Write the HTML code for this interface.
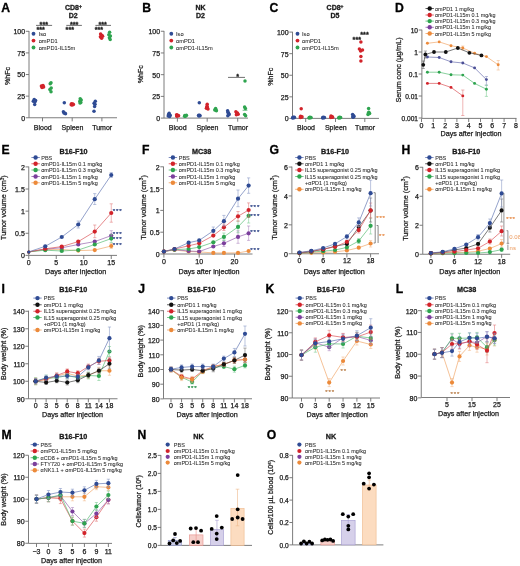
<!DOCTYPE html>
<html><head><meta charset="utf-8"><style>
html,body{margin:0;padding:0;background:#fff;}
svg{display:block;}
text{font-family:"Liberation Sans", Arial, sans-serif;}
</style></head><body>
<svg width="520" height="566" viewBox="0 0 520 566">
<rect width="520" height="566" fill="#fff"/>
<text x="1.25" y="11.7" font-size="12.2" text-anchor="start" font-weight="bold" fill="#000" stroke="#000" stroke-width="0.3">A</text>
<line x1="29" y1="31" x2="29" y2="117.75" stroke="#6e6e6e" stroke-width="0.9"/>
<line x1="25.8" y1="117.75" x2="29" y2="117.75" stroke="#6e6e6e" stroke-width="0.9"/>
<text x="25.1" y="120.67" font-size="7" text-anchor="end" fill="#1a1a1a" stroke="#1a1a1a" stroke-width="0.25">0</text>
<line x1="25.8" y1="96.14" x2="29" y2="96.14" stroke="#6e6e6e" stroke-width="0.9"/>
<text x="25.1" y="99.06" font-size="7" text-anchor="end" fill="#1a1a1a" stroke="#1a1a1a" stroke-width="0.25">25</text>
<line x1="25.8" y1="74.53" x2="29" y2="74.53" stroke="#6e6e6e" stroke-width="0.9"/>
<text x="25.1" y="77.45" font-size="7" text-anchor="end" fill="#1a1a1a" stroke="#1a1a1a" stroke-width="0.25">50</text>
<line x1="25.8" y1="52.91" x2="29" y2="52.91" stroke="#6e6e6e" stroke-width="0.9"/>
<text x="25.1" y="55.83" font-size="7" text-anchor="end" fill="#1a1a1a" stroke="#1a1a1a" stroke-width="0.25">75</text>
<line x1="25.8" y1="31.3" x2="29" y2="31.3" stroke="#6e6e6e" stroke-width="0.9"/>
<text x="25.1" y="34.22" font-size="7" text-anchor="end" fill="#1a1a1a" stroke="#1a1a1a" stroke-width="0.25">100</text>
<line x1="29" y1="117.75" x2="117" y2="117.75" stroke="#6e6e6e" stroke-width="0.9"/>
<line x1="42.5" y1="117.75" x2="42.5" y2="121.35" stroke="#6e6e6e" stroke-width="0.9"/>
<line x1="72.2" y1="117.75" x2="72.2" y2="121.35" stroke="#6e6e6e" stroke-width="0.9"/>
<line x1="101.9" y1="117.75" x2="101.9" y2="121.35" stroke="#6e6e6e" stroke-width="0.9"/>
<text x="42.8" y="129.7" font-size="7" text-anchor="middle" fill="#1a1a1a" stroke="#1a1a1a" stroke-width="0.25">Blood</text>
<text x="72.5" y="129.7" font-size="7" text-anchor="middle" fill="#1a1a1a" stroke="#1a1a1a" stroke-width="0.25">Spleen</text>
<text x="102.2" y="129.7" font-size="7" text-anchor="middle" fill="#1a1a1a" stroke="#1a1a1a" stroke-width="0.25">Tumor</text>
<text x="9.6" y="76.03" font-size="7" text-anchor="middle" fill="#1a1a1a" stroke="#1a1a1a" stroke-width="0.25" transform="rotate(-90 9.6 76.03)">%hFc</text>
<circle cx="34.2" cy="99.6" r="1.75" fill="#2f4b94"/>
<circle cx="35.6" cy="100.46" r="1.75" fill="#2f4b94"/>
<circle cx="33.3" cy="101.32" r="1.75" fill="#2f4b94"/>
<circle cx="35" cy="101.76" r="1.75" fill="#2f4b94"/>
<circle cx="34.7" cy="104.61" r="1.75" fill="#2f4b94"/>
<circle cx="41.4" cy="85.94" r="1.75" fill="#d2232a"/>
<circle cx="42.6" cy="86.46" r="1.75" fill="#d2232a"/>
<circle cx="43.6" cy="87.06" r="1.75" fill="#d2232a"/>
<circle cx="42" cy="87.49" r="1.75" fill="#d2232a"/>
<circle cx="43" cy="85.59" r="1.75" fill="#d2232a"/>
<circle cx="51" cy="82.65" r="1.75" fill="#2ea44f"/>
<circle cx="50.2" cy="83.86" r="1.75" fill="#2ea44f"/>
<circle cx="51.2" cy="87.92" r="1.75" fill="#2ea44f"/>
<circle cx="49.9" cy="89.39" r="1.75" fill="#2ea44f"/>
<circle cx="51" cy="91.64" r="1.75" fill="#2ea44f"/>
<circle cx="64.3" cy="102.79" r="1.75" fill="#2f4b94"/>
<circle cx="63.4" cy="111.87" r="1.75" fill="#2f4b94"/>
<circle cx="65" cy="113.25" r="1.75" fill="#2f4b94"/>
<circle cx="64" cy="112.91" r="1.75" fill="#2f4b94"/>
<circle cx="65.5" cy="113.77" r="1.75" fill="#2f4b94"/>
<circle cx="71.5" cy="103.75" r="1.75" fill="#d2232a"/>
<circle cx="72.8" cy="103.92" r="1.75" fill="#d2232a"/>
<circle cx="72.2" cy="104.96" r="1.75" fill="#d2232a"/>
<circle cx="73.4" cy="104.61" r="1.75" fill="#d2232a"/>
<circle cx="71.2" cy="104.78" r="1.75" fill="#d2232a"/>
<circle cx="80.2" cy="98.82" r="1.75" fill="#2ea44f"/>
<circle cx="81.2" cy="100.11" r="1.75" fill="#2ea44f"/>
<circle cx="79.8" cy="101.32" r="1.75" fill="#2ea44f"/>
<circle cx="80.8" cy="102.53" r="1.75" fill="#2ea44f"/>
<circle cx="80" cy="103.05" r="1.75" fill="#2ea44f"/>
<circle cx="95.3" cy="101.32" r="1.75" fill="#2f4b94"/>
<circle cx="94.1" cy="103.23" r="1.75" fill="#2f4b94"/>
<circle cx="95" cy="104.35" r="1.75" fill="#2f4b94"/>
<circle cx="94.6" cy="106.51" r="1.75" fill="#2f4b94"/>
<circle cx="94" cy="111.18" r="1.75" fill="#2f4b94"/>
<circle cx="100.6" cy="33.89" r="1.75" fill="#d2232a"/>
<circle cx="102" cy="35.45" r="1.75" fill="#d2232a"/>
<circle cx="100.4" cy="36.66" r="1.75" fill="#d2232a"/>
<circle cx="101.6" cy="38.22" r="1.75" fill="#d2232a"/>
<circle cx="102.6" cy="36.14" r="1.75" fill="#d2232a"/>
<circle cx="109.6" cy="32.34" r="1.75" fill="#2ea44f"/>
<circle cx="108.8" cy="34.76" r="1.75" fill="#2ea44f"/>
<circle cx="110.4" cy="35.97" r="1.75" fill="#2ea44f"/>
<circle cx="109.4" cy="37.7" r="1.75" fill="#2ea44f"/>
<circle cx="110.2" cy="39.6" r="1.75" fill="#2ea44f"/>
<circle cx="33.5" cy="33.75" r="1.9" fill="#2f4b94"/>
<text x="38.7" y="35.75" font-size="5.7" text-anchor="start" fill="#2a2a2a" stroke="#2a2a2a" stroke-width="0.06">Iso</text>
<circle cx="33.5" cy="40.6" r="1.9" fill="#d2232a"/>
<text x="38.7" y="42.6" font-size="5.7" text-anchor="start" fill="#2a2a2a" stroke="#2a2a2a" stroke-width="0.06">omPD1</text>
<circle cx="33.5" cy="47.5" r="1.9" fill="#2ea44f"/>
<text x="38.7" y="49.5" font-size="5.7" text-anchor="start" fill="#2a2a2a" stroke="#2a2a2a" stroke-width="0.06">omPD1-IL15m</text>
<text x="73.3" y="10.2" font-size="7" text-anchor="middle" font-weight="bold" fill="#1a1a1a" stroke="#1a1a1a" stroke-width="0.3">CD8<tspan font-size="4.8" dy="-2.6">+</tspan></text>
<text x="73.3" y="18.2" font-size="7" text-anchor="middle" font-weight="bold" fill="#1a1a1a" stroke="#1a1a1a" stroke-width="0.3">D2</text>
<line x1="36" y1="25.4" x2="52.1" y2="25.4" stroke="#333" stroke-width="0.7"/>
<text x="43.8" y="26.63" font-size="7.2" text-anchor="middle" font-weight="bold" fill="#1a1a1a" stroke="#1a1a1a" stroke-width="0.3">***</text>
<text x="40.6" y="32.23" font-size="7.2" text-anchor="middle" font-weight="bold" fill="#1a1a1a" stroke="#1a1a1a" stroke-width="0.3">***</text>
<line x1="66.3" y1="25.4" x2="81.9" y2="25.4" stroke="#333" stroke-width="0.7"/>
<text x="74.1" y="26.63" font-size="7.2" text-anchor="middle" font-weight="bold" fill="#1a1a1a" stroke="#1a1a1a" stroke-width="0.3">***</text>
<text x="69.8" y="32.23" font-size="7.2" text-anchor="middle" font-weight="bold" fill="#1a1a1a" stroke="#1a1a1a" stroke-width="0.3">***</text>
<line x1="95.4" y1="25.4" x2="111" y2="25.4" stroke="#333" stroke-width="0.7"/>
<text x="102.7" y="26.63" font-size="7.2" text-anchor="middle" font-weight="bold" fill="#1a1a1a" stroke="#1a1a1a" stroke-width="0.3">***</text>
<text x="98.9" y="32.23" font-size="7.2" text-anchor="middle" font-weight="bold" fill="#1a1a1a" stroke="#1a1a1a" stroke-width="0.3">***</text>
<text x="142.2" y="11.7" font-size="12.2" text-anchor="start" font-weight="bold" fill="#000" stroke="#000" stroke-width="0.3">B</text>
<line x1="164" y1="30.95" x2="164" y2="118.1" stroke="#6e6e6e" stroke-width="0.9"/>
<line x1="160.8" y1="118.1" x2="164" y2="118.1" stroke="#6e6e6e" stroke-width="0.9"/>
<text x="160.1" y="121.02" font-size="7" text-anchor="end" fill="#1a1a1a" stroke="#1a1a1a" stroke-width="0.25">0</text>
<line x1="160.8" y1="96.39" x2="164" y2="96.39" stroke="#6e6e6e" stroke-width="0.9"/>
<text x="160.1" y="99.31" font-size="7" text-anchor="end" fill="#1a1a1a" stroke="#1a1a1a" stroke-width="0.25">25</text>
<line x1="160.8" y1="74.67" x2="164" y2="74.67" stroke="#6e6e6e" stroke-width="0.9"/>
<text x="160.1" y="77.59" font-size="7" text-anchor="end" fill="#1a1a1a" stroke="#1a1a1a" stroke-width="0.25">50</text>
<line x1="160.8" y1="52.96" x2="164" y2="52.96" stroke="#6e6e6e" stroke-width="0.9"/>
<text x="160.1" y="55.88" font-size="7" text-anchor="end" fill="#1a1a1a" stroke="#1a1a1a" stroke-width="0.25">75</text>
<line x1="160.8" y1="31.25" x2="164" y2="31.25" stroke="#6e6e6e" stroke-width="0.9"/>
<text x="160.1" y="34.17" font-size="7" text-anchor="end" fill="#1a1a1a" stroke="#1a1a1a" stroke-width="0.25">100</text>
<line x1="164" y1="118.1" x2="248" y2="118.1" stroke="#6e6e6e" stroke-width="0.9"/>
<line x1="177.4" y1="118.1" x2="177.4" y2="121.7" stroke="#6e6e6e" stroke-width="0.9"/>
<line x1="207.2" y1="118.1" x2="207.2" y2="121.7" stroke="#6e6e6e" stroke-width="0.9"/>
<line x1="237.7" y1="118.1" x2="237.7" y2="121.7" stroke="#6e6e6e" stroke-width="0.9"/>
<text x="177.7" y="129.7" font-size="7" text-anchor="middle" fill="#1a1a1a" stroke="#1a1a1a" stroke-width="0.25">Blood</text>
<text x="207.5" y="129.7" font-size="7" text-anchor="middle" fill="#1a1a1a" stroke="#1a1a1a" stroke-width="0.25">Spleen</text>
<text x="238" y="129.7" font-size="7" text-anchor="middle" fill="#1a1a1a" stroke="#1a1a1a" stroke-width="0.25">Tumor</text>
<text x="143" y="74.2" font-size="7" text-anchor="middle" fill="#1a1a1a" stroke="#1a1a1a" stroke-width="0.25" transform="rotate(-90 143 74.2)">%hFc</text>
<circle cx="169.1" cy="113.32" r="1.75" fill="#2f4b94"/>
<circle cx="168.2" cy="115.93" r="1.75" fill="#2f4b94"/>
<circle cx="170.2" cy="115.32" r="1.75" fill="#2f4b94"/>
<circle cx="169.6" cy="116.54" r="1.75" fill="#2f4b94"/>
<circle cx="168.6" cy="114.45" r="1.75" fill="#2f4b94"/>
<circle cx="176.6" cy="114.8" r="1.75" fill="#d2232a"/>
<circle cx="177.8" cy="115.32" r="1.75" fill="#d2232a"/>
<circle cx="178.6" cy="115.84" r="1.75" fill="#d2232a"/>
<circle cx="176.8" cy="116.19" r="1.75" fill="#d2232a"/>
<circle cx="177.6" cy="115.49" r="1.75" fill="#d2232a"/>
<circle cx="184.8" cy="115.49" r="1.75" fill="#2ea44f"/>
<circle cx="186" cy="115.84" r="1.75" fill="#2ea44f"/>
<circle cx="185.2" cy="116.19" r="1.75" fill="#2ea44f"/>
<circle cx="186.4" cy="115.32" r="1.75" fill="#2ea44f"/>
<circle cx="184.6" cy="116.36" r="1.75" fill="#2ea44f"/>
<circle cx="199.3" cy="102.73" r="1.75" fill="#2f4b94"/>
<circle cx="198.6" cy="115.32" r="1.75" fill="#2f4b94"/>
<circle cx="200" cy="115.84" r="1.75" fill="#2f4b94"/>
<circle cx="199.6" cy="115.15" r="1.75" fill="#2f4b94"/>
<circle cx="198.8" cy="116.02" r="1.75" fill="#2f4b94"/>
<circle cx="207.2" cy="104.2" r="1.75" fill="#d2232a"/>
<circle cx="207.2" cy="107.16" r="1.75" fill="#d2232a"/>
<circle cx="206.4" cy="108.37" r="1.75" fill="#d2232a"/>
<circle cx="208" cy="108.89" r="1.75" fill="#d2232a"/>
<circle cx="207" cy="106.29" r="1.75" fill="#d2232a"/>
<circle cx="215.6" cy="108.55" r="1.75" fill="#2ea44f"/>
<circle cx="214.8" cy="109.94" r="1.75" fill="#2ea44f"/>
<circle cx="216.4" cy="110.63" r="1.75" fill="#2ea44f"/>
<circle cx="215.4" cy="109.41" r="1.75" fill="#2ea44f"/>
<circle cx="216" cy="110.11" r="1.75" fill="#2ea44f"/>
<circle cx="227.6" cy="110.8" r="1.75" fill="#2f4b94"/>
<circle cx="228.6" cy="113.24" r="1.75" fill="#2f4b94"/>
<circle cx="227.8" cy="115.84" r="1.75" fill="#2f4b94"/>
<circle cx="229.2" cy="114.45" r="1.75" fill="#2f4b94"/>
<circle cx="228" cy="112.37" r="1.75" fill="#2f4b94"/>
<circle cx="235.9" cy="111.85" r="1.75" fill="#d2232a"/>
<circle cx="236.8" cy="113.76" r="1.75" fill="#d2232a"/>
<circle cx="238.2" cy="114.28" r="1.75" fill="#d2232a"/>
<circle cx="236.4" cy="114.63" r="1.75" fill="#d2232a"/>
<circle cx="237.4" cy="113.06" r="1.75" fill="#d2232a"/>
<circle cx="245" cy="81.1" r="1.75" fill="#2ea44f"/>
<circle cx="244.6" cy="106.98" r="1.75" fill="#2ea44f"/>
<circle cx="245.4" cy="108.55" r="1.75" fill="#2ea44f"/>
<circle cx="244.6" cy="114.45" r="1.75" fill="#2ea44f"/>
<circle cx="245.6" cy="115.84" r="1.75" fill="#2ea44f"/>
<circle cx="171.3" cy="33.75" r="1.9" fill="#2f4b94"/>
<text x="176" y="35.75" font-size="5.7" text-anchor="start" fill="#2a2a2a" stroke="#2a2a2a" stroke-width="0.06">Iso</text>
<circle cx="171.3" cy="40.6" r="1.9" fill="#d2232a"/>
<text x="176" y="42.6" font-size="5.7" text-anchor="start" fill="#2a2a2a" stroke="#2a2a2a" stroke-width="0.06">omPD1</text>
<circle cx="171.3" cy="47.5" r="1.9" fill="#2ea44f"/>
<text x="176" y="49.5" font-size="5.7" text-anchor="start" fill="#2a2a2a" stroke="#2a2a2a" stroke-width="0.06">omPD1-IL15m</text>
<text x="200.5" y="10.2" font-size="7" text-anchor="middle" font-weight="bold" fill="#1a1a1a" stroke="#1a1a1a" stroke-width="0.3">NK</text>
<text x="200.5" y="18.2" font-size="7" text-anchor="middle" font-weight="bold" fill="#1a1a1a" stroke="#1a1a1a" stroke-width="0.3">D2</text>
<line x1="242.6" y1="110.28" x2="247.4" y2="110.28" stroke="#2ea44f" stroke-width="0.7"/>
<line x1="228" y1="77.4" x2="245" y2="77.4" stroke="#333" stroke-width="0.7"/>
<text x="237.7" y="78.93" font-size="7.2" text-anchor="middle" font-weight="bold" fill="#1a1a1a" stroke="#1a1a1a" stroke-width="0.3">*</text>
<text x="269.5" y="11.7" font-size="12.2" text-anchor="start" font-weight="bold" fill="#000" stroke="#000" stroke-width="0.3">C</text>
<line x1="292.5" y1="31.8" x2="292.5" y2="118.4" stroke="#6e6e6e" stroke-width="0.9"/>
<line x1="289.3" y1="118.4" x2="292.5" y2="118.4" stroke="#6e6e6e" stroke-width="0.9"/>
<text x="288.6" y="121.32" font-size="7" text-anchor="end" fill="#1a1a1a" stroke="#1a1a1a" stroke-width="0.25">0</text>
<line x1="289.3" y1="96.83" x2="292.5" y2="96.83" stroke="#6e6e6e" stroke-width="0.9"/>
<text x="288.6" y="99.75" font-size="7" text-anchor="end" fill="#1a1a1a" stroke="#1a1a1a" stroke-width="0.25">25</text>
<line x1="289.3" y1="75.25" x2="292.5" y2="75.25" stroke="#6e6e6e" stroke-width="0.9"/>
<text x="288.6" y="78.17" font-size="7" text-anchor="end" fill="#1a1a1a" stroke="#1a1a1a" stroke-width="0.25">50</text>
<line x1="289.3" y1="53.67" x2="292.5" y2="53.67" stroke="#6e6e6e" stroke-width="0.9"/>
<text x="288.6" y="56.59" font-size="7" text-anchor="end" fill="#1a1a1a" stroke="#1a1a1a" stroke-width="0.25">75</text>
<line x1="289.3" y1="32.1" x2="292.5" y2="32.1" stroke="#6e6e6e" stroke-width="0.9"/>
<text x="288.6" y="35.02" font-size="7" text-anchor="end" fill="#1a1a1a" stroke="#1a1a1a" stroke-width="0.25">100</text>
<line x1="292.5" y1="118.4" x2="379" y2="118.4" stroke="#6e6e6e" stroke-width="0.9"/>
<line x1="305.7" y1="118.4" x2="305.7" y2="122" stroke="#6e6e6e" stroke-width="0.9"/>
<line x1="335.5" y1="118.4" x2="335.5" y2="122" stroke="#6e6e6e" stroke-width="0.9"/>
<line x1="364.8" y1="118.4" x2="364.8" y2="122" stroke="#6e6e6e" stroke-width="0.9"/>
<text x="306" y="129.7" font-size="7" text-anchor="middle" fill="#1a1a1a" stroke="#1a1a1a" stroke-width="0.25">Blood</text>
<text x="335.8" y="129.7" font-size="7" text-anchor="middle" fill="#1a1a1a" stroke="#1a1a1a" stroke-width="0.25">Spleen</text>
<text x="365.1" y="129.7" font-size="7" text-anchor="middle" fill="#1a1a1a" stroke="#1a1a1a" stroke-width="0.25">Tumor</text>
<text x="273" y="76.75" font-size="7" text-anchor="middle" fill="#1a1a1a" stroke="#1a1a1a" stroke-width="0.25" transform="rotate(-90 273 76.75)">%hFc</text>
<circle cx="292.8" cy="117.54" r="1.75" fill="#2f4b94"/>
<circle cx="294" cy="117.71" r="1.75" fill="#2f4b94"/>
<circle cx="293.4" cy="117.19" r="1.75" fill="#2f4b94"/>
<circle cx="292.6" cy="117.88" r="1.75" fill="#2f4b94"/>
<circle cx="294.4" cy="117.36" r="1.75" fill="#2f4b94"/>
<circle cx="301.2" cy="108.73" r="1.75" fill="#d2232a"/>
<circle cx="300.6" cy="116.16" r="1.75" fill="#d2232a"/>
<circle cx="302" cy="116.85" r="1.75" fill="#d2232a"/>
<circle cx="301.4" cy="117.36" r="1.75" fill="#d2232a"/>
<circle cx="300.4" cy="117.54" r="1.75" fill="#d2232a"/>
<circle cx="309.4" cy="117.54" r="1.75" fill="#2ea44f"/>
<circle cx="310.6" cy="117.71" r="1.75" fill="#2ea44f"/>
<circle cx="310" cy="117.36" r="1.75" fill="#2ea44f"/>
<circle cx="309" cy="117.88" r="1.75" fill="#2ea44f"/>
<circle cx="311" cy="117.62" r="1.75" fill="#2ea44f"/>
<circle cx="322.8" cy="117.54" r="1.75" fill="#2f4b94"/>
<circle cx="324" cy="117.71" r="1.75" fill="#2f4b94"/>
<circle cx="323.4" cy="117.36" r="1.75" fill="#2f4b94"/>
<circle cx="322.6" cy="117.88" r="1.75" fill="#2f4b94"/>
<circle cx="324.4" cy="117.54" r="1.75" fill="#2f4b94"/>
<circle cx="331" cy="115.98" r="1.75" fill="#d2232a"/>
<circle cx="332.2" cy="116.67" r="1.75" fill="#d2232a"/>
<circle cx="331.6" cy="117.36" r="1.75" fill="#d2232a"/>
<circle cx="330.8" cy="117.54" r="1.75" fill="#d2232a"/>
<circle cx="332.6" cy="117.19" r="1.75" fill="#d2232a"/>
<circle cx="339" cy="117.54" r="1.75" fill="#2ea44f"/>
<circle cx="340.2" cy="117.71" r="1.75" fill="#2ea44f"/>
<circle cx="339.6" cy="117.36" r="1.75" fill="#2ea44f"/>
<circle cx="338.8" cy="117.88" r="1.75" fill="#2ea44f"/>
<circle cx="340.6" cy="117.54" r="1.75" fill="#2ea44f"/>
<circle cx="352.6" cy="114.6" r="1.75" fill="#2f4b94"/>
<circle cx="353.6" cy="115.81" r="1.75" fill="#2f4b94"/>
<circle cx="352.8" cy="116.85" r="1.75" fill="#2f4b94"/>
<circle cx="354" cy="116.5" r="1.75" fill="#2f4b94"/>
<circle cx="353.2" cy="117.36" r="1.75" fill="#2f4b94"/>
<circle cx="360.9" cy="42.11" r="1.75" fill="#d2232a"/>
<circle cx="359.4" cy="49.1" r="1.75" fill="#d2232a"/>
<circle cx="362.5" cy="49.96" r="1.75" fill="#d2232a"/>
<circle cx="360.6" cy="50.91" r="1.75" fill="#d2232a"/>
<circle cx="360.9" cy="56.61" r="1.75" fill="#d2232a"/>
<circle cx="360.9" cy="61.01" r="1.75" fill="#d2232a"/>
<circle cx="368.6" cy="108.39" r="1.75" fill="#2ea44f"/>
<circle cx="368.9" cy="112.19" r="1.75" fill="#2ea44f"/>
<circle cx="368" cy="114.43" r="1.75" fill="#2ea44f"/>
<circle cx="369.6" cy="113.57" r="1.75" fill="#2ea44f"/>
<circle cx="368.4" cy="112.88" r="1.75" fill="#2ea44f"/>
<circle cx="297.5" cy="33.75" r="1.9" fill="#2f4b94"/>
<text x="302" y="35.75" font-size="5.7" text-anchor="start" fill="#2a2a2a" stroke="#2a2a2a" stroke-width="0.06">Iso</text>
<circle cx="297.5" cy="40.6" r="1.9" fill="#d2232a"/>
<text x="302" y="42.6" font-size="5.7" text-anchor="start" fill="#2a2a2a" stroke="#2a2a2a" stroke-width="0.06">omPD1</text>
<circle cx="297.5" cy="47.5" r="1.9" fill="#2ea44f"/>
<text x="302" y="49.5" font-size="5.7" text-anchor="start" fill="#2a2a2a" stroke="#2a2a2a" stroke-width="0.06">omPD1-IL15m</text>
<text x="335" y="10.2" font-size="7" text-anchor="middle" font-weight="bold" fill="#1a1a1a" stroke="#1a1a1a" stroke-width="0.3">CD8<tspan font-size="4.8" dy="-2.6">+</tspan></text>
<text x="335" y="18.2" font-size="7" text-anchor="middle" font-weight="bold" fill="#1a1a1a" stroke="#1a1a1a" stroke-width="0.3">D5</text>
<text x="364.5" y="37.13" font-size="7.2" text-anchor="middle" font-weight="bold" fill="#1a1a1a" stroke="#1a1a1a" stroke-width="0.3">***</text>
<text x="356.8" y="41.93" font-size="7.2" text-anchor="middle" font-weight="bold" fill="#1a1a1a" stroke="#1a1a1a" stroke-width="0.3">***</text>
<text x="395.1" y="11.7" font-size="12.2" text-anchor="start" font-weight="bold" fill="#000" stroke="#000" stroke-width="0.3">D</text>
<line x1="421.9" y1="29.7" x2="421.9" y2="118.1" stroke="#6e6e6e" stroke-width="0.9"/>
<line x1="418.7" y1="30" x2="421.9" y2="30" stroke="#6e6e6e" stroke-width="0.9"/>
<text x="418" y="32.78" font-size="6.6" text-anchor="end" fill="#1a1a1a" stroke="#1a1a1a" stroke-width="0.25">10</text>
<line x1="418.7" y1="52" x2="421.9" y2="52" stroke="#6e6e6e" stroke-width="0.9"/>
<text x="418" y="54.78" font-size="6.6" text-anchor="end" fill="#1a1a1a" stroke="#1a1a1a" stroke-width="0.25">1</text>
<line x1="418.7" y1="74" x2="421.9" y2="74" stroke="#6e6e6e" stroke-width="0.9"/>
<text x="418" y="76.78" font-size="6.6" text-anchor="end" fill="#1a1a1a" stroke="#1a1a1a" stroke-width="0.25">0.1</text>
<line x1="418.7" y1="96" x2="421.9" y2="96" stroke="#6e6e6e" stroke-width="0.9"/>
<text x="418" y="98.78" font-size="6.6" text-anchor="end" fill="#1a1a1a" stroke="#1a1a1a" stroke-width="0.25">0.01</text>
<line x1="418.7" y1="118" x2="421.9" y2="118" stroke="#6e6e6e" stroke-width="0.9"/>
<text x="418" y="120.78" font-size="6.6" text-anchor="end" fill="#1a1a1a" stroke="#1a1a1a" stroke-width="0.25">0.001</text>
<line x1="421.9" y1="118.4" x2="516.5" y2="118.4" stroke="#6e6e6e" stroke-width="0.9"/>
<line x1="421.5" y1="118.4" x2="421.5" y2="122" stroke="#6e6e6e" stroke-width="0.9"/>
<text x="421.5" y="127.7" font-size="7" text-anchor="middle" fill="#1a1a1a" stroke="#1a1a1a" stroke-width="0.25">0</text>
<line x1="433.3" y1="118.4" x2="433.3" y2="122" stroke="#6e6e6e" stroke-width="0.9"/>
<text x="433.3" y="127.7" font-size="7" text-anchor="middle" fill="#1a1a1a" stroke="#1a1a1a" stroke-width="0.25">1</text>
<line x1="445.1" y1="118.4" x2="445.1" y2="122" stroke="#6e6e6e" stroke-width="0.9"/>
<text x="445.1" y="127.7" font-size="7" text-anchor="middle" fill="#1a1a1a" stroke="#1a1a1a" stroke-width="0.25">2</text>
<line x1="456.9" y1="118.4" x2="456.9" y2="122" stroke="#6e6e6e" stroke-width="0.9"/>
<text x="456.9" y="127.7" font-size="7" text-anchor="middle" fill="#1a1a1a" stroke="#1a1a1a" stroke-width="0.25">3</text>
<line x1="468.7" y1="118.4" x2="468.7" y2="122" stroke="#6e6e6e" stroke-width="0.9"/>
<text x="468.7" y="127.7" font-size="7" text-anchor="middle" fill="#1a1a1a" stroke="#1a1a1a" stroke-width="0.25">4</text>
<line x1="480.5" y1="118.4" x2="480.5" y2="122" stroke="#6e6e6e" stroke-width="0.9"/>
<text x="480.5" y="127.7" font-size="7" text-anchor="middle" fill="#1a1a1a" stroke="#1a1a1a" stroke-width="0.25">5</text>
<line x1="492.3" y1="118.4" x2="492.3" y2="122" stroke="#6e6e6e" stroke-width="0.9"/>
<text x="492.3" y="127.7" font-size="7" text-anchor="middle" fill="#1a1a1a" stroke="#1a1a1a" stroke-width="0.25">6</text>
<line x1="504.1" y1="118.4" x2="504.1" y2="122" stroke="#6e6e6e" stroke-width="0.9"/>
<text x="504.1" y="127.7" font-size="7" text-anchor="middle" fill="#1a1a1a" stroke="#1a1a1a" stroke-width="0.25">7</text>
<line x1="515.9" y1="118.4" x2="515.9" y2="122" stroke="#6e6e6e" stroke-width="0.9"/>
<text x="515.9" y="127.7" font-size="7" text-anchor="middle" fill="#1a1a1a" stroke="#1a1a1a" stroke-width="0.25">8</text>
<text x="471" y="136.3" font-size="7.2" text-anchor="middle" fill="#1a1a1a" stroke="#1a1a1a" stroke-width="0.25">Days after injection</text>
<text x="400.8" y="69.9" font-size="7.2" text-anchor="middle" fill="#1a1a1a" stroke="#1a1a1a" stroke-width="0.25" transform="rotate(-90 400.8 69.9)">Serum conc (µg/mL)</text>
<line x1="425.5" y1="8.5" x2="433.9" y2="8.5" stroke="#333333" stroke-width="0.8"/>
<circle cx="429.7" cy="8.5" r="2.2" fill="#111111"/>
<text x="435" y="10.5" font-size="5.45" text-anchor="start" fill="#2a2a2a" stroke="#2a2a2a" stroke-width="0.06">omPD1 1 mg/kg</text>
<line x1="425.5" y1="15" x2="433.9" y2="15" stroke="#d9474c" stroke-width="0.8"/>
<circle cx="429.7" cy="15" r="2.2" fill="#d2232a"/>
<text x="435" y="17" font-size="5.45" text-anchor="start" fill="#2a2a2a" stroke="#2a2a2a" stroke-width="0.06">omPD1-IL15m 0.1 mg/kg</text>
<line x1="425.5" y1="21.1" x2="433.9" y2="21.1" stroke="#4cb86a" stroke-width="0.8"/>
<circle cx="429.7" cy="21.1" r="2.2" fill="#2ea44f"/>
<text x="435" y="23.1" font-size="5.45" text-anchor="start" fill="#2a2a2a" stroke="#2a2a2a" stroke-width="0.06">omPD1-IL15m 0.3 mg/kg</text>
<line x1="425.5" y1="27.3" x2="433.9" y2="27.3" stroke="#8e5aa8" stroke-width="0.8"/>
<circle cx="429.7" cy="27.3" r="2.2" fill="#7b3f9c"/>
<text x="435" y="29.3" font-size="5.45" text-anchor="start" fill="#2a2a2a" stroke="#2a2a2a" stroke-width="0.06">omPD1-IL15m 1 mg/kg</text>
<line x1="425.5" y1="33.5" x2="433.9" y2="33.5" stroke="#f0a060" stroke-width="0.8"/>
<circle cx="429.7" cy="33.5" r="2.2" fill="#ec8a3a"/>
<text x="435" y="35.5" font-size="5.45" text-anchor="start" fill="#2a2a2a" stroke="#2a2a2a" stroke-width="0.06">omPD1-IL15m 5 mg/kg</text>
<line x1="462.8" y1="46" x2="462.8" y2="50" stroke="#f3b787" stroke-width="0.55"/>
<line x1="461.2" y1="46" x2="464.4" y2="46" stroke="#f3b787" stroke-width="0.55"/>
<line x1="461.2" y1="50" x2="464.4" y2="50" stroke="#f3b787" stroke-width="0.55"/>
<line x1="498.2" y1="60.5" x2="498.2" y2="70" stroke="#f3b787" stroke-width="0.55"/>
<line x1="496.6" y1="60.5" x2="499.8" y2="60.5" stroke="#f3b787" stroke-width="0.55"/>
<line x1="496.6" y1="70" x2="499.8" y2="70" stroke="#f3b787" stroke-width="0.55"/>
<polyline points="427.4,43.3 439.2,41.9 451,45.7 462.8,48 474.6,53.2 486.4,56.6 498.2,64.8" fill="none" stroke="#f0a060" stroke-width="0.65"/>
<circle cx="427.4" cy="43.3" r="1.45" fill="#ec8a3a"/>
<circle cx="439.2" cy="41.9" r="1.45" fill="#ec8a3a"/>
<circle cx="451" cy="45.7" r="1.45" fill="#ec8a3a"/>
<circle cx="462.8" cy="48" r="1.45" fill="#ec8a3a"/>
<circle cx="474.6" cy="53.2" r="1.45" fill="#ec8a3a"/>
<circle cx="486.4" cy="56.6" r="1.45" fill="#ec8a3a"/>
<circle cx="498.2" cy="64.8" r="1.45" fill="#ec8a3a"/>
<line x1="486.4" y1="76.5" x2="486.4" y2="85.2" stroke="#8589bd" stroke-width="0.55"/>
<line x1="484.8" y1="76.5" x2="488" y2="76.5" stroke="#8589bd" stroke-width="0.55"/>
<line x1="484.8" y1="85.2" x2="488" y2="85.2" stroke="#8589bd" stroke-width="0.55"/>
<polyline points="427.4,57 439.2,57.5 451,61.8 462.8,63 474.6,67.9 486.4,79.6" fill="none" stroke="#5d62a8" stroke-width="0.65"/>
<circle cx="427.4" cy="57" r="1.45" fill="#4b4f96"/>
<circle cx="439.2" cy="57.5" r="1.45" fill="#4b4f96"/>
<circle cx="451" cy="61.8" r="1.45" fill="#4b4f96"/>
<circle cx="462.8" cy="63" r="1.45" fill="#4b4f96"/>
<circle cx="474.6" cy="67.9" r="1.45" fill="#4b4f96"/>
<circle cx="486.4" cy="79.6" r="1.45" fill="#4b4f96"/>
<line x1="486.4" y1="85.2" x2="486.4" y2="96.4" stroke="#78c98f" stroke-width="0.55"/>
<line x1="484.8" y1="85.2" x2="488" y2="85.2" stroke="#78c98f" stroke-width="0.55"/>
<line x1="484.8" y1="96.4" x2="488" y2="96.4" stroke="#78c98f" stroke-width="0.55"/>
<polyline points="427.4,72.2 439.2,72.2 451,74.8 462.8,75.1 474.6,83.4 486.4,89.2" fill="none" stroke="#4cb86a" stroke-width="0.65"/>
<circle cx="427.4" cy="72.2" r="1.45" fill="#2ea44f"/>
<circle cx="439.2" cy="72.2" r="1.45" fill="#2ea44f"/>
<circle cx="451" cy="74.8" r="1.45" fill="#2ea44f"/>
<circle cx="462.8" cy="75.1" r="1.45" fill="#2ea44f"/>
<circle cx="474.6" cy="83.4" r="1.45" fill="#2ea44f"/>
<circle cx="486.4" cy="89.2" r="1.45" fill="#2ea44f"/>
<line x1="462.8" y1="90" x2="462.8" y2="115.5" stroke="#e27578" stroke-width="0.55"/>
<line x1="461.2" y1="90" x2="464.4" y2="90" stroke="#e27578" stroke-width="0.55"/>
<line x1="461.2" y1="115.5" x2="464.4" y2="115.5" stroke="#e27578" stroke-width="0.55"/>
<polyline points="427.4,83.4 439.2,83.4 451,87.4 462.8,95.9" fill="none" stroke="#d9474c" stroke-width="0.65"/>
<circle cx="427.4" cy="83.4" r="1.45" fill="#d2232a"/>
<circle cx="439.2" cy="83.4" r="1.45" fill="#d2232a"/>
<circle cx="451" cy="87.4" r="1.45" fill="#d2232a"/>
<circle cx="462.8" cy="95.9" r="1.45" fill="#d2232a"/>
<line x1="423.27" y1="61" x2="423.27" y2="68.5" stroke="#666666" stroke-width="0.55"/>
<line x1="421.67" y1="61" x2="424.87" y2="61" stroke="#666666" stroke-width="0.55"/>
<line x1="421.67" y1="68.5" x2="424.87" y2="68.5" stroke="#666666" stroke-width="0.55"/>
<line x1="425.39" y1="51" x2="425.39" y2="58" stroke="#666666" stroke-width="0.55"/>
<line x1="423.79" y1="51" x2="426.99" y2="51" stroke="#666666" stroke-width="0.55"/>
<line x1="423.79" y1="58" x2="426.99" y2="58" stroke="#666666" stroke-width="0.55"/>
<polyline points="423.27,64.8 425.39,54.4 434.01,52 445.81,52 457.84,48 469.41,52.8 481.44,55.4" fill="none" stroke="#333333" stroke-width="0.65"/>
<circle cx="423.27" cy="64.8" r="1.9" fill="#111111"/>
<circle cx="425.39" cy="54.4" r="1.9" fill="#111111"/>
<circle cx="434.01" cy="52" r="1.9" fill="#111111"/>
<circle cx="445.81" cy="52" r="1.9" fill="#111111"/>
<circle cx="457.84" cy="48" r="1.9" fill="#111111"/>
<circle cx="469.41" cy="52.8" r="1.9" fill="#111111"/>
<circle cx="481.44" cy="55.4" r="1.9" fill="#111111"/>
<text x="1.4" y="153.9" font-size="12.2" text-anchor="start" font-weight="bold" fill="#000" stroke="#000" stroke-width="0.3">E</text>
<text x="73.45" y="153.5" font-size="7.2" text-anchor="middle" font-weight="bold" fill="#1a1a1a" stroke="#1a1a1a" stroke-width="0.3">B16-F10</text>
<line x1="28.75" y1="166.6" x2="28.75" y2="255.4" stroke="#6e6e6e" stroke-width="0.9"/>
<line x1="25.55" y1="255.4" x2="28.75" y2="255.4" stroke="#6e6e6e" stroke-width="0.9"/>
<text x="24.85" y="258.32" font-size="7" text-anchor="end" fill="#1a1a1a" stroke="#1a1a1a" stroke-width="0.25">0</text>
<line x1="25.55" y1="233.28" x2="28.75" y2="233.28" stroke="#6e6e6e" stroke-width="0.9"/>
<text x="24.85" y="236.2" font-size="7" text-anchor="end" fill="#1a1a1a" stroke="#1a1a1a" stroke-width="0.25">0.5</text>
<line x1="25.55" y1="211.15" x2="28.75" y2="211.15" stroke="#6e6e6e" stroke-width="0.9"/>
<text x="24.85" y="214.07" font-size="7" text-anchor="end" fill="#1a1a1a" stroke="#1a1a1a" stroke-width="0.25">1</text>
<line x1="25.55" y1="189.03" x2="28.75" y2="189.03" stroke="#6e6e6e" stroke-width="0.9"/>
<text x="24.85" y="191.95" font-size="7" text-anchor="end" fill="#1a1a1a" stroke="#1a1a1a" stroke-width="0.25">1.5</text>
<line x1="25.55" y1="166.9" x2="28.75" y2="166.9" stroke="#6e6e6e" stroke-width="0.9"/>
<text x="24.85" y="169.82" font-size="7" text-anchor="end" fill="#1a1a1a" stroke="#1a1a1a" stroke-width="0.25">2</text>
<line x1="28.75" y1="255.4" x2="117" y2="255.4" stroke="#6e6e6e" stroke-width="0.9"/>
<line x1="28.75" y1="255.4" x2="28.75" y2="259" stroke="#6e6e6e" stroke-width="0.9"/>
<text x="28.75" y="264.9" font-size="7" text-anchor="middle" fill="#1a1a1a" stroke="#1a1a1a" stroke-width="0.25">0</text>
<line x1="56.25" y1="255.4" x2="56.25" y2="259" stroke="#6e6e6e" stroke-width="0.9"/>
<text x="56.25" y="264.9" font-size="7" text-anchor="middle" fill="#1a1a1a" stroke="#1a1a1a" stroke-width="0.25">5</text>
<line x1="83.75" y1="255.4" x2="83.75" y2="259" stroke="#6e6e6e" stroke-width="0.9"/>
<text x="83.75" y="264.9" font-size="7" text-anchor="middle" fill="#1a1a1a" stroke="#1a1a1a" stroke-width="0.25">10</text>
<line x1="111.25" y1="255.4" x2="111.25" y2="259" stroke="#6e6e6e" stroke-width="0.9"/>
<text x="111.25" y="264.9" font-size="7" text-anchor="middle" fill="#1a1a1a" stroke="#1a1a1a" stroke-width="0.25">15</text>
<text x="75.6" y="273.8" font-size="7.2" text-anchor="middle" fill="#1a1a1a" stroke="#1a1a1a" stroke-width="0.25">Days after injection</text>
<text x="6.4" y="207.7" font-size="7.2" text-anchor="middle" fill="#1a1a1a" stroke="#1a1a1a" stroke-width="0.25" transform="rotate(-90 6.4 207.7)">Tumor volume (cm<tspan font-size="4.6" dy="-2.4">3</tspan><tspan dy="2.4">)</tspan></text>
<line x1="31.4" y1="157.5" x2="39.8" y2="157.5" stroke="#5a6fae" stroke-width="0.8"/>
<circle cx="35.6" cy="157.5" r="2.2" fill="#2f4b94"/>
<text x="41.25" y="159.5" font-size="5.5" text-anchor="start" fill="#2a2a2a" stroke="#2a2a2a" stroke-width="0.06">PBS</text>
<line x1="31.4" y1="163.75" x2="39.8" y2="163.75" stroke="#d9474c" stroke-width="0.8"/>
<circle cx="35.6" cy="163.75" r="2.2" fill="#d2232a"/>
<text x="41.25" y="165.75" font-size="5.5" text-anchor="start" fill="#2a2a2a" stroke="#2a2a2a" stroke-width="0.06">omPD1-IL15m 0.1 mg/kg</text>
<line x1="31.4" y1="170" x2="39.8" y2="170" stroke="#4cb86a" stroke-width="0.8"/>
<circle cx="35.6" cy="170" r="2.2" fill="#2ea44f"/>
<text x="41.25" y="172" font-size="5.5" text-anchor="start" fill="#2a2a2a" stroke="#2a2a2a" stroke-width="0.06">omPD1-IL15m 0.3 mg/kg</text>
<line x1="31.4" y1="176.5" x2="39.8" y2="176.5" stroke="#8e5aa8" stroke-width="0.8"/>
<circle cx="35.6" cy="176.5" r="2.2" fill="#7b3f9c"/>
<text x="41.25" y="178.5" font-size="5.5" text-anchor="start" fill="#2a2a2a" stroke="#2a2a2a" stroke-width="0.06">omPD1-IL15m 1 mg/kg</text>
<line x1="31.4" y1="182.75" x2="39.8" y2="182.75" stroke="#f0a060" stroke-width="0.8"/>
<circle cx="35.6" cy="182.75" r="2.2" fill="#ec8a3a"/>
<text x="41.25" y="184.75" font-size="5.5" text-anchor="start" fill="#2a2a2a" stroke="#2a2a2a" stroke-width="0.06">omPD1-IL15m 5 mg/kg</text>
<line x1="111.25" y1="243.5" x2="111.25" y2="248.5" stroke="#f3b787" stroke-width="0.55"/>
<line x1="109.65" y1="243.5" x2="112.85" y2="243.5" stroke="#f3b787" stroke-width="0.55"/>
<line x1="109.65" y1="248.5" x2="112.85" y2="248.5" stroke="#f3b787" stroke-width="0.55"/>
<polyline points="28.75,251.9 45.25,249.6 61.75,249.6 78.25,250.6 94.75,250.1 111.25,246" fill="none" stroke="#f0a060" stroke-width="0.65"/>
<circle cx="28.75" cy="251.9" r="1.5" fill="#ec8a3a"/>
<circle cx="45.25" cy="249.6" r="2.1" fill="#ec8a3a"/>
<circle cx="61.75" cy="249.6" r="2.1" fill="#ec8a3a"/>
<circle cx="78.25" cy="250.6" r="2.1" fill="#ec8a3a"/>
<circle cx="94.75" cy="250.1" r="2.1" fill="#ec8a3a"/>
<circle cx="111.25" cy="246" r="2.1" fill="#ec8a3a"/>
<line x1="111.25" y1="230.7" x2="111.25" y2="238.6" stroke="#aa83bd" stroke-width="0.55"/>
<line x1="109.65" y1="230.7" x2="112.85" y2="230.7" stroke="#aa83bd" stroke-width="0.55"/>
<line x1="109.65" y1="238.6" x2="112.85" y2="238.6" stroke="#aa83bd" stroke-width="0.55"/>
<polyline points="28.75,251.9 45.25,249.2 61.75,247.8 78.25,244.5 94.75,241.6 111.25,235.6" fill="none" stroke="#8e5aa8" stroke-width="0.65"/>
<circle cx="28.75" cy="251.9" r="1.5" fill="#7b3f9c"/>
<circle cx="45.25" cy="249.2" r="2.1" fill="#7b3f9c"/>
<circle cx="61.75" cy="247.8" r="2.1" fill="#7b3f9c"/>
<circle cx="78.25" cy="244.5" r="2.1" fill="#7b3f9c"/>
<circle cx="94.75" cy="241.6" r="2.1" fill="#7b3f9c"/>
<circle cx="111.25" cy="235.6" r="2.1" fill="#7b3f9c"/>
<line x1="111.25" y1="234.5" x2="111.25" y2="242.5" stroke="#78c98f" stroke-width="0.55"/>
<line x1="109.65" y1="234.5" x2="112.85" y2="234.5" stroke="#78c98f" stroke-width="0.55"/>
<line x1="109.65" y1="242.5" x2="112.85" y2="242.5" stroke="#78c98f" stroke-width="0.55"/>
<polyline points="28.75,251.9 45.25,250.2 61.75,251 78.25,250 94.75,244.5 111.25,238.6" fill="none" stroke="#4cb86a" stroke-width="0.65"/>
<circle cx="28.75" cy="251.9" r="1.5" fill="#2ea44f"/>
<circle cx="45.25" cy="250.2" r="2.1" fill="#2ea44f"/>
<circle cx="61.75" cy="251" r="2.1" fill="#2ea44f"/>
<circle cx="78.25" cy="250" r="2.1" fill="#2ea44f"/>
<circle cx="94.75" cy="244.5" r="2.1" fill="#2ea44f"/>
<circle cx="111.25" cy="238.6" r="2.1" fill="#2ea44f"/>
<line x1="94.75" y1="225" x2="94.75" y2="237.7" stroke="#e27578" stroke-width="0.55"/>
<line x1="93.15" y1="225" x2="96.35" y2="225" stroke="#e27578" stroke-width="0.55"/>
<line x1="93.15" y1="237.7" x2="96.35" y2="237.7" stroke="#e27578" stroke-width="0.55"/>
<line x1="111.25" y1="203.8" x2="111.25" y2="222.2" stroke="#e27578" stroke-width="0.55"/>
<line x1="109.65" y1="203.8" x2="112.85" y2="203.8" stroke="#e27578" stroke-width="0.55"/>
<line x1="109.65" y1="222.2" x2="112.85" y2="222.2" stroke="#e27578" stroke-width="0.55"/>
<polyline points="28.75,251.9 45.25,248.8 61.75,246.6 78.25,241.6 94.75,231.6 111.25,213" fill="none" stroke="#d9474c" stroke-width="0.65"/>
<circle cx="28.75" cy="251.9" r="1.5" fill="#d2232a"/>
<circle cx="45.25" cy="248.8" r="2.1" fill="#d2232a"/>
<circle cx="61.75" cy="246.6" r="2.1" fill="#d2232a"/>
<circle cx="78.25" cy="241.6" r="2.1" fill="#d2232a"/>
<circle cx="94.75" cy="231.6" r="2.1" fill="#d2232a"/>
<circle cx="111.25" cy="213" r="2.1" fill="#d2232a"/>
<line x1="78.25" y1="221" x2="78.25" y2="228" stroke="#8393c2" stroke-width="0.55"/>
<line x1="76.65" y1="221" x2="79.85" y2="221" stroke="#8393c2" stroke-width="0.55"/>
<line x1="76.65" y1="228" x2="79.85" y2="228" stroke="#8393c2" stroke-width="0.55"/>
<line x1="94.75" y1="193.6" x2="94.75" y2="204.5" stroke="#8393c2" stroke-width="0.55"/>
<line x1="93.15" y1="193.6" x2="96.35" y2="193.6" stroke="#8393c2" stroke-width="0.55"/>
<line x1="93.15" y1="204.5" x2="96.35" y2="204.5" stroke="#8393c2" stroke-width="0.55"/>
<line x1="111.25" y1="172.5" x2="111.25" y2="177.5" stroke="#8393c2" stroke-width="0.55"/>
<line x1="109.65" y1="172.5" x2="112.85" y2="172.5" stroke="#8393c2" stroke-width="0.55"/>
<line x1="109.65" y1="177.5" x2="112.85" y2="177.5" stroke="#8393c2" stroke-width="0.55"/>
<polyline points="28.75,251.9 45.25,246.3 61.75,237 78.25,224.5 94.75,199.2 111.25,175" fill="none" stroke="#5a6fae" stroke-width="0.65"/>
<circle cx="28.75" cy="251.9" r="1.5" fill="#2f4b94"/>
<circle cx="45.25" cy="246.3" r="2.1" fill="#2f4b94"/>
<circle cx="61.75" cy="237" r="2.1" fill="#2f4b94"/>
<circle cx="78.25" cy="224.5" r="2.1" fill="#2f4b94"/>
<circle cx="94.75" cy="199.2" r="2.1" fill="#2f4b94"/>
<circle cx="111.25" cy="175" r="2.1" fill="#2f4b94"/>
<text x="117.65" y="212.97" font-size="6.2" text-anchor="middle" fill="#3a4f8e" stroke="#3a4f8e" stroke-width="0.25" letter-spacing="0.9">***</text>
<text x="117.65" y="235.87" font-size="6.2" text-anchor="middle" fill="#3a4f8e" stroke="#3a4f8e" stroke-width="0.25" letter-spacing="0.9">***</text>
<text x="117.65" y="240.67" font-size="6.2" text-anchor="middle" fill="#3a4f8e" stroke="#3a4f8e" stroke-width="0.25" letter-spacing="0.9">***</text>
<text x="117.65" y="246.87" font-size="6.2" text-anchor="middle" fill="#3a4f8e" stroke="#3a4f8e" stroke-width="0.25" letter-spacing="0.9">***</text>
<text x="142" y="153.9" font-size="12.2" text-anchor="start" font-weight="bold" fill="#000" stroke="#000" stroke-width="0.3">F</text>
<text x="201.6" y="153.5" font-size="7.2" text-anchor="middle" font-weight="bold" fill="#1a1a1a" stroke="#1a1a1a" stroke-width="0.3">MC38</text>
<line x1="163.5" y1="166.6" x2="163.5" y2="254" stroke="#6e6e6e" stroke-width="0.9"/>
<line x1="160.3" y1="254" x2="163.5" y2="254" stroke="#6e6e6e" stroke-width="0.9"/>
<text x="159.6" y="256.92" font-size="7" text-anchor="end" fill="#1a1a1a" stroke="#1a1a1a" stroke-width="0.25">0</text>
<line x1="160.3" y1="232.2" x2="163.5" y2="232.2" stroke="#6e6e6e" stroke-width="0.9"/>
<text x="159.6" y="235.12" font-size="7" text-anchor="end" fill="#1a1a1a" stroke="#1a1a1a" stroke-width="0.25">0.5</text>
<line x1="160.3" y1="210.4" x2="163.5" y2="210.4" stroke="#6e6e6e" stroke-width="0.9"/>
<text x="159.6" y="213.32" font-size="7" text-anchor="end" fill="#1a1a1a" stroke="#1a1a1a" stroke-width="0.25">1</text>
<line x1="160.3" y1="188.6" x2="163.5" y2="188.6" stroke="#6e6e6e" stroke-width="0.9"/>
<text x="159.6" y="191.52" font-size="7" text-anchor="end" fill="#1a1a1a" stroke="#1a1a1a" stroke-width="0.25">1.5</text>
<line x1="160.3" y1="166.8" x2="163.5" y2="166.8" stroke="#6e6e6e" stroke-width="0.9"/>
<text x="159.6" y="169.72" font-size="7" text-anchor="end" fill="#1a1a1a" stroke="#1a1a1a" stroke-width="0.25">2</text>
<line x1="163.5" y1="254" x2="252.5" y2="254" stroke="#6e6e6e" stroke-width="0.9"/>
<line x1="163.9" y1="254" x2="163.9" y2="257.6" stroke="#6e6e6e" stroke-width="0.9"/>
<text x="163.9" y="263.5" font-size="7" text-anchor="middle" fill="#1a1a1a" stroke="#1a1a1a" stroke-width="0.25">0</text>
<line x1="199.2" y1="254" x2="199.2" y2="257.6" stroke="#6e6e6e" stroke-width="0.9"/>
<text x="199.2" y="263.5" font-size="7" text-anchor="middle" fill="#1a1a1a" stroke="#1a1a1a" stroke-width="0.25">10</text>
<line x1="234.5" y1="254" x2="234.5" y2="257.6" stroke="#6e6e6e" stroke-width="0.9"/>
<text x="234.5" y="263.5" font-size="7" text-anchor="middle" fill="#1a1a1a" stroke="#1a1a1a" stroke-width="0.25">20</text>
<text x="209" y="273.8" font-size="7.2" text-anchor="middle" fill="#1a1a1a" stroke="#1a1a1a" stroke-width="0.25">Days after injection</text>
<text x="145.5" y="207.5" font-size="7.2" text-anchor="middle" fill="#1a1a1a" stroke="#1a1a1a" stroke-width="0.25" transform="rotate(-90 145.5 207.5)">Tumor volume (cm<tspan font-size="4.6" dy="-2.4">3</tspan><tspan dy="2.4">)</tspan></text>
<line x1="168.7" y1="157.5" x2="177.1" y2="157.5" stroke="#5a6fae" stroke-width="0.8"/>
<circle cx="172.9" cy="157.5" r="2.2" fill="#2f4b94"/>
<text x="178.75" y="159.5" font-size="5.5" text-anchor="start" fill="#2a2a2a" stroke="#2a2a2a" stroke-width="0.06">PBS</text>
<line x1="168.7" y1="163.75" x2="177.1" y2="163.75" stroke="#d9474c" stroke-width="0.8"/>
<circle cx="172.9" cy="163.75" r="2.2" fill="#d2232a"/>
<text x="178.75" y="165.75" font-size="5.5" text-anchor="start" fill="#2a2a2a" stroke="#2a2a2a" stroke-width="0.06">omPD1-IL15m 0.1 mg/kg</text>
<line x1="168.7" y1="170" x2="177.1" y2="170" stroke="#4cb86a" stroke-width="0.8"/>
<circle cx="172.9" cy="170" r="2.2" fill="#2ea44f"/>
<text x="178.75" y="172" font-size="5.5" text-anchor="start" fill="#2a2a2a" stroke="#2a2a2a" stroke-width="0.06">omPD1-IL15m 0.3 mg/kg</text>
<line x1="168.7" y1="176.5" x2="177.1" y2="176.5" stroke="#8e5aa8" stroke-width="0.8"/>
<circle cx="172.9" cy="176.5" r="2.2" fill="#7b3f9c"/>
<text x="178.75" y="178.5" font-size="5.5" text-anchor="start" fill="#2a2a2a" stroke="#2a2a2a" stroke-width="0.06">omPD1-IL15m 1 mg/kg</text>
<line x1="168.7" y1="182.75" x2="177.1" y2="182.75" stroke="#f0a060" stroke-width="0.8"/>
<circle cx="172.9" cy="182.75" r="2.2" fill="#ec8a3a"/>
<text x="178.75" y="184.75" font-size="5.5" text-anchor="start" fill="#2a2a2a" stroke="#2a2a2a" stroke-width="0.06">omPD1-IL15m 5 mg/kg</text>
<polyline points="163.9,251.5 174.49,250 188.61,251.5 199.2,251.9 213.32,252.9 223.91,252.9 238.03,252.9 248.62,251" fill="none" stroke="#f0a060" stroke-width="0.65"/>
<circle cx="163.9" cy="251.5" r="2.1" fill="#ec8a3a"/>
<circle cx="174.49" cy="250" r="2.1" fill="#ec8a3a"/>
<circle cx="188.61" cy="251.5" r="2.1" fill="#ec8a3a"/>
<circle cx="199.2" cy="251.9" r="2.1" fill="#ec8a3a"/>
<circle cx="213.32" cy="252.9" r="2.1" fill="#ec8a3a"/>
<circle cx="223.91" cy="252.9" r="2.1" fill="#ec8a3a"/>
<circle cx="238.03" cy="252.9" r="2.1" fill="#ec8a3a"/>
<circle cx="248.62" cy="251" r="2.1" fill="#ec8a3a"/>
<line x1="223.91" y1="240" x2="223.91" y2="246.5" stroke="#aa83bd" stroke-width="0.55"/>
<line x1="222.31" y1="240" x2="225.51" y2="240" stroke="#aa83bd" stroke-width="0.55"/>
<line x1="222.31" y1="246.5" x2="225.51" y2="246.5" stroke="#aa83bd" stroke-width="0.55"/>
<line x1="238.03" y1="230.8" x2="238.03" y2="243.3" stroke="#aa83bd" stroke-width="0.55"/>
<line x1="236.43" y1="230.8" x2="239.63" y2="230.8" stroke="#aa83bd" stroke-width="0.55"/>
<line x1="236.43" y1="243.3" x2="239.63" y2="243.3" stroke="#aa83bd" stroke-width="0.55"/>
<line x1="248.62" y1="226" x2="248.62" y2="240.4" stroke="#aa83bd" stroke-width="0.55"/>
<line x1="247.02" y1="226" x2="250.22" y2="226" stroke="#aa83bd" stroke-width="0.55"/>
<line x1="247.02" y1="240.4" x2="250.22" y2="240.4" stroke="#aa83bd" stroke-width="0.55"/>
<polyline points="163.9,251.5 174.49,249.6 188.61,251 199.2,251.5 213.32,246.5 223.91,243.3 238.03,236.9 248.62,233.3" fill="none" stroke="#8e5aa8" stroke-width="0.65"/>
<circle cx="163.9" cy="251.5" r="2.1" fill="#7b3f9c"/>
<circle cx="174.49" cy="249.6" r="2.1" fill="#7b3f9c"/>
<circle cx="188.61" cy="251" r="2.1" fill="#7b3f9c"/>
<circle cx="199.2" cy="251.5" r="2.1" fill="#7b3f9c"/>
<circle cx="213.32" cy="246.5" r="2.1" fill="#7b3f9c"/>
<circle cx="223.91" cy="243.3" r="2.1" fill="#7b3f9c"/>
<circle cx="238.03" cy="236.9" r="2.1" fill="#7b3f9c"/>
<circle cx="248.62" cy="233.3" r="2.1" fill="#7b3f9c"/>
<line x1="223.91" y1="233" x2="223.91" y2="240.5" stroke="#78c98f" stroke-width="0.55"/>
<line x1="222.31" y1="233" x2="225.51" y2="233" stroke="#78c98f" stroke-width="0.55"/>
<line x1="222.31" y1="240.5" x2="225.51" y2="240.5" stroke="#78c98f" stroke-width="0.55"/>
<line x1="238.03" y1="221" x2="238.03" y2="232.7" stroke="#78c98f" stroke-width="0.55"/>
<line x1="236.43" y1="221" x2="239.63" y2="221" stroke="#78c98f" stroke-width="0.55"/>
<line x1="236.43" y1="232.7" x2="239.63" y2="232.7" stroke="#78c98f" stroke-width="0.55"/>
<line x1="248.62" y1="209.6" x2="248.62" y2="223" stroke="#78c98f" stroke-width="0.55"/>
<line x1="247.02" y1="209.6" x2="250.22" y2="209.6" stroke="#78c98f" stroke-width="0.55"/>
<line x1="247.02" y1="223" x2="250.22" y2="223" stroke="#78c98f" stroke-width="0.55"/>
<polyline points="163.9,251.5 174.49,249.6 188.61,249 199.2,247.1 213.32,242.3 223.91,236.9 238.03,226.9 248.62,215.8" fill="none" stroke="#4cb86a" stroke-width="0.65"/>
<circle cx="163.9" cy="251.5" r="2.1" fill="#2ea44f"/>
<circle cx="174.49" cy="249.6" r="2.1" fill="#2ea44f"/>
<circle cx="188.61" cy="249" r="2.1" fill="#2ea44f"/>
<circle cx="199.2" cy="247.1" r="2.1" fill="#2ea44f"/>
<circle cx="213.32" cy="242.3" r="2.1" fill="#2ea44f"/>
<circle cx="223.91" cy="236.9" r="2.1" fill="#2ea44f"/>
<circle cx="238.03" cy="226.9" r="2.1" fill="#2ea44f"/>
<circle cx="248.62" cy="215.8" r="2.1" fill="#2ea44f"/>
<line x1="223.91" y1="224" x2="223.91" y2="230.5" stroke="#e27578" stroke-width="0.55"/>
<line x1="222.31" y1="224" x2="225.51" y2="224" stroke="#e27578" stroke-width="0.55"/>
<line x1="222.31" y1="230.5" x2="225.51" y2="230.5" stroke="#e27578" stroke-width="0.55"/>
<line x1="238.03" y1="211.5" x2="238.03" y2="221.2" stroke="#e27578" stroke-width="0.55"/>
<line x1="236.43" y1="211.5" x2="239.63" y2="211.5" stroke="#e27578" stroke-width="0.55"/>
<line x1="236.43" y1="221.2" x2="239.63" y2="221.2" stroke="#e27578" stroke-width="0.55"/>
<line x1="248.62" y1="202.9" x2="248.62" y2="217.3" stroke="#e27578" stroke-width="0.55"/>
<line x1="247.02" y1="202.9" x2="250.22" y2="202.9" stroke="#e27578" stroke-width="0.55"/>
<line x1="247.02" y1="217.3" x2="250.22" y2="217.3" stroke="#e27578" stroke-width="0.55"/>
<polyline points="163.9,251.5 174.49,249 188.61,245.8 199.2,243.3 213.32,235.6 223.91,227.3 238.03,216.3 248.62,210" fill="none" stroke="#d9474c" stroke-width="0.65"/>
<circle cx="163.9" cy="251.5" r="2.1" fill="#d2232a"/>
<circle cx="174.49" cy="249" r="2.1" fill="#d2232a"/>
<circle cx="188.61" cy="245.8" r="2.1" fill="#d2232a"/>
<circle cx="199.2" cy="243.3" r="2.1" fill="#d2232a"/>
<circle cx="213.32" cy="235.6" r="2.1" fill="#d2232a"/>
<circle cx="223.91" cy="227.3" r="2.1" fill="#d2232a"/>
<circle cx="238.03" cy="216.3" r="2.1" fill="#d2232a"/>
<circle cx="248.62" cy="210" r="2.1" fill="#d2232a"/>
<line x1="213.32" y1="227" x2="213.32" y2="232.7" stroke="#8393c2" stroke-width="0.55"/>
<line x1="211.72" y1="227" x2="214.92" y2="227" stroke="#8393c2" stroke-width="0.55"/>
<line x1="211.72" y1="232.7" x2="214.92" y2="232.7" stroke="#8393c2" stroke-width="0.55"/>
<line x1="223.91" y1="215.4" x2="223.91" y2="226" stroke="#8393c2" stroke-width="0.55"/>
<line x1="222.31" y1="215.4" x2="225.51" y2="215.4" stroke="#8393c2" stroke-width="0.55"/>
<line x1="222.31" y1="226" x2="225.51" y2="226" stroke="#8393c2" stroke-width="0.55"/>
<line x1="238.03" y1="190" x2="238.03" y2="206.7" stroke="#8393c2" stroke-width="0.55"/>
<line x1="236.43" y1="190" x2="239.63" y2="190" stroke="#8393c2" stroke-width="0.55"/>
<line x1="236.43" y1="206.7" x2="239.63" y2="206.7" stroke="#8393c2" stroke-width="0.55"/>
<line x1="248.62" y1="177.9" x2="248.62" y2="193.3" stroke="#8393c2" stroke-width="0.55"/>
<line x1="247.02" y1="177.9" x2="250.22" y2="177.9" stroke="#8393c2" stroke-width="0.55"/>
<line x1="247.02" y1="193.3" x2="250.22" y2="193.3" stroke="#8393c2" stroke-width="0.55"/>
<polyline points="163.9,251.5 174.49,249 188.61,242.7 199.2,240.4 213.32,230.8 223.91,221.2 238.03,198.7 248.62,185.6" fill="none" stroke="#5a6fae" stroke-width="0.65"/>
<circle cx="163.9" cy="251.5" r="2.1" fill="#2f4b94"/>
<circle cx="174.49" cy="249" r="2.1" fill="#2f4b94"/>
<circle cx="188.61" cy="242.7" r="2.1" fill="#2f4b94"/>
<circle cx="199.2" cy="240.4" r="2.1" fill="#2f4b94"/>
<circle cx="213.32" cy="230.8" r="2.1" fill="#2f4b94"/>
<circle cx="223.91" cy="221.2" r="2.1" fill="#2f4b94"/>
<circle cx="238.03" cy="198.7" r="2.1" fill="#2f4b94"/>
<circle cx="248.62" cy="185.6" r="2.1" fill="#2f4b94"/>
<text x="255.25" y="209.27" font-size="6.2" text-anchor="middle" fill="#3a4f8e" stroke="#3a4f8e" stroke-width="0.25" letter-spacing="0.9">***</text>
<text x="255.25" y="217.87" font-size="6.2" text-anchor="middle" fill="#3a4f8e" stroke="#3a4f8e" stroke-width="0.25" letter-spacing="0.9">***</text>
<text x="255.25" y="234.27" font-size="6.2" text-anchor="middle" fill="#3a4f8e" stroke="#3a4f8e" stroke-width="0.25" letter-spacing="0.9">***</text>
<text x="255.25" y="252.47" font-size="6.2" text-anchor="middle" fill="#3a4f8e" stroke="#3a4f8e" stroke-width="0.25" letter-spacing="0.9">***</text>
<text x="269.6" y="153.9" font-size="12.2" text-anchor="start" font-weight="bold" fill="#000" stroke="#000" stroke-width="0.3">G</text>
<text x="335" y="153.5" font-size="7.2" text-anchor="middle" font-weight="bold" fill="#1a1a1a" stroke="#1a1a1a" stroke-width="0.3">B16-F10</text>
<line x1="291.9" y1="166.6" x2="291.9" y2="253.75" stroke="#6e6e6e" stroke-width="0.9"/>
<line x1="288.7" y1="253.75" x2="291.9" y2="253.75" stroke="#6e6e6e" stroke-width="0.9"/>
<text x="288" y="256.67" font-size="7" text-anchor="end" fill="#1a1a1a" stroke="#1a1a1a" stroke-width="0.25">0</text>
<line x1="288.7" y1="224.85" x2="291.9" y2="224.85" stroke="#6e6e6e" stroke-width="0.9"/>
<text x="288" y="227.77" font-size="7" text-anchor="end" fill="#1a1a1a" stroke="#1a1a1a" stroke-width="0.25">2</text>
<line x1="288.7" y1="195.95" x2="291.9" y2="195.95" stroke="#6e6e6e" stroke-width="0.9"/>
<text x="288" y="198.87" font-size="7" text-anchor="end" fill="#1a1a1a" stroke="#1a1a1a" stroke-width="0.25">4</text>
<line x1="288.7" y1="167.05" x2="291.9" y2="167.05" stroke="#6e6e6e" stroke-width="0.9"/>
<text x="288" y="169.97" font-size="7" text-anchor="end" fill="#1a1a1a" stroke="#1a1a1a" stroke-width="0.25">6</text>
<line x1="291.9" y1="253.75" x2="379" y2="253.75" stroke="#6e6e6e" stroke-width="0.9"/>
<line x1="299.5" y1="253.75" x2="299.5" y2="257.35" stroke="#6e6e6e" stroke-width="0.9"/>
<text x="299.5" y="263.25" font-size="7" text-anchor="middle" fill="#1a1a1a" stroke="#1a1a1a" stroke-width="0.25">0</text>
<line x1="323.2" y1="253.75" x2="323.2" y2="257.35" stroke="#6e6e6e" stroke-width="0.9"/>
<text x="323.2" y="263.25" font-size="7" text-anchor="middle" fill="#1a1a1a" stroke="#1a1a1a" stroke-width="0.25">6</text>
<line x1="346.9" y1="253.75" x2="346.9" y2="257.35" stroke="#6e6e6e" stroke-width="0.9"/>
<text x="346.9" y="263.25" font-size="7" text-anchor="middle" fill="#1a1a1a" stroke="#1a1a1a" stroke-width="0.25">12</text>
<line x1="370.6" y1="253.75" x2="370.6" y2="257.35" stroke="#6e6e6e" stroke-width="0.9"/>
<text x="370.6" y="263.25" font-size="7" text-anchor="middle" fill="#1a1a1a" stroke="#1a1a1a" stroke-width="0.25">18</text>
<text x="334.2" y="273.8" font-size="7.2" text-anchor="middle" fill="#1a1a1a" stroke="#1a1a1a" stroke-width="0.25">Days after injection</text>
<text x="276.9" y="207.5" font-size="7.2" text-anchor="middle" fill="#1a1a1a" stroke="#1a1a1a" stroke-width="0.25" transform="rotate(-90 276.9 207.5)">Tumor volume (cm<tspan font-size="4.6" dy="-2.4">3</tspan><tspan dy="2.4">)</tspan></text>
<line x1="295.2" y1="157.5" x2="303.6" y2="157.5" stroke="#5a6fae" stroke-width="0.8"/>
<circle cx="299.4" cy="157.5" r="2.2" fill="#2f4b94"/>
<text x="305" y="159.5" font-size="5.5" text-anchor="start" fill="#2a2a2a" stroke="#2a2a2a" stroke-width="0.06">PBS</text>
<line x1="295.2" y1="163.75" x2="303.6" y2="163.75" stroke="#333333" stroke-width="0.8"/>
<circle cx="299.4" cy="163.75" r="2.2" fill="#111111"/>
<text x="305" y="165.75" font-size="5.5" text-anchor="start" fill="#2a2a2a" stroke="#2a2a2a" stroke-width="0.06">omPD1 1 mg/kg</text>
<line x1="295.2" y1="170" x2="303.6" y2="170" stroke="#d9474c" stroke-width="0.8"/>
<circle cx="299.4" cy="170" r="2.2" fill="#d2232a"/>
<text x="305" y="172" font-size="5.5" text-anchor="start" fill="#2a2a2a" stroke="#2a2a2a" stroke-width="0.06">IL15 superagonist 0.25 mg/kg</text>
<line x1="295.2" y1="176.5" x2="303.6" y2="176.5" stroke="#4cb86a" stroke-width="0.8"/>
<circle cx="299.4" cy="176.5" r="2.2" fill="#2ea44f"/>
<text x="305" y="178.5" font-size="5.5" text-anchor="start" fill="#2a2a2a" stroke="#2a2a2a" stroke-width="0.06">IL15 superagonist 0.25 mg/kg</text>
<text x="305" y="184.75" font-size="5.5" text-anchor="start" fill="#2a2a2a" stroke="#2a2a2a" stroke-width="0.06">+αPD1 (1 mg/kg)</text>
<line x1="295.2" y1="189.3" x2="303.6" y2="189.3" stroke="#f0a060" stroke-width="0.8"/>
<circle cx="299.4" cy="189.3" r="2.2" fill="#ec8a3a"/>
<text x="305" y="191.3" font-size="5.5" text-anchor="start" fill="#2a2a2a" stroke="#2a2a2a" stroke-width="0.06">omPD1-IL15m 1 mg/kg</text>
<line x1="370.6" y1="240.5" x2="370.6" y2="247" stroke="#f3b787" stroke-width="0.55"/>
<line x1="369" y1="240.5" x2="372.2" y2="240.5" stroke="#f3b787" stroke-width="0.55"/>
<line x1="369" y1="247" x2="372.2" y2="247" stroke="#f3b787" stroke-width="0.55"/>
<polyline points="299.5,253.2 311.35,252.8 323.2,252.5 335.05,251.8 346.9,250.5 358.75,247.7 370.6,243.5" fill="none" stroke="#f0a060" stroke-width="0.65"/>
<circle cx="299.5" cy="253.2" r="2.1" fill="#ec8a3a"/>
<circle cx="311.35" cy="252.8" r="2.1" fill="#ec8a3a"/>
<circle cx="323.2" cy="252.5" r="2.1" fill="#ec8a3a"/>
<circle cx="335.05" cy="251.8" r="2.1" fill="#ec8a3a"/>
<circle cx="346.9" cy="250.5" r="2.1" fill="#ec8a3a"/>
<circle cx="358.75" cy="247.7" r="2.1" fill="#ec8a3a"/>
<circle cx="370.6" cy="243.5" r="2.1" fill="#ec8a3a"/>
<line x1="358.75" y1="238.5" x2="358.75" y2="243.5" stroke="#78c98f" stroke-width="0.55"/>
<line x1="357.15" y1="238.5" x2="360.35" y2="238.5" stroke="#78c98f" stroke-width="0.55"/>
<line x1="357.15" y1="243.5" x2="360.35" y2="243.5" stroke="#78c98f" stroke-width="0.55"/>
<line x1="370.6" y1="218" x2="370.6" y2="234" stroke="#78c98f" stroke-width="0.55"/>
<line x1="369" y1="218" x2="372.2" y2="218" stroke="#78c98f" stroke-width="0.55"/>
<line x1="369" y1="234" x2="372.2" y2="234" stroke="#78c98f" stroke-width="0.55"/>
<polyline points="299.5,253.2 311.35,252 323.2,251.2 335.05,250 346.9,247.4 358.75,241 370.6,225.8" fill="none" stroke="#4cb86a" stroke-width="0.65"/>
<circle cx="299.5" cy="253.2" r="2.1" fill="#2ea44f"/>
<circle cx="311.35" cy="252" r="2.1" fill="#2ea44f"/>
<circle cx="323.2" cy="251.2" r="2.1" fill="#2ea44f"/>
<circle cx="335.05" cy="250" r="2.1" fill="#2ea44f"/>
<circle cx="346.9" cy="247.4" r="2.1" fill="#2ea44f"/>
<circle cx="358.75" cy="241" r="2.1" fill="#2ea44f"/>
<circle cx="370.6" cy="225.8" r="2.1" fill="#2ea44f"/>
<line x1="358.75" y1="222" x2="358.75" y2="231" stroke="#666666" stroke-width="0.55"/>
<line x1="357.15" y1="222" x2="360.35" y2="222" stroke="#666666" stroke-width="0.55"/>
<line x1="357.15" y1="231" x2="360.35" y2="231" stroke="#666666" stroke-width="0.55"/>
<line x1="370.6" y1="198" x2="370.6" y2="222" stroke="#666666" stroke-width="0.55"/>
<line x1="369" y1="198" x2="372.2" y2="198" stroke="#666666" stroke-width="0.55"/>
<line x1="369" y1="222" x2="372.2" y2="222" stroke="#666666" stroke-width="0.55"/>
<polyline points="299.5,252.8 311.35,251.4 323.2,249.4 335.05,246.2 346.9,244 358.75,227.1 370.6,210.6" fill="none" stroke="#333333" stroke-width="0.65"/>
<circle cx="299.5" cy="252.8" r="2.1" fill="#111111"/>
<circle cx="311.35" cy="251.4" r="2.1" fill="#111111"/>
<circle cx="323.2" cy="249.4" r="2.1" fill="#111111"/>
<circle cx="335.05" cy="246.2" r="2.1" fill="#111111"/>
<circle cx="346.9" cy="244" r="2.1" fill="#111111"/>
<circle cx="358.75" cy="227.1" r="2.1" fill="#111111"/>
<circle cx="370.6" cy="210.6" r="2.1" fill="#111111"/>
<line x1="358.75" y1="226" x2="358.75" y2="233" stroke="#e27578" stroke-width="0.55"/>
<line x1="357.15" y1="226" x2="360.35" y2="226" stroke="#e27578" stroke-width="0.55"/>
<line x1="357.15" y1="233" x2="360.35" y2="233" stroke="#e27578" stroke-width="0.55"/>
<line x1="370.6" y1="203" x2="370.6" y2="218" stroke="#e27578" stroke-width="0.55"/>
<line x1="369" y1="203" x2="372.2" y2="203" stroke="#e27578" stroke-width="0.55"/>
<line x1="369" y1="218" x2="372.2" y2="218" stroke="#e27578" stroke-width="0.55"/>
<polyline points="299.5,252.8 311.35,251.4 323.2,249.2 335.05,246.8 346.9,241.8 358.75,230.1 370.6,210.4" fill="none" stroke="#d9474c" stroke-width="0.65"/>
<circle cx="299.5" cy="252.8" r="2.1" fill="#d2232a"/>
<circle cx="311.35" cy="251.4" r="2.1" fill="#d2232a"/>
<circle cx="323.2" cy="249.2" r="2.1" fill="#d2232a"/>
<circle cx="335.05" cy="246.8" r="2.1" fill="#d2232a"/>
<circle cx="346.9" cy="241.8" r="2.1" fill="#d2232a"/>
<circle cx="358.75" cy="230.1" r="2.1" fill="#d2232a"/>
<circle cx="370.6" cy="210.4" r="2.1" fill="#d2232a"/>
<line x1="346.9" y1="234.5" x2="346.9" y2="239" stroke="#8393c2" stroke-width="0.55"/>
<line x1="345.3" y1="234.5" x2="348.5" y2="234.5" stroke="#8393c2" stroke-width="0.55"/>
<line x1="345.3" y1="239" x2="348.5" y2="239" stroke="#8393c2" stroke-width="0.55"/>
<line x1="358.75" y1="217.9" x2="358.75" y2="226.5" stroke="#8393c2" stroke-width="0.55"/>
<line x1="357.15" y1="217.9" x2="360.35" y2="217.9" stroke="#8393c2" stroke-width="0.55"/>
<line x1="357.15" y1="226.5" x2="360.35" y2="226.5" stroke="#8393c2" stroke-width="0.55"/>
<line x1="370.6" y1="180.2" x2="370.6" y2="206" stroke="#8393c2" stroke-width="0.55"/>
<line x1="369" y1="180.2" x2="372.2" y2="180.2" stroke="#8393c2" stroke-width="0.55"/>
<line x1="369" y1="206" x2="372.2" y2="206" stroke="#8393c2" stroke-width="0.55"/>
<polyline points="299.5,252.5 311.35,250.8 323.2,248 335.05,243.8 346.9,236.6 358.75,222.4 370.6,193.2" fill="none" stroke="#5a6fae" stroke-width="0.65"/>
<circle cx="299.5" cy="252.5" r="2.1" fill="#2f4b94"/>
<circle cx="311.35" cy="250.8" r="2.1" fill="#2f4b94"/>
<circle cx="323.2" cy="248" r="2.1" fill="#2f4b94"/>
<circle cx="335.05" cy="243.8" r="2.1" fill="#2f4b94"/>
<circle cx="346.9" cy="236.6" r="2.1" fill="#2f4b94"/>
<circle cx="358.75" cy="222.4" r="2.1" fill="#2f4b94"/>
<circle cx="370.6" cy="193.2" r="2.1" fill="#2f4b94"/>
<line x1="375.2" y1="192.7" x2="375.2" y2="243" stroke="#555" stroke-width="0.7"/>
<line x1="373.6" y1="192.7" x2="375.2" y2="192.7" stroke="#555" stroke-width="0.7"/>
<line x1="373.6" y1="243" x2="375.2" y2="243" stroke="#555" stroke-width="0.7"/>
<line x1="378.1" y1="225.5" x2="378.1" y2="243" stroke="#555" stroke-width="0.7"/>
<line x1="376.6" y1="225.5" x2="378.1" y2="225.5" stroke="#555" stroke-width="0.7"/>
<text x="381" y="220.06" font-size="6" text-anchor="middle" fill="#e9975a" stroke="#e9975a" stroke-width="0.25" letter-spacing="0.8">***</text>
<text x="382.2" y="237.76" font-size="6" text-anchor="middle" fill="#e9975a" stroke="#e9975a" stroke-width="0.25" letter-spacing="0.8">**</text>
<text x="401.4" y="153.9" font-size="12.2" text-anchor="start" font-weight="bold" fill="#000" stroke="#000" stroke-width="0.3">H</text>
<text x="466.3" y="153.5" font-size="7.2" text-anchor="middle" font-weight="bold" fill="#1a1a1a" stroke="#1a1a1a" stroke-width="0.3">B16-F10</text>
<line x1="422.75" y1="166.95" x2="422.75" y2="254.25" stroke="#6e6e6e" stroke-width="0.9"/>
<line x1="419.55" y1="254.25" x2="422.75" y2="254.25" stroke="#6e6e6e" stroke-width="0.9"/>
<text x="418.85" y="257.17" font-size="7" text-anchor="end" fill="#1a1a1a" stroke="#1a1a1a" stroke-width="0.25">0</text>
<line x1="419.55" y1="225.25" x2="422.75" y2="225.25" stroke="#6e6e6e" stroke-width="0.9"/>
<text x="418.85" y="228.17" font-size="7" text-anchor="end" fill="#1a1a1a" stroke="#1a1a1a" stroke-width="0.25">2</text>
<line x1="419.55" y1="196.25" x2="422.75" y2="196.25" stroke="#6e6e6e" stroke-width="0.9"/>
<text x="418.85" y="199.17" font-size="7" text-anchor="end" fill="#1a1a1a" stroke="#1a1a1a" stroke-width="0.25">4</text>
<line x1="419.55" y1="167.25" x2="422.75" y2="167.25" stroke="#6e6e6e" stroke-width="0.9"/>
<text x="418.85" y="170.17" font-size="7" text-anchor="end" fill="#1a1a1a" stroke="#1a1a1a" stroke-width="0.25">6</text>
<line x1="422.75" y1="254.25" x2="510.2" y2="254.25" stroke="#6e6e6e" stroke-width="0.9"/>
<line x1="430.9" y1="254.25" x2="430.9" y2="257.85" stroke="#6e6e6e" stroke-width="0.9"/>
<text x="430.9" y="263.75" font-size="7" text-anchor="middle" fill="#1a1a1a" stroke="#1a1a1a" stroke-width="0.25">0</text>
<line x1="454.48" y1="254.25" x2="454.48" y2="257.85" stroke="#6e6e6e" stroke-width="0.9"/>
<text x="454.48" y="263.75" font-size="7" text-anchor="middle" fill="#1a1a1a" stroke="#1a1a1a" stroke-width="0.25">6</text>
<line x1="478.06" y1="254.25" x2="478.06" y2="257.85" stroke="#6e6e6e" stroke-width="0.9"/>
<text x="478.06" y="263.75" font-size="7" text-anchor="middle" fill="#1a1a1a" stroke="#1a1a1a" stroke-width="0.25">12</text>
<line x1="501.64" y1="254.25" x2="501.64" y2="257.85" stroke="#6e6e6e" stroke-width="0.9"/>
<text x="501.64" y="263.75" font-size="7" text-anchor="middle" fill="#1a1a1a" stroke="#1a1a1a" stroke-width="0.25">18</text>
<text x="469.8" y="273.8" font-size="7.2" text-anchor="middle" fill="#1a1a1a" stroke="#1a1a1a" stroke-width="0.25">Days after injection</text>
<text x="407.6" y="208.5" font-size="7.2" text-anchor="middle" fill="#1a1a1a" stroke="#1a1a1a" stroke-width="0.25" transform="rotate(-90 407.6 208.5)">Tumor volume (cm<tspan font-size="4.6" dy="-2.4">3</tspan><tspan dy="2.4">)</tspan></text>
<line x1="425.2" y1="157.5" x2="433.6" y2="157.5" stroke="#5a6fae" stroke-width="0.8"/>
<circle cx="429.4" cy="157.5" r="2.2" fill="#2f4b94"/>
<text x="435.25" y="159.5" font-size="5.5" text-anchor="start" fill="#2a2a2a" stroke="#2a2a2a" stroke-width="0.06">PBS</text>
<line x1="425.2" y1="163.75" x2="433.6" y2="163.75" stroke="#333333" stroke-width="0.8"/>
<circle cx="429.4" cy="163.75" r="2.2" fill="#111111"/>
<text x="435.25" y="165.75" font-size="5.5" text-anchor="start" fill="#2a2a2a" stroke="#2a2a2a" stroke-width="0.06">omPD1 1 mg/kg</text>
<line x1="425.2" y1="170" x2="433.6" y2="170" stroke="#d9474c" stroke-width="0.8"/>
<circle cx="429.4" cy="170" r="2.2" fill="#d2232a"/>
<text x="435.25" y="172" font-size="5.5" text-anchor="start" fill="#2a2a2a" stroke="#2a2a2a" stroke-width="0.06">IL15 superagonist 1 mg/kg</text>
<line x1="425.2" y1="176.5" x2="433.6" y2="176.5" stroke="#4cb86a" stroke-width="0.8"/>
<circle cx="429.4" cy="176.5" r="2.2" fill="#2ea44f"/>
<text x="435.25" y="178.5" font-size="5.5" text-anchor="start" fill="#2a2a2a" stroke="#2a2a2a" stroke-width="0.06">IL15 superagonist 1 mg/kg</text>
<text x="435.25" y="184.75" font-size="5.5" text-anchor="start" fill="#2a2a2a" stroke="#2a2a2a" stroke-width="0.06">+αPD1 (1 mg/kg)</text>
<line x1="425.2" y1="189.3" x2="433.6" y2="189.3" stroke="#f0a060" stroke-width="0.8"/>
<circle cx="429.4" cy="189.3" r="2.2" fill="#ec8a3a"/>
<text x="435.25" y="191.3" font-size="5.5" text-anchor="start" fill="#2a2a2a" stroke="#2a2a2a" stroke-width="0.06">omPD1-IL15m 1 mg/kg</text>
<line x1="501.64" y1="239.5" x2="501.64" y2="247" stroke="#f3b787" stroke-width="0.55"/>
<line x1="500.04" y1="239.5" x2="503.24" y2="239.5" stroke="#f3b787" stroke-width="0.55"/>
<line x1="500.04" y1="247" x2="503.24" y2="247" stroke="#f3b787" stroke-width="0.55"/>
<polyline points="430.9,253.4 442.69,253 454.48,252.6 466.27,252.2 478.06,251.2 489.85,248.5 501.64,243.6" fill="none" stroke="#f0a060" stroke-width="0.65"/>
<circle cx="430.9" cy="253.4" r="2.1" fill="#ec8a3a"/>
<circle cx="442.69" cy="253" r="2.1" fill="#ec8a3a"/>
<circle cx="454.48" cy="252.6" r="2.1" fill="#ec8a3a"/>
<circle cx="466.27" cy="252.2" r="2.1" fill="#ec8a3a"/>
<circle cx="478.06" cy="251.2" r="2.1" fill="#ec8a3a"/>
<circle cx="489.85" cy="248.5" r="2.1" fill="#ec8a3a"/>
<circle cx="501.64" cy="243.6" r="2.1" fill="#ec8a3a"/>
<line x1="501.64" y1="248" x2="501.64" y2="251.5" stroke="#78c98f" stroke-width="0.55"/>
<line x1="500.04" y1="248" x2="503.24" y2="248" stroke="#78c98f" stroke-width="0.55"/>
<line x1="500.04" y1="251.5" x2="503.24" y2="251.5" stroke="#78c98f" stroke-width="0.55"/>
<polyline points="430.9,253.4 442.69,253.2 454.48,253.2 466.27,253 478.06,253 489.85,252.1 501.64,249.6" fill="none" stroke="#4cb86a" stroke-width="0.65"/>
<circle cx="430.9" cy="253.4" r="2.1" fill="#2ea44f"/>
<circle cx="442.69" cy="253.2" r="2.1" fill="#2ea44f"/>
<circle cx="454.48" cy="253.2" r="2.1" fill="#2ea44f"/>
<circle cx="466.27" cy="253" r="2.1" fill="#2ea44f"/>
<circle cx="478.06" cy="253" r="2.1" fill="#2ea44f"/>
<circle cx="489.85" cy="252.1" r="2.1" fill="#2ea44f"/>
<circle cx="501.64" cy="249.6" r="2.1" fill="#2ea44f"/>
<line x1="489.85" y1="223" x2="489.85" y2="232" stroke="#666666" stroke-width="0.55"/>
<line x1="488.25" y1="223" x2="491.45" y2="223" stroke="#666666" stroke-width="0.55"/>
<line x1="488.25" y1="232" x2="491.45" y2="232" stroke="#666666" stroke-width="0.55"/>
<line x1="501.64" y1="199" x2="501.64" y2="222" stroke="#666666" stroke-width="0.55"/>
<line x1="500.04" y1="199" x2="503.24" y2="199" stroke="#666666" stroke-width="0.55"/>
<line x1="500.04" y1="222" x2="503.24" y2="222" stroke="#666666" stroke-width="0.55"/>
<polyline points="430.9,253.2 442.69,252.2 454.48,250 466.27,248 478.06,243.9 489.85,227.7 501.64,210.4" fill="none" stroke="#333333" stroke-width="0.65"/>
<circle cx="430.9" cy="253.2" r="2.1" fill="#111111"/>
<circle cx="442.69" cy="252.2" r="2.1" fill="#111111"/>
<circle cx="454.48" cy="250" r="2.1" fill="#111111"/>
<circle cx="466.27" cy="248" r="2.1" fill="#111111"/>
<circle cx="478.06" cy="243.9" r="2.1" fill="#111111"/>
<circle cx="489.85" cy="227.7" r="2.1" fill="#111111"/>
<circle cx="501.64" cy="210.4" r="2.1" fill="#111111"/>
<line x1="489.85" y1="239" x2="489.85" y2="244" stroke="#e27578" stroke-width="0.55"/>
<line x1="488.25" y1="239" x2="491.45" y2="239" stroke="#e27578" stroke-width="0.55"/>
<line x1="488.25" y1="244" x2="491.45" y2="244" stroke="#e27578" stroke-width="0.55"/>
<line x1="501.64" y1="226" x2="501.64" y2="236" stroke="#e27578" stroke-width="0.55"/>
<line x1="500.04" y1="226" x2="503.24" y2="226" stroke="#e27578" stroke-width="0.55"/>
<line x1="500.04" y1="236" x2="503.24" y2="236" stroke="#e27578" stroke-width="0.55"/>
<polyline points="430.9,253.2 442.69,252.6 454.48,251.6 466.27,250 478.06,248.3 489.85,241.5 501.64,231.2" fill="none" stroke="#d9474c" stroke-width="0.65"/>
<circle cx="430.9" cy="253.2" r="2.1" fill="#d2232a"/>
<circle cx="442.69" cy="252.6" r="2.1" fill="#d2232a"/>
<circle cx="454.48" cy="251.6" r="2.1" fill="#d2232a"/>
<circle cx="466.27" cy="250" r="2.1" fill="#d2232a"/>
<circle cx="478.06" cy="248.3" r="2.1" fill="#d2232a"/>
<circle cx="489.85" cy="241.5" r="2.1" fill="#d2232a"/>
<circle cx="501.64" cy="231.2" r="2.1" fill="#d2232a"/>
<line x1="478.06" y1="234.5" x2="478.06" y2="240" stroke="#8393c2" stroke-width="0.55"/>
<line x1="476.46" y1="234.5" x2="479.66" y2="234.5" stroke="#8393c2" stroke-width="0.55"/>
<line x1="476.46" y1="240" x2="479.66" y2="240" stroke="#8393c2" stroke-width="0.55"/>
<line x1="489.85" y1="219" x2="489.85" y2="227" stroke="#8393c2" stroke-width="0.55"/>
<line x1="488.25" y1="219" x2="491.45" y2="219" stroke="#8393c2" stroke-width="0.55"/>
<line x1="488.25" y1="227" x2="491.45" y2="227" stroke="#8393c2" stroke-width="0.55"/>
<line x1="501.64" y1="180" x2="501.64" y2="207" stroke="#8393c2" stroke-width="0.55"/>
<line x1="500.04" y1="180" x2="503.24" y2="180" stroke="#8393c2" stroke-width="0.55"/>
<line x1="500.04" y1="207" x2="503.24" y2="207" stroke="#8393c2" stroke-width="0.55"/>
<polyline points="430.9,253 442.69,251.8 454.48,248.8 466.27,244.5 478.06,237.2 489.85,223.1 501.64,193.4" fill="none" stroke="#5a6fae" stroke-width="0.65"/>
<circle cx="430.9" cy="253" r="2.1" fill="#2f4b94"/>
<circle cx="442.69" cy="251.8" r="2.1" fill="#2f4b94"/>
<circle cx="454.48" cy="248.8" r="2.1" fill="#2f4b94"/>
<circle cx="466.27" cy="244.5" r="2.1" fill="#2f4b94"/>
<circle cx="478.06" cy="237.2" r="2.1" fill="#2f4b94"/>
<circle cx="489.85" cy="223.1" r="2.1" fill="#2f4b94"/>
<circle cx="501.64" cy="193.4" r="2.1" fill="#2f4b94"/>
<line x1="503.9" y1="193" x2="503.9" y2="243.3" stroke="#666" stroke-width="0.7"/>
<line x1="507.9" y1="230.7" x2="507.9" y2="243.3" stroke="#666" stroke-width="0.7"/>
<line x1="506.6" y1="230.7" x2="507.9" y2="230.7" stroke="#666" stroke-width="0.7"/>
<line x1="506.6" y1="243.3" x2="509.2" y2="243.3" stroke="#666" stroke-width="0.7"/>
<line x1="507.9" y1="244.6" x2="507.9" y2="250" stroke="#666" stroke-width="0.7"/>
<text x="511" y="221.36" font-size="6" text-anchor="middle" fill="#e9975a" stroke="#e9975a" stroke-width="0.25" letter-spacing="0.8">***</text>
<text x="509.3" y="239.3" font-size="6" text-anchor="start" fill="#eea56e" stroke="#eea56e" stroke-width="0.05">0.08</text>
<text x="509.6" y="249.6" font-size="6" text-anchor="start" fill="#eea56e" stroke="#eea56e" stroke-width="0.05">ns</text>
<text x="1.4" y="292.9" font-size="12.2" text-anchor="start" font-weight="bold" fill="#000" stroke="#000" stroke-width="0.3">I</text>
<text x="73.2" y="292" font-size="7.2" text-anchor="middle" font-weight="bold" fill="#1a1a1a" stroke="#1a1a1a" stroke-width="0.3">B16-F10</text>
<line x1="28.5" y1="310.7" x2="28.5" y2="398.75" stroke="#6e6e6e" stroke-width="0.9"/>
<line x1="25.3" y1="398.75" x2="28.5" y2="398.75" stroke="#6e6e6e" stroke-width="0.9"/>
<text x="24.6" y="401.67" font-size="7" text-anchor="end" fill="#1a1a1a" stroke="#1a1a1a" stroke-width="0.25">90</text>
<line x1="25.3" y1="381.25" x2="28.5" y2="381.25" stroke="#6e6e6e" stroke-width="0.9"/>
<text x="24.6" y="384.17" font-size="7" text-anchor="end" fill="#1a1a1a" stroke="#1a1a1a" stroke-width="0.25">100</text>
<line x1="25.3" y1="363.75" x2="28.5" y2="363.75" stroke="#6e6e6e" stroke-width="0.9"/>
<text x="24.6" y="366.67" font-size="7" text-anchor="end" fill="#1a1a1a" stroke="#1a1a1a" stroke-width="0.25">110</text>
<line x1="25.3" y1="346.25" x2="28.5" y2="346.25" stroke="#6e6e6e" stroke-width="0.9"/>
<text x="24.6" y="349.17" font-size="7" text-anchor="end" fill="#1a1a1a" stroke="#1a1a1a" stroke-width="0.25">120</text>
<line x1="25.3" y1="328.75" x2="28.5" y2="328.75" stroke="#6e6e6e" stroke-width="0.9"/>
<text x="24.6" y="331.67" font-size="7" text-anchor="end" fill="#1a1a1a" stroke="#1a1a1a" stroke-width="0.25">130</text>
<line x1="25.3" y1="311.25" x2="28.5" y2="311.25" stroke="#6e6e6e" stroke-width="0.9"/>
<text x="24.6" y="314.17" font-size="7" text-anchor="end" fill="#1a1a1a" stroke="#1a1a1a" stroke-width="0.25">140</text>
<line x1="28.5" y1="398.75" x2="117.5" y2="398.75" stroke="#6e6e6e" stroke-width="0.9"/>
<line x1="35.6" y1="398.75" x2="35.6" y2="402.35" stroke="#6e6e6e" stroke-width="0.9"/>
<text x="35.6" y="408.35" font-size="7" text-anchor="middle" fill="#1a1a1a" stroke="#1a1a1a" stroke-width="0.25">0</text>
<line x1="46.15" y1="398.75" x2="46.15" y2="402.35" stroke="#6e6e6e" stroke-width="0.9"/>
<text x="46.15" y="408.35" font-size="7" text-anchor="middle" fill="#1a1a1a" stroke="#1a1a1a" stroke-width="0.25">3</text>
<line x1="56.7" y1="398.75" x2="56.7" y2="402.35" stroke="#6e6e6e" stroke-width="0.9"/>
<text x="56.7" y="408.35" font-size="7" text-anchor="middle" fill="#1a1a1a" stroke="#1a1a1a" stroke-width="0.25">5</text>
<line x1="67.25" y1="398.75" x2="67.25" y2="402.35" stroke="#6e6e6e" stroke-width="0.9"/>
<text x="67.25" y="408.35" font-size="7" text-anchor="middle" fill="#1a1a1a" stroke="#1a1a1a" stroke-width="0.25">6</text>
<line x1="77.8" y1="398.75" x2="77.8" y2="402.35" stroke="#6e6e6e" stroke-width="0.9"/>
<text x="77.8" y="408.35" font-size="7" text-anchor="middle" fill="#1a1a1a" stroke="#1a1a1a" stroke-width="0.25">8</text>
<line x1="88.35" y1="398.75" x2="88.35" y2="402.35" stroke="#6e6e6e" stroke-width="0.9"/>
<text x="88.35" y="408.35" font-size="7" text-anchor="middle" fill="#1a1a1a" stroke="#1a1a1a" stroke-width="0.25">11</text>
<line x1="98.9" y1="398.75" x2="98.9" y2="402.35" stroke="#6e6e6e" stroke-width="0.9"/>
<text x="98.9" y="408.35" font-size="7" text-anchor="middle" fill="#1a1a1a" stroke="#1a1a1a" stroke-width="0.25">14</text>
<line x1="109.45" y1="398.75" x2="109.45" y2="402.35" stroke="#6e6e6e" stroke-width="0.9"/>
<text x="109.45" y="408.35" font-size="7" text-anchor="middle" fill="#1a1a1a" stroke="#1a1a1a" stroke-width="0.25">18</text>
<text x="5.7" y="353.8" font-size="7.2" text-anchor="middle" fill="#1a1a1a" stroke="#1a1a1a" stroke-width="0.25" transform="rotate(-90 5.7 353.8)">Body weight (%)</text>
<line x1="33.3" y1="298.1" x2="41.7" y2="298.1" stroke="#5a6fae" stroke-width="0.8"/>
<circle cx="37.5" cy="298.1" r="2.2" fill="#2f4b94"/>
<text x="43.75" y="300.1" font-size="5.5" text-anchor="start" fill="#2a2a2a" stroke="#2a2a2a" stroke-width="0.06">PBS</text>
<line x1="33.3" y1="304.75" x2="41.7" y2="304.75" stroke="#333333" stroke-width="0.8"/>
<circle cx="37.5" cy="304.75" r="2.2" fill="#111111"/>
<text x="43.75" y="306.75" font-size="5.5" text-anchor="start" fill="#2a2a2a" stroke="#2a2a2a" stroke-width="0.06">omPD1 1 mg/kg</text>
<line x1="33.3" y1="311.25" x2="41.7" y2="311.25" stroke="#d9474c" stroke-width="0.8"/>
<circle cx="37.5" cy="311.25" r="2.2" fill="#d2232a"/>
<text x="43.75" y="313.25" font-size="5.5" text-anchor="start" fill="#2a2a2a" stroke="#2a2a2a" stroke-width="0.06">IL15 superagonist 0.25 mg/kg</text>
<line x1="33.3" y1="317.5" x2="41.7" y2="317.5" stroke="#4cb86a" stroke-width="0.8"/>
<circle cx="37.5" cy="317.5" r="2.2" fill="#2ea44f"/>
<text x="43.75" y="319.5" font-size="5.5" text-anchor="start" fill="#2a2a2a" stroke="#2a2a2a" stroke-width="0.06">IL15 superagonist 0.25 mg/kg</text>
<text x="43.75" y="325.75" font-size="5.5" text-anchor="start" fill="#2a2a2a" stroke="#2a2a2a" stroke-width="0.06">+αPD1 (1 mg/kg)</text>
<line x1="33.3" y1="330" x2="41.7" y2="330" stroke="#f0a060" stroke-width="0.8"/>
<circle cx="37.5" cy="330" r="2.2" fill="#ec8a3a"/>
<text x="43.75" y="332" font-size="5.5" text-anchor="start" fill="#2a2a2a" stroke="#2a2a2a" stroke-width="0.06">omPD1-IL15m 1 mg/kg</text>
<line x1="35.6" y1="377.75" x2="35.6" y2="384.75" stroke="#f3b787" stroke-width="0.55"/>
<line x1="34" y1="377.75" x2="37.2" y2="377.75" stroke="#f3b787" stroke-width="0.55"/>
<line x1="34" y1="384.75" x2="37.2" y2="384.75" stroke="#f3b787" stroke-width="0.55"/>
<line x1="46.15" y1="376.85" x2="46.15" y2="382.85" stroke="#f3b787" stroke-width="0.55"/>
<line x1="44.55" y1="376.85" x2="47.75" y2="376.85" stroke="#f3b787" stroke-width="0.55"/>
<line x1="44.55" y1="382.85" x2="47.75" y2="382.85" stroke="#f3b787" stroke-width="0.55"/>
<line x1="56.7" y1="373" x2="56.7" y2="379" stroke="#f3b787" stroke-width="0.55"/>
<line x1="55.1" y1="373" x2="58.3" y2="373" stroke="#f3b787" stroke-width="0.55"/>
<line x1="55.1" y1="379" x2="58.3" y2="379" stroke="#f3b787" stroke-width="0.55"/>
<line x1="67.25" y1="370.38" x2="67.25" y2="376.38" stroke="#f3b787" stroke-width="0.55"/>
<line x1="65.65" y1="370.38" x2="68.85" y2="370.38" stroke="#f3b787" stroke-width="0.55"/>
<line x1="65.65" y1="376.38" x2="68.85" y2="376.38" stroke="#f3b787" stroke-width="0.55"/>
<line x1="77.8" y1="373" x2="77.8" y2="379" stroke="#f3b787" stroke-width="0.55"/>
<line x1="76.2" y1="373" x2="79.4" y2="373" stroke="#f3b787" stroke-width="0.55"/>
<line x1="76.2" y1="379" x2="79.4" y2="379" stroke="#f3b787" stroke-width="0.55"/>
<line x1="88.35" y1="372.48" x2="88.35" y2="378.48" stroke="#f3b787" stroke-width="0.55"/>
<line x1="86.75" y1="372.48" x2="89.95" y2="372.48" stroke="#f3b787" stroke-width="0.55"/>
<line x1="86.75" y1="378.48" x2="89.95" y2="378.48" stroke="#f3b787" stroke-width="0.55"/>
<line x1="98.9" y1="367.25" x2="98.9" y2="374.25" stroke="#f3b787" stroke-width="0.55"/>
<line x1="97.3" y1="367.25" x2="100.5" y2="367.25" stroke="#f3b787" stroke-width="0.55"/>
<line x1="97.3" y1="374.25" x2="100.5" y2="374.25" stroke="#f3b787" stroke-width="0.55"/>
<line x1="109.45" y1="366.25" x2="109.45" y2="375.25" stroke="#f3b787" stroke-width="0.55"/>
<line x1="107.85" y1="366.25" x2="111.05" y2="366.25" stroke="#f3b787" stroke-width="0.55"/>
<line x1="107.85" y1="375.25" x2="111.05" y2="375.25" stroke="#f3b787" stroke-width="0.55"/>
<polyline points="35.6,381.25 46.15,379.85 56.7,376 67.25,373.38 77.8,376 88.35,375.48 98.9,370.75 109.45,370.75" fill="none" stroke="#f0a060" stroke-width="0.65"/>
<circle cx="35.6" cy="381.25" r="2.1" fill="#ec8a3a"/>
<circle cx="46.15" cy="379.85" r="2.1" fill="#ec8a3a"/>
<circle cx="56.7" cy="376" r="2.1" fill="#ec8a3a"/>
<circle cx="67.25" cy="373.38" r="2.1" fill="#ec8a3a"/>
<circle cx="77.8" cy="376" r="2.1" fill="#ec8a3a"/>
<circle cx="88.35" cy="375.48" r="2.1" fill="#ec8a3a"/>
<circle cx="98.9" cy="370.75" r="2.1" fill="#ec8a3a"/>
<circle cx="109.45" cy="370.75" r="2.1" fill="#ec8a3a"/>
<line x1="35.6" y1="377.75" x2="35.6" y2="384.75" stroke="#78c98f" stroke-width="0.55"/>
<line x1="34" y1="377.75" x2="37.2" y2="377.75" stroke="#78c98f" stroke-width="0.55"/>
<line x1="34" y1="384.75" x2="37.2" y2="384.75" stroke="#78c98f" stroke-width="0.55"/>
<line x1="46.15" y1="375.1" x2="46.15" y2="381.1" stroke="#78c98f" stroke-width="0.55"/>
<line x1="44.55" y1="375.1" x2="47.75" y2="375.1" stroke="#78c98f" stroke-width="0.55"/>
<line x1="44.55" y1="381.1" x2="47.75" y2="381.1" stroke="#78c98f" stroke-width="0.55"/>
<line x1="56.7" y1="374.75" x2="56.7" y2="380.75" stroke="#78c98f" stroke-width="0.55"/>
<line x1="55.1" y1="374.75" x2="58.3" y2="374.75" stroke="#78c98f" stroke-width="0.55"/>
<line x1="55.1" y1="380.75" x2="58.3" y2="380.75" stroke="#78c98f" stroke-width="0.55"/>
<line x1="67.25" y1="372.48" x2="67.25" y2="378.48" stroke="#78c98f" stroke-width="0.55"/>
<line x1="65.65" y1="372.48" x2="68.85" y2="372.48" stroke="#78c98f" stroke-width="0.55"/>
<line x1="65.65" y1="378.48" x2="68.85" y2="378.48" stroke="#78c98f" stroke-width="0.55"/>
<line x1="77.8" y1="374.75" x2="77.8" y2="380.75" stroke="#78c98f" stroke-width="0.55"/>
<line x1="76.2" y1="374.75" x2="79.4" y2="374.75" stroke="#78c98f" stroke-width="0.55"/>
<line x1="76.2" y1="380.75" x2="79.4" y2="380.75" stroke="#78c98f" stroke-width="0.55"/>
<line x1="88.35" y1="371.98" x2="88.35" y2="378.98" stroke="#78c98f" stroke-width="0.55"/>
<line x1="86.75" y1="371.98" x2="89.95" y2="371.98" stroke="#78c98f" stroke-width="0.55"/>
<line x1="86.75" y1="378.98" x2="89.95" y2="378.98" stroke="#78c98f" stroke-width="0.55"/>
<line x1="98.9" y1="371.5" x2="98.9" y2="380.5" stroke="#78c98f" stroke-width="0.55"/>
<line x1="97.3" y1="371.5" x2="100.5" y2="371.5" stroke="#78c98f" stroke-width="0.55"/>
<line x1="97.3" y1="380.5" x2="100.5" y2="380.5" stroke="#78c98f" stroke-width="0.55"/>
<line x1="109.45" y1="346.5" x2="109.45" y2="356.5" stroke="#78c98f" stroke-width="0.55"/>
<line x1="107.85" y1="346.5" x2="111.05" y2="346.5" stroke="#78c98f" stroke-width="0.55"/>
<line x1="107.85" y1="356.5" x2="111.05" y2="356.5" stroke="#78c98f" stroke-width="0.55"/>
<polyline points="35.6,381.25 46.15,378.1 56.7,377.75 67.25,375.48 77.8,377.75 88.35,375.48 98.9,376 109.45,351.5" fill="none" stroke="#4cb86a" stroke-width="0.65"/>
<circle cx="35.6" cy="381.25" r="2.1" fill="#2ea44f"/>
<circle cx="46.15" cy="378.1" r="2.1" fill="#2ea44f"/>
<circle cx="56.7" cy="377.75" r="2.1" fill="#2ea44f"/>
<circle cx="67.25" cy="375.48" r="2.1" fill="#2ea44f"/>
<circle cx="77.8" cy="377.75" r="2.1" fill="#2ea44f"/>
<circle cx="88.35" cy="375.48" r="2.1" fill="#2ea44f"/>
<circle cx="98.9" cy="376" r="2.1" fill="#2ea44f"/>
<circle cx="109.45" cy="351.5" r="2.1" fill="#2ea44f"/>
<line x1="35.6" y1="378.75" x2="35.6" y2="383.75" stroke="#e27578" stroke-width="0.55"/>
<line x1="34" y1="378.75" x2="37.2" y2="378.75" stroke="#e27578" stroke-width="0.55"/>
<line x1="34" y1="383.75" x2="37.2" y2="383.75" stroke="#e27578" stroke-width="0.55"/>
<line x1="46.15" y1="376.48" x2="46.15" y2="381.48" stroke="#e27578" stroke-width="0.55"/>
<line x1="44.55" y1="376.48" x2="47.75" y2="376.48" stroke="#e27578" stroke-width="0.55"/>
<line x1="44.55" y1="381.48" x2="47.75" y2="381.48" stroke="#e27578" stroke-width="0.55"/>
<line x1="56.7" y1="372.98" x2="56.7" y2="377.98" stroke="#e27578" stroke-width="0.55"/>
<line x1="55.1" y1="372.98" x2="58.3" y2="372.98" stroke="#e27578" stroke-width="0.55"/>
<line x1="55.1" y1="377.98" x2="58.3" y2="377.98" stroke="#e27578" stroke-width="0.55"/>
<line x1="67.25" y1="368.95" x2="67.25" y2="373.95" stroke="#e27578" stroke-width="0.55"/>
<line x1="65.65" y1="368.95" x2="68.85" y2="368.95" stroke="#e27578" stroke-width="0.55"/>
<line x1="65.65" y1="373.95" x2="68.85" y2="373.95" stroke="#e27578" stroke-width="0.55"/>
<line x1="77.8" y1="370.7" x2="77.8" y2="375.7" stroke="#e27578" stroke-width="0.55"/>
<line x1="76.2" y1="370.7" x2="79.4" y2="370.7" stroke="#e27578" stroke-width="0.55"/>
<line x1="76.2" y1="375.7" x2="79.4" y2="375.7" stroke="#e27578" stroke-width="0.55"/>
<line x1="88.35" y1="364.05" x2="88.35" y2="369.05" stroke="#e27578" stroke-width="0.55"/>
<line x1="86.75" y1="364.05" x2="89.95" y2="364.05" stroke="#e27578" stroke-width="0.55"/>
<line x1="86.75" y1="369.05" x2="89.95" y2="369.05" stroke="#e27578" stroke-width="0.55"/>
<line x1="98.9" y1="358.3" x2="98.9" y2="364.3" stroke="#e27578" stroke-width="0.55"/>
<line x1="97.3" y1="358.3" x2="100.5" y2="358.3" stroke="#e27578" stroke-width="0.55"/>
<line x1="97.3" y1="364.3" x2="100.5" y2="364.3" stroke="#e27578" stroke-width="0.55"/>
<line x1="109.45" y1="357.43" x2="109.45" y2="363.43" stroke="#e27578" stroke-width="0.55"/>
<line x1="107.85" y1="357.43" x2="111.05" y2="357.43" stroke="#e27578" stroke-width="0.55"/>
<line x1="107.85" y1="363.43" x2="111.05" y2="363.43" stroke="#e27578" stroke-width="0.55"/>
<polyline points="35.6,381.25 46.15,378.98 56.7,375.48 67.25,371.45 77.8,373.2 88.35,366.55 98.9,361.3 109.45,360.43" fill="none" stroke="#d9474c" stroke-width="0.65"/>
<circle cx="35.6" cy="381.25" r="2.1" fill="#d2232a"/>
<circle cx="46.15" cy="378.98" r="2.1" fill="#d2232a"/>
<circle cx="56.7" cy="375.48" r="2.1" fill="#d2232a"/>
<circle cx="67.25" cy="371.45" r="2.1" fill="#d2232a"/>
<circle cx="77.8" cy="373.2" r="2.1" fill="#d2232a"/>
<circle cx="88.35" cy="366.55" r="2.1" fill="#d2232a"/>
<circle cx="98.9" cy="361.3" r="2.1" fill="#d2232a"/>
<circle cx="109.45" cy="360.43" r="2.1" fill="#d2232a"/>
<line x1="35.6" y1="378.75" x2="35.6" y2="383.75" stroke="#666666" stroke-width="0.55"/>
<line x1="34" y1="378.75" x2="37.2" y2="378.75" stroke="#666666" stroke-width="0.55"/>
<line x1="34" y1="383.75" x2="37.2" y2="383.75" stroke="#666666" stroke-width="0.55"/>
<line x1="46.15" y1="380.48" x2="46.15" y2="384.48" stroke="#666666" stroke-width="0.55"/>
<line x1="44.55" y1="380.48" x2="47.75" y2="380.48" stroke="#666666" stroke-width="0.55"/>
<line x1="44.55" y1="384.48" x2="47.75" y2="384.48" stroke="#666666" stroke-width="0.55"/>
<line x1="56.7" y1="378.73" x2="56.7" y2="382.73" stroke="#666666" stroke-width="0.55"/>
<line x1="55.1" y1="378.73" x2="58.3" y2="378.73" stroke="#666666" stroke-width="0.55"/>
<line x1="55.1" y1="382.73" x2="58.3" y2="382.73" stroke="#666666" stroke-width="0.55"/>
<line x1="67.25" y1="379.98" x2="67.25" y2="384.98" stroke="#666666" stroke-width="0.55"/>
<line x1="65.65" y1="379.98" x2="68.85" y2="379.98" stroke="#666666" stroke-width="0.55"/>
<line x1="65.65" y1="384.98" x2="68.85" y2="384.98" stroke="#666666" stroke-width="0.55"/>
<line x1="77.8" y1="377.7" x2="77.8" y2="382.7" stroke="#666666" stroke-width="0.55"/>
<line x1="76.2" y1="377.7" x2="79.4" y2="377.7" stroke="#666666" stroke-width="0.55"/>
<line x1="76.2" y1="382.7" x2="79.4" y2="382.7" stroke="#666666" stroke-width="0.55"/>
<line x1="88.35" y1="372.62" x2="88.35" y2="377.62" stroke="#666666" stroke-width="0.55"/>
<line x1="86.75" y1="372.62" x2="89.95" y2="372.62" stroke="#666666" stroke-width="0.55"/>
<line x1="86.75" y1="377.62" x2="89.95" y2="377.62" stroke="#666666" stroke-width="0.55"/>
<line x1="98.9" y1="368.25" x2="98.9" y2="373.25" stroke="#666666" stroke-width="0.55"/>
<line x1="97.3" y1="368.25" x2="100.5" y2="368.25" stroke="#666666" stroke-width="0.55"/>
<line x1="97.3" y1="373.25" x2="100.5" y2="373.25" stroke="#666666" stroke-width="0.55"/>
<line x1="109.45" y1="359.25" x2="109.45" y2="368.25" stroke="#666666" stroke-width="0.55"/>
<line x1="107.85" y1="359.25" x2="111.05" y2="359.25" stroke="#666666" stroke-width="0.55"/>
<line x1="107.85" y1="368.25" x2="111.05" y2="368.25" stroke="#666666" stroke-width="0.55"/>
<polyline points="35.6,381.25 46.15,382.48 56.7,380.73 67.25,382.48 77.8,380.2 88.35,375.12 98.9,370.75 109.45,363.75" fill="none" stroke="#333333" stroke-width="0.65"/>
<circle cx="35.6" cy="381.25" r="2.1" fill="#111111"/>
<circle cx="46.15" cy="382.48" r="2.1" fill="#111111"/>
<circle cx="56.7" cy="380.73" r="2.1" fill="#111111"/>
<circle cx="67.25" cy="382.48" r="2.1" fill="#111111"/>
<circle cx="77.8" cy="380.2" r="2.1" fill="#111111"/>
<circle cx="88.35" cy="375.12" r="2.1" fill="#111111"/>
<circle cx="98.9" cy="370.75" r="2.1" fill="#111111"/>
<circle cx="109.45" cy="363.75" r="2.1" fill="#111111"/>
<line x1="35.6" y1="378.75" x2="35.6" y2="383.75" stroke="#8393c2" stroke-width="0.55"/>
<line x1="34" y1="378.75" x2="37.2" y2="378.75" stroke="#8393c2" stroke-width="0.55"/>
<line x1="34" y1="383.75" x2="37.2" y2="383.75" stroke="#8393c2" stroke-width="0.55"/>
<line x1="46.15" y1="375.25" x2="46.15" y2="380.25" stroke="#8393c2" stroke-width="0.55"/>
<line x1="44.55" y1="375.25" x2="47.75" y2="375.25" stroke="#8393c2" stroke-width="0.55"/>
<line x1="44.55" y1="380.25" x2="47.75" y2="380.25" stroke="#8393c2" stroke-width="0.55"/>
<line x1="56.7" y1="373.85" x2="56.7" y2="378.85" stroke="#8393c2" stroke-width="0.55"/>
<line x1="55.1" y1="373.85" x2="58.3" y2="373.85" stroke="#8393c2" stroke-width="0.55"/>
<line x1="55.1" y1="378.85" x2="58.3" y2="378.85" stroke="#8393c2" stroke-width="0.55"/>
<line x1="67.25" y1="373.5" x2="67.25" y2="378.5" stroke="#8393c2" stroke-width="0.55"/>
<line x1="65.65" y1="373.5" x2="68.85" y2="373.5" stroke="#8393c2" stroke-width="0.55"/>
<line x1="65.65" y1="378.5" x2="68.85" y2="378.5" stroke="#8393c2" stroke-width="0.55"/>
<line x1="77.8" y1="374.2" x2="77.8" y2="379.2" stroke="#8393c2" stroke-width="0.55"/>
<line x1="76.2" y1="374.2" x2="79.4" y2="374.2" stroke="#8393c2" stroke-width="0.55"/>
<line x1="76.2" y1="379.2" x2="79.4" y2="379.2" stroke="#8393c2" stroke-width="0.55"/>
<line x1="88.35" y1="364.93" x2="88.35" y2="369.93" stroke="#8393c2" stroke-width="0.55"/>
<line x1="86.75" y1="364.93" x2="89.95" y2="364.93" stroke="#8393c2" stroke-width="0.55"/>
<line x1="86.75" y1="369.93" x2="89.95" y2="369.93" stroke="#8393c2" stroke-width="0.55"/>
<line x1="98.9" y1="356.43" x2="98.9" y2="364.43" stroke="#8393c2" stroke-width="0.55"/>
<line x1="97.3" y1="356.43" x2="100.5" y2="356.43" stroke="#8393c2" stroke-width="0.55"/>
<line x1="97.3" y1="364.43" x2="100.5" y2="364.43" stroke="#8393c2" stroke-width="0.55"/>
<line x1="109.45" y1="327" x2="109.45" y2="351.5" stroke="#8393c2" stroke-width="0.55"/>
<line x1="107.85" y1="327" x2="111.05" y2="327" stroke="#8393c2" stroke-width="0.55"/>
<line x1="107.85" y1="351.5" x2="111.05" y2="351.5" stroke="#8393c2" stroke-width="0.55"/>
<polyline points="35.6,381.25 46.15,377.75 56.7,376.35 67.25,376 77.8,376.7 88.35,367.43 98.9,360.43 109.45,338.2" fill="none" stroke="#5a6fae" stroke-width="0.65"/>
<circle cx="35.6" cy="381.25" r="2.1" fill="#2f4b94"/>
<circle cx="46.15" cy="377.75" r="2.1" fill="#2f4b94"/>
<circle cx="56.7" cy="376.35" r="2.1" fill="#2f4b94"/>
<circle cx="67.25" cy="376" r="2.1" fill="#2f4b94"/>
<circle cx="77.8" cy="376.7" r="2.1" fill="#2f4b94"/>
<circle cx="88.35" cy="367.43" r="2.1" fill="#2f4b94"/>
<circle cx="98.9" cy="360.43" r="2.1" fill="#2f4b94"/>
<circle cx="109.45" cy="338.2" r="2.1" fill="#2f4b94"/>
<text x="138.2" y="292.9" font-size="12.2" text-anchor="start" font-weight="bold" fill="#000" stroke="#000" stroke-width="0.3">J</text>
<text x="201.45" y="292" font-size="7.2" text-anchor="middle" font-weight="bold" fill="#1a1a1a" stroke="#1a1a1a" stroke-width="0.3">B16-F10</text>
<line x1="163.5" y1="310.3" x2="163.5" y2="398.75" stroke="#6e6e6e" stroke-width="0.9"/>
<line x1="160.3" y1="398.9" x2="163.5" y2="398.9" stroke="#6e6e6e" stroke-width="0.9"/>
<text x="159.6" y="401.82" font-size="7" text-anchor="end" fill="#1a1a1a" stroke="#1a1a1a" stroke-width="0.25">80</text>
<line x1="160.3" y1="384.2" x2="163.5" y2="384.2" stroke="#6e6e6e" stroke-width="0.9"/>
<text x="159.6" y="387.12" font-size="7" text-anchor="end" fill="#1a1a1a" stroke="#1a1a1a" stroke-width="0.25">90</text>
<line x1="160.3" y1="369.5" x2="163.5" y2="369.5" stroke="#6e6e6e" stroke-width="0.9"/>
<text x="159.6" y="372.42" font-size="7" text-anchor="end" fill="#1a1a1a" stroke="#1a1a1a" stroke-width="0.25">100</text>
<line x1="160.3" y1="354.8" x2="163.5" y2="354.8" stroke="#6e6e6e" stroke-width="0.9"/>
<text x="159.6" y="357.72" font-size="7" text-anchor="end" fill="#1a1a1a" stroke="#1a1a1a" stroke-width="0.25">110</text>
<line x1="160.3" y1="340.1" x2="163.5" y2="340.1" stroke="#6e6e6e" stroke-width="0.9"/>
<text x="159.6" y="343.02" font-size="7" text-anchor="end" fill="#1a1a1a" stroke="#1a1a1a" stroke-width="0.25">120</text>
<line x1="160.3" y1="325.4" x2="163.5" y2="325.4" stroke="#6e6e6e" stroke-width="0.9"/>
<text x="159.6" y="328.32" font-size="7" text-anchor="end" fill="#1a1a1a" stroke="#1a1a1a" stroke-width="0.25">130</text>
<line x1="160.3" y1="310.7" x2="163.5" y2="310.7" stroke="#6e6e6e" stroke-width="0.9"/>
<text x="159.6" y="313.62" font-size="7" text-anchor="end" fill="#1a1a1a" stroke="#1a1a1a" stroke-width="0.25">140</text>
<line x1="163.5" y1="398.75" x2="252" y2="398.75" stroke="#6e6e6e" stroke-width="0.9"/>
<line x1="171" y1="398.75" x2="171" y2="402.35" stroke="#6e6e6e" stroke-width="0.9"/>
<text x="171" y="408.35" font-size="7" text-anchor="middle" fill="#1a1a1a" stroke="#1a1a1a" stroke-width="0.25">0</text>
<line x1="181.57" y1="398.75" x2="181.57" y2="402.35" stroke="#6e6e6e" stroke-width="0.9"/>
<text x="181.57" y="408.35" font-size="7" text-anchor="middle" fill="#1a1a1a" stroke="#1a1a1a" stroke-width="0.25">3</text>
<line x1="192.14" y1="398.75" x2="192.14" y2="402.35" stroke="#6e6e6e" stroke-width="0.9"/>
<text x="192.14" y="408.35" font-size="7" text-anchor="middle" fill="#1a1a1a" stroke="#1a1a1a" stroke-width="0.25">5</text>
<line x1="202.71" y1="398.75" x2="202.71" y2="402.35" stroke="#6e6e6e" stroke-width="0.9"/>
<text x="202.71" y="408.35" font-size="7" text-anchor="middle" fill="#1a1a1a" stroke="#1a1a1a" stroke-width="0.25">6</text>
<line x1="213.28" y1="398.75" x2="213.28" y2="402.35" stroke="#6e6e6e" stroke-width="0.9"/>
<text x="213.28" y="408.35" font-size="7" text-anchor="middle" fill="#1a1a1a" stroke="#1a1a1a" stroke-width="0.25">8</text>
<line x1="223.85" y1="398.75" x2="223.85" y2="402.35" stroke="#6e6e6e" stroke-width="0.9"/>
<text x="223.85" y="408.35" font-size="7" text-anchor="middle" fill="#1a1a1a" stroke="#1a1a1a" stroke-width="0.25">11</text>
<line x1="234.42" y1="398.75" x2="234.42" y2="402.35" stroke="#6e6e6e" stroke-width="0.9"/>
<text x="234.42" y="408.35" font-size="7" text-anchor="middle" fill="#1a1a1a" stroke="#1a1a1a" stroke-width="0.25">14</text>
<line x1="244.99" y1="398.75" x2="244.99" y2="402.35" stroke="#6e6e6e" stroke-width="0.9"/>
<text x="244.99" y="408.35" font-size="7" text-anchor="middle" fill="#1a1a1a" stroke="#1a1a1a" stroke-width="0.25">18</text>
<text x="142.7" y="351.2" font-size="7.2" text-anchor="middle" fill="#1a1a1a" stroke="#1a1a1a" stroke-width="0.25" transform="rotate(-90 142.7 351.2)">Body weight (%)</text>
<line x1="167.05" y1="298.1" x2="175.45" y2="298.1" stroke="#5a6fae" stroke-width="0.8"/>
<circle cx="171.25" cy="298.1" r="2.2" fill="#2f4b94"/>
<text x="177.25" y="300.1" font-size="5.5" text-anchor="start" fill="#2a2a2a" stroke="#2a2a2a" stroke-width="0.06">PBS</text>
<line x1="167.05" y1="304.75" x2="175.45" y2="304.75" stroke="#333333" stroke-width="0.8"/>
<circle cx="171.25" cy="304.75" r="2.2" fill="#111111"/>
<text x="177.25" y="306.75" font-size="5.5" text-anchor="start" fill="#2a2a2a" stroke="#2a2a2a" stroke-width="0.06">omPD1 1 mg/kg</text>
<line x1="167.05" y1="311.25" x2="175.45" y2="311.25" stroke="#d9474c" stroke-width="0.8"/>
<circle cx="171.25" cy="311.25" r="2.2" fill="#d2232a"/>
<text x="177.25" y="313.25" font-size="5.5" text-anchor="start" fill="#2a2a2a" stroke="#2a2a2a" stroke-width="0.06">IL15 superagonist 1 mg/kg</text>
<line x1="167.05" y1="317.5" x2="175.45" y2="317.5" stroke="#4cb86a" stroke-width="0.8"/>
<circle cx="171.25" cy="317.5" r="2.2" fill="#2ea44f"/>
<text x="177.25" y="319.5" font-size="5.5" text-anchor="start" fill="#2a2a2a" stroke="#2a2a2a" stroke-width="0.06">IL15 superagonist 1 mg/kg</text>
<text x="177.25" y="325.75" font-size="5.5" text-anchor="start" fill="#2a2a2a" stroke="#2a2a2a" stroke-width="0.06">+αPD1 (1 mg/kg)</text>
<line x1="167.05" y1="330" x2="175.45" y2="330" stroke="#f0a060" stroke-width="0.8"/>
<circle cx="171.25" cy="330" r="2.2" fill="#ec8a3a"/>
<text x="177.25" y="332" font-size="5.5" text-anchor="start" fill="#2a2a2a" stroke="#2a2a2a" stroke-width="0.06">omPD1-IL15m 1 mg/kg</text>
<line x1="171" y1="367.5" x2="171" y2="371.5" stroke="#78c98f" stroke-width="0.55"/>
<line x1="169.4" y1="367.5" x2="172.6" y2="367.5" stroke="#78c98f" stroke-width="0.55"/>
<line x1="169.4" y1="371.5" x2="172.6" y2="371.5" stroke="#78c98f" stroke-width="0.55"/>
<line x1="181.57" y1="375.29" x2="181.57" y2="379.29" stroke="#78c98f" stroke-width="0.55"/>
<line x1="179.97" y1="375.29" x2="183.17" y2="375.29" stroke="#78c98f" stroke-width="0.55"/>
<line x1="179.97" y1="379.29" x2="183.17" y2="379.29" stroke="#78c98f" stroke-width="0.55"/>
<line x1="192.14" y1="380" x2="192.14" y2="384" stroke="#78c98f" stroke-width="0.55"/>
<line x1="190.54" y1="380" x2="193.74" y2="380" stroke="#78c98f" stroke-width="0.55"/>
<line x1="190.54" y1="384" x2="193.74" y2="384" stroke="#78c98f" stroke-width="0.55"/>
<line x1="202.71" y1="369.41" x2="202.71" y2="373.41" stroke="#78c98f" stroke-width="0.55"/>
<line x1="201.11" y1="369.41" x2="204.31" y2="369.41" stroke="#78c98f" stroke-width="0.55"/>
<line x1="201.11" y1="373.41" x2="204.31" y2="373.41" stroke="#78c98f" stroke-width="0.55"/>
<line x1="213.28" y1="365.15" x2="213.28" y2="369.15" stroke="#78c98f" stroke-width="0.55"/>
<line x1="211.68" y1="365.15" x2="214.88" y2="365.15" stroke="#78c98f" stroke-width="0.55"/>
<line x1="211.68" y1="369.15" x2="214.88" y2="369.15" stroke="#78c98f" stroke-width="0.55"/>
<line x1="223.85" y1="364.56" x2="223.85" y2="368.56" stroke="#78c98f" stroke-width="0.55"/>
<line x1="222.25" y1="364.56" x2="225.45" y2="364.56" stroke="#78c98f" stroke-width="0.55"/>
<line x1="222.25" y1="368.56" x2="225.45" y2="368.56" stroke="#78c98f" stroke-width="0.55"/>
<line x1="234.42" y1="366.21" x2="234.42" y2="372.21" stroke="#78c98f" stroke-width="0.55"/>
<line x1="232.82" y1="366.21" x2="236.02" y2="366.21" stroke="#78c98f" stroke-width="0.55"/>
<line x1="232.82" y1="372.21" x2="236.02" y2="372.21" stroke="#78c98f" stroke-width="0.55"/>
<line x1="244.99" y1="362.88" x2="244.99" y2="367.88" stroke="#78c98f" stroke-width="0.55"/>
<line x1="243.39" y1="362.88" x2="246.59" y2="362.88" stroke="#78c98f" stroke-width="0.55"/>
<line x1="243.39" y1="367.88" x2="246.59" y2="367.88" stroke="#78c98f" stroke-width="0.55"/>
<polyline points="171,369.5 181.57,377.29 192.14,382 202.71,371.41 213.28,367.15 223.85,366.56 234.42,369.21 244.99,365.38" fill="none" stroke="#4cb86a" stroke-width="0.65"/>
<circle cx="171" cy="369.5" r="2.1" fill="#2ea44f"/>
<circle cx="181.57" cy="377.29" r="2.1" fill="#2ea44f"/>
<circle cx="192.14" cy="382" r="2.1" fill="#2ea44f"/>
<circle cx="202.71" cy="371.41" r="2.1" fill="#2ea44f"/>
<circle cx="213.28" cy="367.15" r="2.1" fill="#2ea44f"/>
<circle cx="223.85" cy="366.56" r="2.1" fill="#2ea44f"/>
<circle cx="234.42" cy="369.21" r="2.1" fill="#2ea44f"/>
<circle cx="244.99" cy="365.38" r="2.1" fill="#2ea44f"/>
<line x1="171" y1="367.5" x2="171" y2="371.5" stroke="#e27578" stroke-width="0.55"/>
<line x1="169.4" y1="367.5" x2="172.6" y2="367.5" stroke="#e27578" stroke-width="0.55"/>
<line x1="169.4" y1="371.5" x2="172.6" y2="371.5" stroke="#e27578" stroke-width="0.55"/>
<line x1="181.57" y1="374.26" x2="181.57" y2="378.26" stroke="#e27578" stroke-width="0.55"/>
<line x1="179.97" y1="374.26" x2="183.17" y2="374.26" stroke="#e27578" stroke-width="0.55"/>
<line x1="179.97" y1="378.26" x2="183.17" y2="378.26" stroke="#e27578" stroke-width="0.55"/>
<line x1="192.14" y1="377.06" x2="192.14" y2="381.06" stroke="#e27578" stroke-width="0.55"/>
<line x1="190.54" y1="377.06" x2="193.74" y2="377.06" stroke="#e27578" stroke-width="0.55"/>
<line x1="190.54" y1="381.06" x2="193.74" y2="381.06" stroke="#e27578" stroke-width="0.55"/>
<line x1="202.71" y1="368.68" x2="202.71" y2="372.68" stroke="#e27578" stroke-width="0.55"/>
<line x1="201.11" y1="368.68" x2="204.31" y2="368.68" stroke="#e27578" stroke-width="0.55"/>
<line x1="201.11" y1="372.68" x2="204.31" y2="372.68" stroke="#e27578" stroke-width="0.55"/>
<line x1="213.28" y1="364.56" x2="213.28" y2="368.56" stroke="#e27578" stroke-width="0.55"/>
<line x1="211.68" y1="364.56" x2="214.88" y2="364.56" stroke="#e27578" stroke-width="0.55"/>
<line x1="211.68" y1="368.56" x2="214.88" y2="368.56" stroke="#e27578" stroke-width="0.55"/>
<line x1="223.85" y1="362.36" x2="223.85" y2="366.36" stroke="#e27578" stroke-width="0.55"/>
<line x1="222.25" y1="362.36" x2="225.45" y2="362.36" stroke="#e27578" stroke-width="0.55"/>
<line x1="222.25" y1="366.36" x2="225.45" y2="366.36" stroke="#e27578" stroke-width="0.55"/>
<line x1="234.42" y1="357.89" x2="234.42" y2="362.89" stroke="#e27578" stroke-width="0.55"/>
<line x1="232.82" y1="357.89" x2="236.02" y2="357.89" stroke="#e27578" stroke-width="0.55"/>
<line x1="232.82" y1="362.89" x2="236.02" y2="362.89" stroke="#e27578" stroke-width="0.55"/>
<line x1="244.99" y1="356.5" x2="244.99" y2="362.5" stroke="#e27578" stroke-width="0.55"/>
<line x1="243.39" y1="356.5" x2="246.59" y2="356.5" stroke="#e27578" stroke-width="0.55"/>
<line x1="243.39" y1="362.5" x2="246.59" y2="362.5" stroke="#e27578" stroke-width="0.55"/>
<polyline points="171,369.5 181.57,376.26 192.14,379.06 202.71,370.68 213.28,366.56 223.85,364.36 234.42,360.39 244.99,359.5" fill="none" stroke="#d9474c" stroke-width="0.65"/>
<circle cx="171" cy="369.5" r="2.1" fill="#d2232a"/>
<circle cx="181.57" cy="376.26" r="2.1" fill="#d2232a"/>
<circle cx="192.14" cy="379.06" r="2.1" fill="#d2232a"/>
<circle cx="202.71" cy="370.68" r="2.1" fill="#d2232a"/>
<circle cx="213.28" cy="366.56" r="2.1" fill="#d2232a"/>
<circle cx="223.85" cy="364.36" r="2.1" fill="#d2232a"/>
<circle cx="234.42" cy="360.39" r="2.1" fill="#d2232a"/>
<circle cx="244.99" cy="359.5" r="2.1" fill="#d2232a"/>
<line x1="171" y1="366.5" x2="171" y2="372.5" stroke="#f3b787" stroke-width="0.55"/>
<line x1="169.4" y1="366.5" x2="172.6" y2="366.5" stroke="#f3b787" stroke-width="0.55"/>
<line x1="169.4" y1="372.5" x2="172.6" y2="372.5" stroke="#f3b787" stroke-width="0.55"/>
<line x1="181.57" y1="374.58" x2="181.57" y2="380.58" stroke="#f3b787" stroke-width="0.55"/>
<line x1="179.97" y1="374.58" x2="183.17" y2="374.58" stroke="#f3b787" stroke-width="0.55"/>
<line x1="179.97" y1="380.58" x2="183.17" y2="380.58" stroke="#f3b787" stroke-width="0.55"/>
<line x1="192.14" y1="376.35" x2="192.14" y2="382.35" stroke="#f3b787" stroke-width="0.55"/>
<line x1="190.54" y1="376.35" x2="193.74" y2="376.35" stroke="#f3b787" stroke-width="0.55"/>
<line x1="190.54" y1="382.35" x2="193.74" y2="382.35" stroke="#f3b787" stroke-width="0.55"/>
<line x1="202.71" y1="369.7" x2="202.71" y2="373.7" stroke="#f3b787" stroke-width="0.55"/>
<line x1="201.11" y1="369.7" x2="204.31" y2="369.7" stroke="#f3b787" stroke-width="0.55"/>
<line x1="201.11" y1="373.7" x2="204.31" y2="373.7" stroke="#f3b787" stroke-width="0.55"/>
<line x1="213.28" y1="364.56" x2="213.28" y2="368.56" stroke="#f3b787" stroke-width="0.55"/>
<line x1="211.68" y1="364.56" x2="214.88" y2="364.56" stroke="#f3b787" stroke-width="0.55"/>
<line x1="211.68" y1="368.56" x2="214.88" y2="368.56" stroke="#f3b787" stroke-width="0.55"/>
<line x1="223.85" y1="362.36" x2="223.85" y2="366.36" stroke="#f3b787" stroke-width="0.55"/>
<line x1="222.25" y1="362.36" x2="225.45" y2="362.36" stroke="#f3b787" stroke-width="0.55"/>
<line x1="222.25" y1="366.36" x2="225.45" y2="366.36" stroke="#f3b787" stroke-width="0.55"/>
<line x1="234.42" y1="357.39" x2="234.42" y2="363.39" stroke="#f3b787" stroke-width="0.55"/>
<line x1="232.82" y1="357.39" x2="236.02" y2="357.39" stroke="#f3b787" stroke-width="0.55"/>
<line x1="232.82" y1="363.39" x2="236.02" y2="363.39" stroke="#f3b787" stroke-width="0.55"/>
<line x1="244.99" y1="356.5" x2="244.99" y2="362.5" stroke="#f3b787" stroke-width="0.55"/>
<line x1="243.39" y1="356.5" x2="246.59" y2="356.5" stroke="#f3b787" stroke-width="0.55"/>
<line x1="243.39" y1="362.5" x2="246.59" y2="362.5" stroke="#f3b787" stroke-width="0.55"/>
<polyline points="171,369.5 181.57,377.58 192.14,379.35 202.71,371.7 213.28,366.56 223.85,364.36 234.42,360.39 244.99,359.5" fill="none" stroke="#f0a060" stroke-width="0.65"/>
<circle cx="171" cy="369.5" r="2.1" fill="#ec8a3a"/>
<circle cx="181.57" cy="377.58" r="2.1" fill="#ec8a3a"/>
<circle cx="192.14" cy="379.35" r="2.1" fill="#ec8a3a"/>
<circle cx="202.71" cy="371.7" r="2.1" fill="#ec8a3a"/>
<circle cx="213.28" cy="366.56" r="2.1" fill="#ec8a3a"/>
<circle cx="223.85" cy="364.36" r="2.1" fill="#ec8a3a"/>
<circle cx="234.42" cy="360.39" r="2.1" fill="#ec8a3a"/>
<circle cx="244.99" cy="359.5" r="2.1" fill="#ec8a3a"/>
<line x1="171" y1="367.5" x2="171" y2="371.5" stroke="#666666" stroke-width="0.55"/>
<line x1="169.4" y1="367.5" x2="172.6" y2="367.5" stroke="#666666" stroke-width="0.55"/>
<line x1="169.4" y1="371.5" x2="172.6" y2="371.5" stroke="#666666" stroke-width="0.55"/>
<line x1="181.57" y1="368.09" x2="181.57" y2="372.09" stroke="#666666" stroke-width="0.55"/>
<line x1="179.97" y1="368.09" x2="183.17" y2="368.09" stroke="#666666" stroke-width="0.55"/>
<line x1="179.97" y1="372.09" x2="183.17" y2="372.09" stroke="#666666" stroke-width="0.55"/>
<line x1="192.14" y1="367.5" x2="192.14" y2="371.5" stroke="#666666" stroke-width="0.55"/>
<line x1="190.54" y1="367.5" x2="193.74" y2="367.5" stroke="#666666" stroke-width="0.55"/>
<line x1="190.54" y1="371.5" x2="193.74" y2="371.5" stroke="#666666" stroke-width="0.55"/>
<line x1="202.71" y1="368.68" x2="202.71" y2="372.68" stroke="#666666" stroke-width="0.55"/>
<line x1="201.11" y1="368.68" x2="204.31" y2="368.68" stroke="#666666" stroke-width="0.55"/>
<line x1="201.11" y1="372.68" x2="204.31" y2="372.68" stroke="#666666" stroke-width="0.55"/>
<line x1="213.28" y1="365.76" x2="213.28" y2="371.76" stroke="#666666" stroke-width="0.55"/>
<line x1="211.68" y1="365.76" x2="214.88" y2="365.76" stroke="#666666" stroke-width="0.55"/>
<line x1="211.68" y1="371.76" x2="214.88" y2="371.76" stroke="#666666" stroke-width="0.55"/>
<line x1="223.85" y1="362.36" x2="223.85" y2="366.36" stroke="#666666" stroke-width="0.55"/>
<line x1="222.25" y1="362.36" x2="225.45" y2="362.36" stroke="#666666" stroke-width="0.55"/>
<line x1="222.25" y1="366.36" x2="225.45" y2="366.36" stroke="#666666" stroke-width="0.55"/>
<line x1="234.42" y1="357.39" x2="234.42" y2="363.39" stroke="#666666" stroke-width="0.55"/>
<line x1="232.82" y1="357.39" x2="236.02" y2="357.39" stroke="#666666" stroke-width="0.55"/>
<line x1="232.82" y1="363.39" x2="236.02" y2="363.39" stroke="#666666" stroke-width="0.55"/>
<line x1="244.99" y1="348.09" x2="244.99" y2="362.09" stroke="#666666" stroke-width="0.55"/>
<line x1="243.39" y1="348.09" x2="246.59" y2="348.09" stroke="#666666" stroke-width="0.55"/>
<line x1="243.39" y1="362.09" x2="246.59" y2="362.09" stroke="#666666" stroke-width="0.55"/>
<polyline points="171,369.5 181.57,370.09 192.14,369.5 202.71,370.68 213.28,368.76 223.85,364.36 234.42,360.39 244.99,355.09" fill="none" stroke="#333333" stroke-width="0.65"/>
<circle cx="171" cy="369.5" r="2.1" fill="#111111"/>
<circle cx="181.57" cy="370.09" r="2.1" fill="#111111"/>
<circle cx="192.14" cy="369.5" r="2.1" fill="#111111"/>
<circle cx="202.71" cy="370.68" r="2.1" fill="#111111"/>
<circle cx="213.28" cy="368.76" r="2.1" fill="#111111"/>
<circle cx="223.85" cy="364.36" r="2.1" fill="#111111"/>
<circle cx="234.42" cy="360.39" r="2.1" fill="#111111"/>
<circle cx="244.99" cy="355.09" r="2.1" fill="#111111"/>
<line x1="171" y1="366.71" x2="171" y2="371.71" stroke="#8393c2" stroke-width="0.55"/>
<line x1="169.4" y1="366.71" x2="172.6" y2="366.71" stroke="#8393c2" stroke-width="0.55"/>
<line x1="169.4" y1="371.71" x2="172.6" y2="371.71" stroke="#8393c2" stroke-width="0.55"/>
<line x1="181.57" y1="364.94" x2="181.57" y2="369.94" stroke="#8393c2" stroke-width="0.55"/>
<line x1="179.97" y1="364.94" x2="183.17" y2="364.94" stroke="#8393c2" stroke-width="0.55"/>
<line x1="179.97" y1="369.94" x2="183.17" y2="369.94" stroke="#8393c2" stroke-width="0.55"/>
<line x1="192.14" y1="364.06" x2="192.14" y2="369.06" stroke="#8393c2" stroke-width="0.55"/>
<line x1="190.54" y1="364.06" x2="193.74" y2="364.06" stroke="#8393c2" stroke-width="0.55"/>
<line x1="190.54" y1="369.06" x2="193.74" y2="369.06" stroke="#8393c2" stroke-width="0.55"/>
<line x1="202.71" y1="364.06" x2="202.71" y2="369.06" stroke="#8393c2" stroke-width="0.55"/>
<line x1="201.11" y1="364.06" x2="204.31" y2="364.06" stroke="#8393c2" stroke-width="0.55"/>
<line x1="201.11" y1="369.06" x2="204.31" y2="369.06" stroke="#8393c2" stroke-width="0.55"/>
<line x1="213.28" y1="364.06" x2="213.28" y2="369.06" stroke="#8393c2" stroke-width="0.55"/>
<line x1="211.68" y1="364.06" x2="214.88" y2="364.06" stroke="#8393c2" stroke-width="0.55"/>
<line x1="211.68" y1="369.06" x2="214.88" y2="369.06" stroke="#8393c2" stroke-width="0.55"/>
<line x1="223.85" y1="356.12" x2="223.85" y2="361.12" stroke="#8393c2" stroke-width="0.55"/>
<line x1="222.25" y1="356.12" x2="225.45" y2="356.12" stroke="#8393c2" stroke-width="0.55"/>
<line x1="222.25" y1="361.12" x2="225.45" y2="361.12" stroke="#8393c2" stroke-width="0.55"/>
<line x1="234.42" y1="348.45" x2="234.42" y2="356.45" stroke="#8393c2" stroke-width="0.55"/>
<line x1="232.82" y1="348.45" x2="236.02" y2="348.45" stroke="#8393c2" stroke-width="0.55"/>
<line x1="232.82" y1="356.45" x2="236.02" y2="356.45" stroke="#8393c2" stroke-width="0.55"/>
<line x1="244.99" y1="326" x2="244.99" y2="346" stroke="#8393c2" stroke-width="0.55"/>
<line x1="243.39" y1="326" x2="246.59" y2="326" stroke="#8393c2" stroke-width="0.55"/>
<line x1="243.39" y1="346" x2="246.59" y2="346" stroke="#8393c2" stroke-width="0.55"/>
<polyline points="171,369.21 181.57,367.44 192.14,366.56 202.71,366.56 213.28,366.56 223.85,358.62 234.42,352.45 244.99,333.78" fill="none" stroke="#5a6fae" stroke-width="0.65"/>
<circle cx="171" cy="369.21" r="2.1" fill="#2f4b94"/>
<circle cx="181.57" cy="367.44" r="2.1" fill="#2f4b94"/>
<circle cx="192.14" cy="366.56" r="2.1" fill="#2f4b94"/>
<circle cx="202.71" cy="366.56" r="2.1" fill="#2f4b94"/>
<circle cx="213.28" cy="366.56" r="2.1" fill="#2f4b94"/>
<circle cx="223.85" cy="358.62" r="2.1" fill="#2f4b94"/>
<circle cx="234.42" cy="352.45" r="2.1" fill="#2f4b94"/>
<circle cx="244.99" cy="333.78" r="2.1" fill="#2f4b94"/>
<text x="192.65" y="390.47" font-size="6.2" text-anchor="middle" fill="#3a9a5a" stroke="#3a9a5a" stroke-width="0.25" letter-spacing="0.9">***</text>
<text x="265.5" y="292.9" font-size="12.2" text-anchor="start" font-weight="bold" fill="#000" stroke="#000" stroke-width="0.3">K</text>
<text x="330.75" y="292" font-size="7.2" text-anchor="middle" font-weight="bold" fill="#1a1a1a" stroke="#1a1a1a" stroke-width="0.3">B16-F10</text>
<line x1="292.25" y1="310.7" x2="292.25" y2="398" stroke="#6e6e6e" stroke-width="0.9"/>
<line x1="289.05" y1="398" x2="292.25" y2="398" stroke="#6e6e6e" stroke-width="0.9"/>
<text x="288.35" y="400.92" font-size="7" text-anchor="end" fill="#1a1a1a" stroke="#1a1a1a" stroke-width="0.25">80</text>
<line x1="289.05" y1="376.25" x2="292.25" y2="376.25" stroke="#6e6e6e" stroke-width="0.9"/>
<text x="288.35" y="379.17" font-size="7" text-anchor="end" fill="#1a1a1a" stroke="#1a1a1a" stroke-width="0.25">90</text>
<line x1="289.05" y1="354.5" x2="292.25" y2="354.5" stroke="#6e6e6e" stroke-width="0.9"/>
<text x="288.35" y="357.42" font-size="7" text-anchor="end" fill="#1a1a1a" stroke="#1a1a1a" stroke-width="0.25">100</text>
<line x1="289.05" y1="332.75" x2="292.25" y2="332.75" stroke="#6e6e6e" stroke-width="0.9"/>
<text x="288.35" y="335.67" font-size="7" text-anchor="end" fill="#1a1a1a" stroke="#1a1a1a" stroke-width="0.25">110</text>
<line x1="289.05" y1="311" x2="292.25" y2="311" stroke="#6e6e6e" stroke-width="0.9"/>
<text x="288.35" y="313.92" font-size="7" text-anchor="end" fill="#1a1a1a" stroke="#1a1a1a" stroke-width="0.25">120</text>
<line x1="292.25" y1="398" x2="380" y2="398" stroke="#6e6e6e" stroke-width="0.9"/>
<line x1="301.5" y1="398" x2="301.5" y2="401.6" stroke="#6e6e6e" stroke-width="0.9"/>
<text x="301.5" y="407.6" font-size="7" text-anchor="middle" fill="#1a1a1a" stroke="#1a1a1a" stroke-width="0.25">0</text>
<line x1="315.35" y1="398" x2="315.35" y2="401.6" stroke="#6e6e6e" stroke-width="0.9"/>
<text x="315.35" y="407.6" font-size="7" text-anchor="middle" fill="#1a1a1a" stroke="#1a1a1a" stroke-width="0.25">3</text>
<line x1="329.2" y1="398" x2="329.2" y2="401.6" stroke="#6e6e6e" stroke-width="0.9"/>
<text x="329.2" y="407.6" font-size="7" text-anchor="middle" fill="#1a1a1a" stroke="#1a1a1a" stroke-width="0.25">6</text>
<line x1="343.05" y1="398" x2="343.05" y2="401.6" stroke="#6e6e6e" stroke-width="0.9"/>
<text x="343.05" y="407.6" font-size="7" text-anchor="middle" fill="#1a1a1a" stroke="#1a1a1a" stroke-width="0.25">9</text>
<line x1="356.9" y1="398" x2="356.9" y2="401.6" stroke="#6e6e6e" stroke-width="0.9"/>
<text x="356.9" y="407.6" font-size="7" text-anchor="middle" fill="#1a1a1a" stroke="#1a1a1a" stroke-width="0.25">12</text>
<line x1="370.75" y1="398" x2="370.75" y2="401.6" stroke="#6e6e6e" stroke-width="0.9"/>
<text x="370.75" y="407.6" font-size="7" text-anchor="middle" fill="#1a1a1a" stroke="#1a1a1a" stroke-width="0.25">15</text>
<text x="270.2" y="354.3" font-size="7.2" text-anchor="middle" fill="#1a1a1a" stroke="#1a1a1a" stroke-width="0.25" transform="rotate(-90 270.2 354.3)">Body weight (%)</text>
<line x1="295.55" y1="298.1" x2="303.95" y2="298.1" stroke="#5a6fae" stroke-width="0.8"/>
<circle cx="299.75" cy="298.1" r="2.2" fill="#2f4b94"/>
<text x="305.6" y="300.1" font-size="5.5" text-anchor="start" fill="#2a2a2a" stroke="#2a2a2a" stroke-width="0.06">PBS</text>
<line x1="295.55" y1="304.75" x2="303.95" y2="304.75" stroke="#d9474c" stroke-width="0.8"/>
<circle cx="299.75" cy="304.75" r="2.2" fill="#d2232a"/>
<text x="305.6" y="306.75" font-size="5.5" text-anchor="start" fill="#2a2a2a" stroke="#2a2a2a" stroke-width="0.06">omPD1-IL15m 0.1 mg/kg</text>
<line x1="295.55" y1="311" x2="303.95" y2="311" stroke="#4cb86a" stroke-width="0.8"/>
<circle cx="299.75" cy="311" r="2.2" fill="#2ea44f"/>
<text x="305.6" y="313" font-size="5.5" text-anchor="start" fill="#2a2a2a" stroke="#2a2a2a" stroke-width="0.06">omPD1-IL15m 0.3 mg/kg</text>
<line x1="295.55" y1="317.25" x2="303.95" y2="317.25" stroke="#8e5aa8" stroke-width="0.8"/>
<circle cx="299.75" cy="317.25" r="2.2" fill="#7b3f9c"/>
<text x="305.6" y="319.25" font-size="5.5" text-anchor="start" fill="#2a2a2a" stroke="#2a2a2a" stroke-width="0.06">omPD1-IL15m 1 mg/kg</text>
<line x1="295.55" y1="323.4" x2="303.95" y2="323.4" stroke="#f0a060" stroke-width="0.8"/>
<circle cx="299.75" cy="323.4" r="2.2" fill="#ec8a3a"/>
<text x="305.6" y="325.4" font-size="5.5" text-anchor="start" fill="#2a2a2a" stroke="#2a2a2a" stroke-width="0.06">omPD1-IL15m 5 mg/kg</text>
<line x1="301.5" y1="350.1" x2="301.5" y2="360.1" stroke="#f3b787" stroke-width="0.55"/>
<line x1="299.9" y1="350.1" x2="303.1" y2="350.1" stroke="#f3b787" stroke-width="0.55"/>
<line x1="299.9" y1="360.1" x2="303.1" y2="360.1" stroke="#f3b787" stroke-width="0.55"/>
<line x1="315.35" y1="339.5" x2="315.35" y2="349.5" stroke="#f3b787" stroke-width="0.55"/>
<line x1="313.75" y1="339.5" x2="316.95" y2="339.5" stroke="#f3b787" stroke-width="0.55"/>
<line x1="313.75" y1="349.5" x2="316.95" y2="349.5" stroke="#f3b787" stroke-width="0.55"/>
<line x1="329.2" y1="378.6" x2="329.2" y2="386.6" stroke="#f3b787" stroke-width="0.55"/>
<line x1="327.6" y1="378.6" x2="330.8" y2="378.6" stroke="#f3b787" stroke-width="0.55"/>
<line x1="327.6" y1="386.6" x2="330.8" y2="386.6" stroke="#f3b787" stroke-width="0.55"/>
<line x1="343.05" y1="357" x2="343.05" y2="365" stroke="#f3b787" stroke-width="0.55"/>
<line x1="341.45" y1="357" x2="344.65" y2="357" stroke="#f3b787" stroke-width="0.55"/>
<line x1="341.45" y1="365" x2="344.65" y2="365" stroke="#f3b787" stroke-width="0.55"/>
<line x1="356.9" y1="337" x2="356.9" y2="345" stroke="#f3b787" stroke-width="0.55"/>
<line x1="355.3" y1="337" x2="358.5" y2="337" stroke="#f3b787" stroke-width="0.55"/>
<line x1="355.3" y1="345" x2="358.5" y2="345" stroke="#f3b787" stroke-width="0.55"/>
<line x1="370.75" y1="340.5" x2="370.75" y2="348.5" stroke="#f3b787" stroke-width="0.55"/>
<line x1="369.15" y1="340.5" x2="372.35" y2="340.5" stroke="#f3b787" stroke-width="0.55"/>
<line x1="369.15" y1="348.5" x2="372.35" y2="348.5" stroke="#f3b787" stroke-width="0.55"/>
<polyline points="301.5,355.1 315.35,344.5 329.2,382.6 343.05,361 356.9,341 370.75,344.5" fill="none" stroke="#f0a060" stroke-width="0.65"/>
<circle cx="301.5" cy="355.1" r="2.1" fill="#ec8a3a"/>
<circle cx="315.35" cy="344.5" r="2.1" fill="#ec8a3a"/>
<circle cx="329.2" cy="382.6" r="2.1" fill="#ec8a3a"/>
<circle cx="343.05" cy="361" r="2.1" fill="#ec8a3a"/>
<circle cx="356.9" cy="341" r="2.1" fill="#ec8a3a"/>
<circle cx="370.75" cy="344.5" r="2.1" fill="#ec8a3a"/>
<line x1="301.5" y1="350.1" x2="301.5" y2="360.1" stroke="#aa83bd" stroke-width="0.55"/>
<line x1="299.9" y1="350.1" x2="303.1" y2="350.1" stroke="#aa83bd" stroke-width="0.55"/>
<line x1="299.9" y1="360.1" x2="303.1" y2="360.1" stroke="#aa83bd" stroke-width="0.55"/>
<line x1="315.35" y1="338.7" x2="315.35" y2="346.7" stroke="#aa83bd" stroke-width="0.55"/>
<line x1="313.75" y1="338.7" x2="316.95" y2="338.7" stroke="#aa83bd" stroke-width="0.55"/>
<line x1="313.75" y1="346.7" x2="316.95" y2="346.7" stroke="#aa83bd" stroke-width="0.55"/>
<line x1="329.2" y1="343.7" x2="329.2" y2="350.7" stroke="#aa83bd" stroke-width="0.55"/>
<line x1="327.6" y1="343.7" x2="330.8" y2="343.7" stroke="#aa83bd" stroke-width="0.55"/>
<line x1="327.6" y1="350.7" x2="330.8" y2="350.7" stroke="#aa83bd" stroke-width="0.55"/>
<line x1="343.05" y1="333.8" x2="343.05" y2="341.8" stroke="#aa83bd" stroke-width="0.55"/>
<line x1="341.45" y1="333.8" x2="344.65" y2="333.8" stroke="#aa83bd" stroke-width="0.55"/>
<line x1="341.45" y1="341.8" x2="344.65" y2="341.8" stroke="#aa83bd" stroke-width="0.55"/>
<line x1="356.9" y1="332.5" x2="356.9" y2="340.5" stroke="#aa83bd" stroke-width="0.55"/>
<line x1="355.3" y1="332.5" x2="358.5" y2="332.5" stroke="#aa83bd" stroke-width="0.55"/>
<line x1="355.3" y1="340.5" x2="358.5" y2="340.5" stroke="#aa83bd" stroke-width="0.55"/>
<line x1="370.75" y1="336.4" x2="370.75" y2="344.4" stroke="#aa83bd" stroke-width="0.55"/>
<line x1="369.15" y1="336.4" x2="372.35" y2="336.4" stroke="#aa83bd" stroke-width="0.55"/>
<line x1="369.15" y1="344.4" x2="372.35" y2="344.4" stroke="#aa83bd" stroke-width="0.55"/>
<polyline points="301.5,355.1 315.35,342.7 329.2,347.2 343.05,337.8 356.9,336.5 370.75,340.4" fill="none" stroke="#8e5aa8" stroke-width="0.65"/>
<circle cx="301.5" cy="355.1" r="2.1" fill="#7b3f9c"/>
<circle cx="315.35" cy="342.7" r="2.1" fill="#7b3f9c"/>
<circle cx="329.2" cy="347.2" r="2.1" fill="#7b3f9c"/>
<circle cx="343.05" cy="337.8" r="2.1" fill="#7b3f9c"/>
<circle cx="356.9" cy="336.5" r="2.1" fill="#7b3f9c"/>
<circle cx="370.75" cy="340.4" r="2.1" fill="#7b3f9c"/>
<line x1="301.5" y1="350.1" x2="301.5" y2="360.1" stroke="#78c98f" stroke-width="0.55"/>
<line x1="299.9" y1="350.1" x2="303.1" y2="350.1" stroke="#78c98f" stroke-width="0.55"/>
<line x1="299.9" y1="360.1" x2="303.1" y2="360.1" stroke="#78c98f" stroke-width="0.55"/>
<line x1="315.35" y1="342.2" x2="315.35" y2="352.2" stroke="#78c98f" stroke-width="0.55"/>
<line x1="313.75" y1="342.2" x2="316.95" y2="342.2" stroke="#78c98f" stroke-width="0.55"/>
<line x1="313.75" y1="352.2" x2="316.95" y2="352.2" stroke="#78c98f" stroke-width="0.55"/>
<line x1="329.2" y1="339.8" x2="329.2" y2="347.8" stroke="#78c98f" stroke-width="0.55"/>
<line x1="327.6" y1="339.8" x2="330.8" y2="339.8" stroke="#78c98f" stroke-width="0.55"/>
<line x1="327.6" y1="347.8" x2="330.8" y2="347.8" stroke="#78c98f" stroke-width="0.55"/>
<line x1="343.05" y1="340" x2="343.05" y2="348" stroke="#78c98f" stroke-width="0.55"/>
<line x1="341.45" y1="340" x2="344.65" y2="340" stroke="#78c98f" stroke-width="0.55"/>
<line x1="341.45" y1="348" x2="344.65" y2="348" stroke="#78c98f" stroke-width="0.55"/>
<line x1="356.9" y1="332.2" x2="356.9" y2="340.2" stroke="#78c98f" stroke-width="0.55"/>
<line x1="355.3" y1="332.2" x2="358.5" y2="332.2" stroke="#78c98f" stroke-width="0.55"/>
<line x1="355.3" y1="340.2" x2="358.5" y2="340.2" stroke="#78c98f" stroke-width="0.55"/>
<line x1="370.75" y1="334" x2="370.75" y2="342" stroke="#78c98f" stroke-width="0.55"/>
<line x1="369.15" y1="334" x2="372.35" y2="334" stroke="#78c98f" stroke-width="0.55"/>
<line x1="369.15" y1="342" x2="372.35" y2="342" stroke="#78c98f" stroke-width="0.55"/>
<polyline points="301.5,355.1 315.35,347.2 329.2,343.8 343.05,344 356.9,336.2 370.75,338" fill="none" stroke="#4cb86a" stroke-width="0.65"/>
<circle cx="301.5" cy="355.1" r="2.1" fill="#2ea44f"/>
<circle cx="315.35" cy="347.2" r="2.1" fill="#2ea44f"/>
<circle cx="329.2" cy="343.8" r="2.1" fill="#2ea44f"/>
<circle cx="343.05" cy="344" r="2.1" fill="#2ea44f"/>
<circle cx="356.9" cy="336.2" r="2.1" fill="#2ea44f"/>
<circle cx="370.75" cy="338" r="2.1" fill="#2ea44f"/>
<line x1="301.5" y1="350.1" x2="301.5" y2="360.1" stroke="#e27578" stroke-width="0.55"/>
<line x1="299.9" y1="350.1" x2="303.1" y2="350.1" stroke="#e27578" stroke-width="0.55"/>
<line x1="299.9" y1="360.1" x2="303.1" y2="360.1" stroke="#e27578" stroke-width="0.55"/>
<line x1="315.35" y1="337.9" x2="315.35" y2="345.9" stroke="#e27578" stroke-width="0.55"/>
<line x1="313.75" y1="337.9" x2="316.95" y2="337.9" stroke="#e27578" stroke-width="0.55"/>
<line x1="313.75" y1="345.9" x2="316.95" y2="345.9" stroke="#e27578" stroke-width="0.55"/>
<line x1="329.2" y1="330.3" x2="329.2" y2="340.3" stroke="#e27578" stroke-width="0.55"/>
<line x1="327.6" y1="330.3" x2="330.8" y2="330.3" stroke="#e27578" stroke-width="0.55"/>
<line x1="327.6" y1="340.3" x2="330.8" y2="340.3" stroke="#e27578" stroke-width="0.55"/>
<line x1="343.05" y1="333.4" x2="343.05" y2="341.4" stroke="#e27578" stroke-width="0.55"/>
<line x1="341.45" y1="333.4" x2="344.65" y2="333.4" stroke="#e27578" stroke-width="0.55"/>
<line x1="341.45" y1="341.4" x2="344.65" y2="341.4" stroke="#e27578" stroke-width="0.55"/>
<line x1="356.9" y1="332.9" x2="356.9" y2="340.9" stroke="#e27578" stroke-width="0.55"/>
<line x1="355.3" y1="332.9" x2="358.5" y2="332.9" stroke="#e27578" stroke-width="0.55"/>
<line x1="355.3" y1="340.9" x2="358.5" y2="340.9" stroke="#e27578" stroke-width="0.55"/>
<line x1="370.75" y1="325.1" x2="370.75" y2="339.1" stroke="#e27578" stroke-width="0.55"/>
<line x1="369.15" y1="325.1" x2="372.35" y2="325.1" stroke="#e27578" stroke-width="0.55"/>
<line x1="369.15" y1="339.1" x2="372.35" y2="339.1" stroke="#e27578" stroke-width="0.55"/>
<polyline points="301.5,355.1 315.35,341.9 329.2,335.3 343.05,337.4 356.9,336.9 370.75,332.1" fill="none" stroke="#d9474c" stroke-width="0.65"/>
<circle cx="301.5" cy="355.1" r="2.1" fill="#d2232a"/>
<circle cx="315.35" cy="341.9" r="2.1" fill="#d2232a"/>
<circle cx="329.2" cy="335.3" r="2.1" fill="#d2232a"/>
<circle cx="343.05" cy="337.4" r="2.1" fill="#d2232a"/>
<circle cx="356.9" cy="336.9" r="2.1" fill="#d2232a"/>
<circle cx="370.75" cy="332.1" r="2.1" fill="#d2232a"/>
<line x1="301.5" y1="350.1" x2="301.5" y2="360.1" stroke="#8393c2" stroke-width="0.55"/>
<line x1="299.9" y1="350.1" x2="303.1" y2="350.1" stroke="#8393c2" stroke-width="0.55"/>
<line x1="299.9" y1="360.1" x2="303.1" y2="360.1" stroke="#8393c2" stroke-width="0.55"/>
<line x1="315.35" y1="339.3" x2="315.35" y2="347.3" stroke="#8393c2" stroke-width="0.55"/>
<line x1="313.75" y1="339.3" x2="316.95" y2="339.3" stroke="#8393c2" stroke-width="0.55"/>
<line x1="313.75" y1="347.3" x2="316.95" y2="347.3" stroke="#8393c2" stroke-width="0.55"/>
<line x1="329.2" y1="337.5" x2="329.2" y2="345.5" stroke="#8393c2" stroke-width="0.55"/>
<line x1="327.6" y1="337.5" x2="330.8" y2="337.5" stroke="#8393c2" stroke-width="0.55"/>
<line x1="327.6" y1="345.5" x2="330.8" y2="345.5" stroke="#8393c2" stroke-width="0.55"/>
<line x1="343.05" y1="334.8" x2="343.05" y2="342.8" stroke="#8393c2" stroke-width="0.55"/>
<line x1="341.45" y1="334.8" x2="344.65" y2="334.8" stroke="#8393c2" stroke-width="0.55"/>
<line x1="341.45" y1="342.8" x2="344.65" y2="342.8" stroke="#8393c2" stroke-width="0.55"/>
<line x1="356.9" y1="330.7" x2="356.9" y2="340.7" stroke="#8393c2" stroke-width="0.55"/>
<line x1="355.3" y1="330.7" x2="358.5" y2="330.7" stroke="#8393c2" stroke-width="0.55"/>
<line x1="355.3" y1="340.7" x2="358.5" y2="340.7" stroke="#8393c2" stroke-width="0.55"/>
<line x1="370.75" y1="318.7" x2="370.75" y2="336.7" stroke="#8393c2" stroke-width="0.55"/>
<line x1="369.15" y1="318.7" x2="372.35" y2="318.7" stroke="#8393c2" stroke-width="0.55"/>
<line x1="369.15" y1="336.7" x2="372.35" y2="336.7" stroke="#8393c2" stroke-width="0.55"/>
<polyline points="301.5,355.1 315.35,343.3 329.2,341.5 343.05,338.8 356.9,335.7 370.75,327.7" fill="none" stroke="#5a6fae" stroke-width="0.65"/>
<circle cx="301.5" cy="355.1" r="2.1" fill="#2f4b94"/>
<circle cx="315.35" cy="343.3" r="2.1" fill="#2f4b94"/>
<circle cx="329.2" cy="341.5" r="2.1" fill="#2f4b94"/>
<circle cx="343.05" cy="338.8" r="2.1" fill="#2f4b94"/>
<circle cx="356.9" cy="335.7" r="2.1" fill="#2f4b94"/>
<circle cx="370.75" cy="327.7" r="2.1" fill="#2f4b94"/>
<text x="330.05" y="393.66" font-size="6" text-anchor="middle" fill="#c08a5a" stroke="#c08a5a" stroke-width="0.25" letter-spacing="0.9">***</text>
<text x="343.65" y="372.96" font-size="6" text-anchor="middle" fill="#c08a5a" stroke="#c08a5a" stroke-width="0.25" letter-spacing="0.9">**</text>
<text x="395.8" y="292.9" font-size="12.2" text-anchor="start" font-weight="bold" fill="#000" stroke="#000" stroke-width="0.3">L</text>
<text x="466.7" y="292" font-size="7.2" text-anchor="middle" font-weight="bold" fill="#1a1a1a" stroke="#1a1a1a" stroke-width="0.3">MC38</text>
<line x1="421.25" y1="310.1" x2="421.25" y2="397.5" stroke="#6e6e6e" stroke-width="0.9"/>
<line x1="418.05" y1="397.85" x2="421.25" y2="397.85" stroke="#6e6e6e" stroke-width="0.9"/>
<text x="417.35" y="400.77" font-size="7" text-anchor="end" fill="#1a1a1a" stroke="#1a1a1a" stroke-width="0.25">80</text>
<line x1="418.05" y1="376.05" x2="421.25" y2="376.05" stroke="#6e6e6e" stroke-width="0.9"/>
<text x="417.35" y="378.97" font-size="7" text-anchor="end" fill="#1a1a1a" stroke="#1a1a1a" stroke-width="0.25">90</text>
<line x1="418.05" y1="354.25" x2="421.25" y2="354.25" stroke="#6e6e6e" stroke-width="0.9"/>
<text x="417.35" y="357.17" font-size="7" text-anchor="end" fill="#1a1a1a" stroke="#1a1a1a" stroke-width="0.25">100</text>
<line x1="418.05" y1="332.45" x2="421.25" y2="332.45" stroke="#6e6e6e" stroke-width="0.9"/>
<text x="417.35" y="335.37" font-size="7" text-anchor="end" fill="#1a1a1a" stroke="#1a1a1a" stroke-width="0.25">110</text>
<line x1="418.05" y1="310.65" x2="421.25" y2="310.65" stroke="#6e6e6e" stroke-width="0.9"/>
<text x="417.35" y="313.57" font-size="7" text-anchor="end" fill="#1a1a1a" stroke="#1a1a1a" stroke-width="0.25">120</text>
<line x1="421.25" y1="397.5" x2="510" y2="397.5" stroke="#6e6e6e" stroke-width="0.9"/>
<line x1="447" y1="397.5" x2="447" y2="401.1" stroke="#6e6e6e" stroke-width="0.9"/>
<text x="447" y="407.1" font-size="7" text-anchor="middle" fill="#1a1a1a" stroke="#1a1a1a" stroke-width="0.25">5</text>
<line x1="472" y1="397.5" x2="472" y2="401.1" stroke="#6e6e6e" stroke-width="0.9"/>
<text x="472" y="407.1" font-size="7" text-anchor="middle" fill="#1a1a1a" stroke="#1a1a1a" stroke-width="0.25">15</text>
<line x1="497" y1="397.5" x2="497" y2="401.1" stroke="#6e6e6e" stroke-width="0.9"/>
<text x="497" y="407.1" font-size="7" text-anchor="middle" fill="#1a1a1a" stroke="#1a1a1a" stroke-width="0.25">25</text>
<text x="400.2" y="352.5" font-size="7.2" text-anchor="middle" fill="#1a1a1a" stroke="#1a1a1a" stroke-width="0.25" transform="rotate(-90 400.2 352.5)">Body weight (%)</text>
<line x1="425.2" y1="298.1" x2="433.6" y2="298.1" stroke="#5a6fae" stroke-width="0.8"/>
<circle cx="429.4" cy="298.1" r="2.2" fill="#2f4b94"/>
<text x="435" y="300.1" font-size="5.5" text-anchor="start" fill="#2a2a2a" stroke="#2a2a2a" stroke-width="0.06">PBS</text>
<line x1="425.2" y1="304.75" x2="433.6" y2="304.75" stroke="#d9474c" stroke-width="0.8"/>
<circle cx="429.4" cy="304.75" r="2.2" fill="#d2232a"/>
<text x="435" y="306.75" font-size="5.5" text-anchor="start" fill="#2a2a2a" stroke="#2a2a2a" stroke-width="0.06">omPD1-IL15m 0.1 mg/kg</text>
<line x1="425.2" y1="311" x2="433.6" y2="311" stroke="#4cb86a" stroke-width="0.8"/>
<circle cx="429.4" cy="311" r="2.2" fill="#2ea44f"/>
<text x="435" y="313" font-size="5.5" text-anchor="start" fill="#2a2a2a" stroke="#2a2a2a" stroke-width="0.06">omPD1-IL15m 0.3 mg/kg</text>
<line x1="425.2" y1="317.25" x2="433.6" y2="317.25" stroke="#8e5aa8" stroke-width="0.8"/>
<circle cx="429.4" cy="317.25" r="2.2" fill="#7b3f9c"/>
<text x="435" y="319.25" font-size="5.5" text-anchor="start" fill="#2a2a2a" stroke="#2a2a2a" stroke-width="0.06">omPD1-IL15m 1 mg/kg</text>
<line x1="425.2" y1="323.4" x2="433.6" y2="323.4" stroke="#f0a060" stroke-width="0.8"/>
<circle cx="429.4" cy="323.4" r="2.2" fill="#ec8a3a"/>
<text x="435" y="325.4" font-size="5.5" text-anchor="start" fill="#2a2a2a" stroke="#2a2a2a" stroke-width="0.06">omPD1-IL15m 5 mg/kg</text>
<line x1="434.5" y1="349.2" x2="434.5" y2="359.2" stroke="#f3b787" stroke-width="0.55"/>
<line x1="432.9" y1="349.2" x2="436.1" y2="349.2" stroke="#f3b787" stroke-width="0.55"/>
<line x1="432.9" y1="359.2" x2="436.1" y2="359.2" stroke="#f3b787" stroke-width="0.55"/>
<line x1="442" y1="347.5" x2="442" y2="357.5" stroke="#f3b787" stroke-width="0.55"/>
<line x1="440.4" y1="347.5" x2="443.6" y2="347.5" stroke="#f3b787" stroke-width="0.55"/>
<line x1="440.4" y1="357.5" x2="443.6" y2="357.5" stroke="#f3b787" stroke-width="0.55"/>
<line x1="452" y1="378.6" x2="452" y2="386.6" stroke="#f3b787" stroke-width="0.55"/>
<line x1="450.4" y1="378.6" x2="453.6" y2="378.6" stroke="#f3b787" stroke-width="0.55"/>
<line x1="450.4" y1="386.6" x2="453.6" y2="386.6" stroke="#f3b787" stroke-width="0.55"/>
<line x1="459.5" y1="351.4" x2="459.5" y2="361.4" stroke="#f3b787" stroke-width="0.55"/>
<line x1="457.9" y1="351.4" x2="461.1" y2="351.4" stroke="#f3b787" stroke-width="0.55"/>
<line x1="457.9" y1="361.4" x2="461.1" y2="361.4" stroke="#f3b787" stroke-width="0.55"/>
<line x1="469.5" y1="340.4" x2="469.5" y2="350.4" stroke="#f3b787" stroke-width="0.55"/>
<line x1="467.9" y1="340.4" x2="471.1" y2="340.4" stroke="#f3b787" stroke-width="0.55"/>
<line x1="467.9" y1="350.4" x2="471.1" y2="350.4" stroke="#f3b787" stroke-width="0.55"/>
<line x1="477" y1="342.2" x2="477" y2="352.2" stroke="#f3b787" stroke-width="0.55"/>
<line x1="475.4" y1="342.2" x2="478.6" y2="342.2" stroke="#f3b787" stroke-width="0.55"/>
<line x1="475.4" y1="352.2" x2="478.6" y2="352.2" stroke="#f3b787" stroke-width="0.55"/>
<line x1="487" y1="343" x2="487" y2="355" stroke="#f3b787" stroke-width="0.55"/>
<line x1="485.4" y1="343" x2="488.6" y2="343" stroke="#f3b787" stroke-width="0.55"/>
<line x1="485.4" y1="355" x2="488.6" y2="355" stroke="#f3b787" stroke-width="0.55"/>
<line x1="494.5" y1="334" x2="494.5" y2="346" stroke="#f3b787" stroke-width="0.55"/>
<line x1="492.9" y1="334" x2="496.1" y2="334" stroke="#f3b787" stroke-width="0.55"/>
<line x1="492.9" y1="346" x2="496.1" y2="346" stroke="#f3b787" stroke-width="0.55"/>
<polyline points="434.5,354.2 442,352.5 452,382.6 459.5,356.4 469.5,345.4 477,347.2 487,349 494.5,340" fill="none" stroke="#f0a060" stroke-width="0.65"/>
<circle cx="434.5" cy="354.2" r="2.1" fill="#ec8a3a"/>
<circle cx="442" cy="352.5" r="2.1" fill="#ec8a3a"/>
<circle cx="452" cy="382.6" r="2.1" fill="#ec8a3a"/>
<circle cx="459.5" cy="356.4" r="2.1" fill="#ec8a3a"/>
<circle cx="469.5" cy="345.4" r="2.1" fill="#ec8a3a"/>
<circle cx="477" cy="347.2" r="2.1" fill="#ec8a3a"/>
<circle cx="487" cy="349" r="2.1" fill="#ec8a3a"/>
<circle cx="494.5" cy="340" r="2.1" fill="#ec8a3a"/>
<line x1="434.5" y1="349.2" x2="434.5" y2="359.2" stroke="#aa83bd" stroke-width="0.55"/>
<line x1="432.9" y1="349.2" x2="436.1" y2="349.2" stroke="#aa83bd" stroke-width="0.55"/>
<line x1="432.9" y1="359.2" x2="436.1" y2="359.2" stroke="#aa83bd" stroke-width="0.55"/>
<line x1="442" y1="347.5" x2="442" y2="357.5" stroke="#aa83bd" stroke-width="0.55"/>
<line x1="440.4" y1="347.5" x2="443.6" y2="347.5" stroke="#aa83bd" stroke-width="0.55"/>
<line x1="440.4" y1="357.5" x2="443.6" y2="357.5" stroke="#aa83bd" stroke-width="0.55"/>
<line x1="452" y1="334" x2="452" y2="344" stroke="#aa83bd" stroke-width="0.55"/>
<line x1="450.4" y1="334" x2="453.6" y2="334" stroke="#aa83bd" stroke-width="0.55"/>
<line x1="450.4" y1="344" x2="453.6" y2="344" stroke="#aa83bd" stroke-width="0.55"/>
<line x1="459.5" y1="339" x2="459.5" y2="349" stroke="#aa83bd" stroke-width="0.55"/>
<line x1="457.9" y1="339" x2="461.1" y2="339" stroke="#aa83bd" stroke-width="0.55"/>
<line x1="457.9" y1="349" x2="461.1" y2="349" stroke="#aa83bd" stroke-width="0.55"/>
<line x1="469.5" y1="336.5" x2="469.5" y2="346.5" stroke="#aa83bd" stroke-width="0.55"/>
<line x1="467.9" y1="336.5" x2="471.1" y2="336.5" stroke="#aa83bd" stroke-width="0.55"/>
<line x1="467.9" y1="346.5" x2="471.1" y2="346.5" stroke="#aa83bd" stroke-width="0.55"/>
<line x1="477" y1="337.7" x2="477" y2="347.7" stroke="#aa83bd" stroke-width="0.55"/>
<line x1="475.4" y1="337.7" x2="478.6" y2="337.7" stroke="#aa83bd" stroke-width="0.55"/>
<line x1="475.4" y1="347.7" x2="478.6" y2="347.7" stroke="#aa83bd" stroke-width="0.55"/>
<line x1="487" y1="331.5" x2="487" y2="341.5" stroke="#aa83bd" stroke-width="0.55"/>
<line x1="485.4" y1="331.5" x2="488.6" y2="331.5" stroke="#aa83bd" stroke-width="0.55"/>
<line x1="485.4" y1="341.5" x2="488.6" y2="341.5" stroke="#aa83bd" stroke-width="0.55"/>
<line x1="494.5" y1="333.3" x2="494.5" y2="343.3" stroke="#aa83bd" stroke-width="0.55"/>
<line x1="492.9" y1="333.3" x2="496.1" y2="333.3" stroke="#aa83bd" stroke-width="0.55"/>
<line x1="492.9" y1="343.3" x2="496.1" y2="343.3" stroke="#aa83bd" stroke-width="0.55"/>
<polyline points="434.5,354.2 442,352.5 452,339 459.5,344 469.5,341.5 477,342.7 487,336.5 494.5,338.3" fill="none" stroke="#8e5aa8" stroke-width="0.65"/>
<circle cx="434.5" cy="354.2" r="2.1" fill="#7b3f9c"/>
<circle cx="442" cy="352.5" r="2.1" fill="#7b3f9c"/>
<circle cx="452" cy="339" r="2.1" fill="#7b3f9c"/>
<circle cx="459.5" cy="344" r="2.1" fill="#7b3f9c"/>
<circle cx="469.5" cy="341.5" r="2.1" fill="#7b3f9c"/>
<circle cx="477" cy="342.7" r="2.1" fill="#7b3f9c"/>
<circle cx="487" cy="336.5" r="2.1" fill="#7b3f9c"/>
<circle cx="494.5" cy="338.3" r="2.1" fill="#7b3f9c"/>
<line x1="434.5" y1="349.2" x2="434.5" y2="359.2" stroke="#78c98f" stroke-width="0.55"/>
<line x1="432.9" y1="349.2" x2="436.1" y2="349.2" stroke="#78c98f" stroke-width="0.55"/>
<line x1="432.9" y1="359.2" x2="436.1" y2="359.2" stroke="#78c98f" stroke-width="0.55"/>
<line x1="442" y1="347.5" x2="442" y2="357.5" stroke="#78c98f" stroke-width="0.55"/>
<line x1="440.4" y1="347.5" x2="443.6" y2="347.5" stroke="#78c98f" stroke-width="0.55"/>
<line x1="440.4" y1="357.5" x2="443.6" y2="357.5" stroke="#78c98f" stroke-width="0.55"/>
<line x1="452" y1="333.3" x2="452" y2="343.3" stroke="#78c98f" stroke-width="0.55"/>
<line x1="450.4" y1="333.3" x2="453.6" y2="333.3" stroke="#78c98f" stroke-width="0.55"/>
<line x1="450.4" y1="343.3" x2="453.6" y2="343.3" stroke="#78c98f" stroke-width="0.55"/>
<line x1="459.5" y1="333.3" x2="459.5" y2="343.3" stroke="#78c98f" stroke-width="0.55"/>
<line x1="457.9" y1="333.3" x2="461.1" y2="333.3" stroke="#78c98f" stroke-width="0.55"/>
<line x1="457.9" y1="343.3" x2="461.1" y2="343.3" stroke="#78c98f" stroke-width="0.55"/>
<line x1="469.5" y1="333" x2="469.5" y2="343" stroke="#78c98f" stroke-width="0.55"/>
<line x1="467.9" y1="333" x2="471.1" y2="333" stroke="#78c98f" stroke-width="0.55"/>
<line x1="467.9" y1="343" x2="471.1" y2="343" stroke="#78c98f" stroke-width="0.55"/>
<line x1="477" y1="332.4" x2="477" y2="342.4" stroke="#78c98f" stroke-width="0.55"/>
<line x1="475.4" y1="332.4" x2="478.6" y2="332.4" stroke="#78c98f" stroke-width="0.55"/>
<line x1="475.4" y1="342.4" x2="478.6" y2="342.4" stroke="#78c98f" stroke-width="0.55"/>
<line x1="487" y1="342.2" x2="487" y2="352.2" stroke="#78c98f" stroke-width="0.55"/>
<line x1="485.4" y1="342.2" x2="488.6" y2="342.2" stroke="#78c98f" stroke-width="0.55"/>
<line x1="485.4" y1="352.2" x2="488.6" y2="352.2" stroke="#78c98f" stroke-width="0.55"/>
<line x1="494.5" y1="335.1" x2="494.5" y2="345.1" stroke="#78c98f" stroke-width="0.55"/>
<line x1="492.9" y1="335.1" x2="496.1" y2="335.1" stroke="#78c98f" stroke-width="0.55"/>
<line x1="492.9" y1="345.1" x2="496.1" y2="345.1" stroke="#78c98f" stroke-width="0.55"/>
<polyline points="434.5,354.2 442,352.5 452,338.3 459.5,338.3 469.5,338 477,337.4 487,347.2 494.5,340.1" fill="none" stroke="#4cb86a" stroke-width="0.65"/>
<circle cx="434.5" cy="354.2" r="2.1" fill="#2ea44f"/>
<circle cx="442" cy="352.5" r="2.1" fill="#2ea44f"/>
<circle cx="452" cy="338.3" r="2.1" fill="#2ea44f"/>
<circle cx="459.5" cy="338.3" r="2.1" fill="#2ea44f"/>
<circle cx="469.5" cy="338" r="2.1" fill="#2ea44f"/>
<circle cx="477" cy="337.4" r="2.1" fill="#2ea44f"/>
<circle cx="487" cy="347.2" r="2.1" fill="#2ea44f"/>
<circle cx="494.5" cy="340.1" r="2.1" fill="#2ea44f"/>
<line x1="434.5" y1="349.2" x2="434.5" y2="359.2" stroke="#e27578" stroke-width="0.55"/>
<line x1="432.9" y1="349.2" x2="436.1" y2="349.2" stroke="#e27578" stroke-width="0.55"/>
<line x1="432.9" y1="359.2" x2="436.1" y2="359.2" stroke="#e27578" stroke-width="0.55"/>
<line x1="442" y1="347.5" x2="442" y2="357.5" stroke="#e27578" stroke-width="0.55"/>
<line x1="440.4" y1="347.5" x2="443.6" y2="347.5" stroke="#e27578" stroke-width="0.55"/>
<line x1="440.4" y1="357.5" x2="443.6" y2="357.5" stroke="#e27578" stroke-width="0.55"/>
<line x1="452" y1="339" x2="452" y2="349" stroke="#e27578" stroke-width="0.55"/>
<line x1="450.4" y1="339" x2="453.6" y2="339" stroke="#e27578" stroke-width="0.55"/>
<line x1="450.4" y1="349" x2="453.6" y2="349" stroke="#e27578" stroke-width="0.55"/>
<line x1="459.5" y1="338.6" x2="459.5" y2="348.6" stroke="#e27578" stroke-width="0.55"/>
<line x1="457.9" y1="338.6" x2="461.1" y2="338.6" stroke="#e27578" stroke-width="0.55"/>
<line x1="457.9" y1="348.6" x2="461.1" y2="348.6" stroke="#e27578" stroke-width="0.55"/>
<line x1="469.5" y1="336.5" x2="469.5" y2="346.5" stroke="#e27578" stroke-width="0.55"/>
<line x1="467.9" y1="336.5" x2="471.1" y2="336.5" stroke="#e27578" stroke-width="0.55"/>
<line x1="467.9" y1="346.5" x2="471.1" y2="346.5" stroke="#e27578" stroke-width="0.55"/>
<line x1="477" y1="339.5" x2="477" y2="349.5" stroke="#e27578" stroke-width="0.55"/>
<line x1="475.4" y1="339.5" x2="478.6" y2="339.5" stroke="#e27578" stroke-width="0.55"/>
<line x1="475.4" y1="349.5" x2="478.6" y2="349.5" stroke="#e27578" stroke-width="0.55"/>
<line x1="487" y1="338.7" x2="487" y2="362.7" stroke="#e27578" stroke-width="0.55"/>
<line x1="485.4" y1="338.7" x2="488.6" y2="338.7" stroke="#e27578" stroke-width="0.55"/>
<line x1="485.4" y1="362.7" x2="488.6" y2="362.7" stroke="#e27578" stroke-width="0.55"/>
<line x1="494.5" y1="325" x2="494.5" y2="341" stroke="#e27578" stroke-width="0.55"/>
<line x1="492.9" y1="325" x2="496.1" y2="325" stroke="#e27578" stroke-width="0.55"/>
<line x1="492.9" y1="341" x2="496.1" y2="341" stroke="#e27578" stroke-width="0.55"/>
<polyline points="434.5,354.2 442,352.5 452,344 459.5,343.6 469.5,341.5 477,344.5 487,350.7 494.5,333" fill="none" stroke="#d9474c" stroke-width="0.65"/>
<circle cx="434.5" cy="354.2" r="2.1" fill="#d2232a"/>
<circle cx="442" cy="352.5" r="2.1" fill="#d2232a"/>
<circle cx="452" cy="344" r="2.1" fill="#d2232a"/>
<circle cx="459.5" cy="343.6" r="2.1" fill="#d2232a"/>
<circle cx="469.5" cy="341.5" r="2.1" fill="#d2232a"/>
<circle cx="477" cy="344.5" r="2.1" fill="#d2232a"/>
<circle cx="487" cy="350.7" r="2.1" fill="#d2232a"/>
<circle cx="494.5" cy="333" r="2.1" fill="#d2232a"/>
<line x1="434.5" y1="349.2" x2="434.5" y2="359.2" stroke="#8393c2" stroke-width="0.55"/>
<line x1="432.9" y1="349.2" x2="436.1" y2="349.2" stroke="#8393c2" stroke-width="0.55"/>
<line x1="432.9" y1="359.2" x2="436.1" y2="359.2" stroke="#8393c2" stroke-width="0.55"/>
<line x1="442" y1="347.8" x2="442" y2="357.8" stroke="#8393c2" stroke-width="0.55"/>
<line x1="440.4" y1="347.8" x2="443.6" y2="347.8" stroke="#8393c2" stroke-width="0.55"/>
<line x1="440.4" y1="357.8" x2="443.6" y2="357.8" stroke="#8393c2" stroke-width="0.55"/>
<line x1="452" y1="346.1" x2="452" y2="356.1" stroke="#8393c2" stroke-width="0.55"/>
<line x1="450.4" y1="346.1" x2="453.6" y2="346.1" stroke="#8393c2" stroke-width="0.55"/>
<line x1="450.4" y1="356.1" x2="453.6" y2="356.1" stroke="#8393c2" stroke-width="0.55"/>
<line x1="459.5" y1="336.9" x2="459.5" y2="346.9" stroke="#8393c2" stroke-width="0.55"/>
<line x1="457.9" y1="336.9" x2="461.1" y2="336.9" stroke="#8393c2" stroke-width="0.55"/>
<line x1="457.9" y1="346.9" x2="461.1" y2="346.9" stroke="#8393c2" stroke-width="0.55"/>
<line x1="469.5" y1="332.8" x2="469.5" y2="342.8" stroke="#8393c2" stroke-width="0.55"/>
<line x1="467.9" y1="332.8" x2="471.1" y2="332.8" stroke="#8393c2" stroke-width="0.55"/>
<line x1="467.9" y1="342.8" x2="471.1" y2="342.8" stroke="#8393c2" stroke-width="0.55"/>
<line x1="477" y1="333.3" x2="477" y2="343.3" stroke="#8393c2" stroke-width="0.55"/>
<line x1="475.4" y1="333.3" x2="478.6" y2="333.3" stroke="#8393c2" stroke-width="0.55"/>
<line x1="475.4" y1="343.3" x2="478.6" y2="343.3" stroke="#8393c2" stroke-width="0.55"/>
<line x1="487" y1="331.9" x2="487" y2="341.9" stroke="#8393c2" stroke-width="0.55"/>
<line x1="485.4" y1="331.9" x2="488.6" y2="331.9" stroke="#8393c2" stroke-width="0.55"/>
<line x1="485.4" y1="341.9" x2="488.6" y2="341.9" stroke="#8393c2" stroke-width="0.55"/>
<line x1="494.5" y1="333.3" x2="494.5" y2="343.3" stroke="#8393c2" stroke-width="0.55"/>
<line x1="492.9" y1="333.3" x2="496.1" y2="333.3" stroke="#8393c2" stroke-width="0.55"/>
<line x1="492.9" y1="343.3" x2="496.1" y2="343.3" stroke="#8393c2" stroke-width="0.55"/>
<polyline points="434.5,354.2 442,352.8 452,351.1 459.5,341.9 469.5,337.8 477,338.3 487,336.9 494.5,338.3" fill="none" stroke="#5a6fae" stroke-width="0.65"/>
<circle cx="434.5" cy="354.2" r="2.1" fill="#2f4b94"/>
<circle cx="442" cy="352.8" r="2.1" fill="#2f4b94"/>
<circle cx="452" cy="351.1" r="2.1" fill="#2f4b94"/>
<circle cx="459.5" cy="341.9" r="2.1" fill="#2f4b94"/>
<circle cx="469.5" cy="337.8" r="2.1" fill="#2f4b94"/>
<circle cx="477" cy="338.3" r="2.1" fill="#2f4b94"/>
<circle cx="487" cy="336.9" r="2.1" fill="#2f4b94"/>
<circle cx="494.5" cy="338.3" r="2.1" fill="#2f4b94"/>
<text x="455.35" y="395.66" font-size="6" text-anchor="middle" fill="#c08a5a" stroke="#c08a5a" stroke-width="0.25" letter-spacing="0.9">***</text>
<text x="72.5" y="417.2" font-size="7.2" text-anchor="middle" fill="#1a1a1a" stroke="#1a1a1a" stroke-width="0.25">Days after injection</text>
<text x="207.1" y="417.2" font-size="7.2" text-anchor="middle" fill="#1a1a1a" stroke="#1a1a1a" stroke-width="0.25">Days after injection</text>
<text x="337.1" y="416.5" font-size="7.2" text-anchor="middle" fill="#1a1a1a" stroke="#1a1a1a" stroke-width="0.25">Days after injection</text>
<text x="468.5" y="416" font-size="7.2" text-anchor="middle" fill="#1a1a1a" stroke="#1a1a1a" stroke-width="0.25">Days after injection</text>
<text x="1.4" y="438.5" font-size="12.2" text-anchor="start" font-weight="bold" fill="#000" stroke="#000" stroke-width="0.3">M</text>
<text x="73.2" y="438.8" font-size="7.2" text-anchor="middle" font-weight="bold" fill="#1a1a1a" stroke="#1a1a1a" stroke-width="0.3">B16-F10</text>
<line x1="28.5" y1="455.3" x2="28.5" y2="543.4" stroke="#6e6e6e" stroke-width="0.9"/>
<line x1="25.3" y1="543.25" x2="28.5" y2="543.25" stroke="#6e6e6e" stroke-width="0.9"/>
<text x="24.6" y="546.17" font-size="7" text-anchor="end" fill="#1a1a1a" stroke="#1a1a1a" stroke-width="0.25">80</text>
<line x1="25.3" y1="521.25" x2="28.5" y2="521.25" stroke="#6e6e6e" stroke-width="0.9"/>
<text x="24.6" y="524.17" font-size="7" text-anchor="end" fill="#1a1a1a" stroke="#1a1a1a" stroke-width="0.25">90</text>
<line x1="25.3" y1="499.25" x2="28.5" y2="499.25" stroke="#6e6e6e" stroke-width="0.9"/>
<text x="24.6" y="502.17" font-size="7" text-anchor="end" fill="#1a1a1a" stroke="#1a1a1a" stroke-width="0.25">100</text>
<line x1="25.3" y1="477.25" x2="28.5" y2="477.25" stroke="#6e6e6e" stroke-width="0.9"/>
<text x="24.6" y="480.17" font-size="7" text-anchor="end" fill="#1a1a1a" stroke="#1a1a1a" stroke-width="0.25">110</text>
<line x1="25.3" y1="455.25" x2="28.5" y2="455.25" stroke="#6e6e6e" stroke-width="0.9"/>
<text x="24.6" y="458.17" font-size="7" text-anchor="end" fill="#1a1a1a" stroke="#1a1a1a" stroke-width="0.25">120</text>
<line x1="28.5" y1="543.4" x2="112" y2="543.4" stroke="#6e6e6e" stroke-width="0.9"/>
<line x1="36.5" y1="543.4" x2="36.5" y2="547" stroke="#6e6e6e" stroke-width="0.9"/>
<text x="36.5" y="554" font-size="7" text-anchor="middle" fill="#1a1a1a" stroke="#1a1a1a" stroke-width="0.25">−3</text>
<line x1="48.48" y1="543.4" x2="48.48" y2="547" stroke="#6e6e6e" stroke-width="0.9"/>
<text x="48.48" y="554" font-size="7" text-anchor="middle" fill="#1a1a1a" stroke="#1a1a1a" stroke-width="0.25">0</text>
<line x1="60.46" y1="543.4" x2="60.46" y2="547" stroke="#6e6e6e" stroke-width="0.9"/>
<text x="60.46" y="554" font-size="7" text-anchor="middle" fill="#1a1a1a" stroke="#1a1a1a" stroke-width="0.25">3</text>
<line x1="72.44" y1="543.4" x2="72.44" y2="547" stroke="#6e6e6e" stroke-width="0.9"/>
<text x="72.44" y="554" font-size="7" text-anchor="middle" fill="#1a1a1a" stroke="#1a1a1a" stroke-width="0.25">5</text>
<line x1="84.42" y1="543.4" x2="84.42" y2="547" stroke="#6e6e6e" stroke-width="0.9"/>
<text x="84.42" y="554" font-size="7" text-anchor="middle" fill="#1a1a1a" stroke="#1a1a1a" stroke-width="0.25">6</text>
<line x1="96.4" y1="543.4" x2="96.4" y2="547" stroke="#6e6e6e" stroke-width="0.9"/>
<text x="96.4" y="554" font-size="7" text-anchor="middle" fill="#1a1a1a" stroke="#1a1a1a" stroke-width="0.25">9</text>
<line x1="108.38" y1="543.4" x2="108.38" y2="547" stroke="#6e6e6e" stroke-width="0.9"/>
<text x="108.38" y="554" font-size="7" text-anchor="middle" fill="#1a1a1a" stroke="#1a1a1a" stroke-width="0.25">11</text>
<text x="71.5" y="563.2" font-size="7.2" text-anchor="middle" fill="#1a1a1a" stroke="#1a1a1a" stroke-width="0.25">Days after injection</text>
<text x="5.9" y="499.5" font-size="7.2" text-anchor="middle" fill="#1a1a1a" stroke="#1a1a1a" stroke-width="0.25" transform="rotate(-90 5.9 499.5)">Body weight (%)</text>
<line x1="30.6" y1="444.6" x2="39" y2="444.6" stroke="#5a6fae" stroke-width="0.8"/>
<circle cx="34.8" cy="444.6" r="2.2" fill="#2f4b94"/>
<text x="40.6" y="446.6" font-size="5.5" text-anchor="start" fill="#2a2a2a" stroke="#2a2a2a" stroke-width="0.06">PBS</text>
<line x1="30.6" y1="451" x2="39" y2="451" stroke="#d9474c" stroke-width="0.8"/>
<circle cx="34.8" cy="451" r="2.2" fill="#d2232a"/>
<text x="40.6" y="453" font-size="5.5" text-anchor="start" fill="#2a2a2a" stroke="#2a2a2a" stroke-width="0.06">omPD1-IL15m 5 mg/kg</text>
<line x1="30.6" y1="457.7" x2="39" y2="457.7" stroke="#4cb86a" stroke-width="0.8"/>
<circle cx="34.8" cy="457.7" r="2.2" fill="#2ea44f"/>
<text x="40.6" y="459.7" font-size="5.5" text-anchor="start" fill="#2a2a2a" stroke="#2a2a2a" stroke-width="0.06">αCD8 + omPD1-IL15m 5 mg/kg</text>
<line x1="30.6" y1="464" x2="39" y2="464" stroke="#8e5aa8" stroke-width="0.8"/>
<circle cx="34.8" cy="464" r="2.2" fill="#7b3f9c"/>
<text x="40.6" y="466" font-size="5.5" text-anchor="start" fill="#2a2a2a" stroke="#2a2a2a" stroke-width="0.06">FTY720 + omPD1-IL15m 5 mg/kg</text>
<line x1="30.6" y1="470.2" x2="39" y2="470.2" stroke="#f0a060" stroke-width="0.8"/>
<circle cx="34.8" cy="470.2" r="2.2" fill="#ec8a3a"/>
<text x="40.6" y="472.2" font-size="5.5" text-anchor="start" fill="#2a2a2a" stroke="#2a2a2a" stroke-width="0.06">αNK1.1 + omPD1-IL15m 5 mg/kg</text>
<line x1="36.5" y1="495.1" x2="36.5" y2="503.1" stroke="#f3b787" stroke-width="0.55"/>
<line x1="34.9" y1="495.1" x2="38.1" y2="495.1" stroke="#f3b787" stroke-width="0.55"/>
<line x1="34.9" y1="503.1" x2="38.1" y2="503.1" stroke="#f3b787" stroke-width="0.55"/>
<line x1="48.48" y1="493.7" x2="48.48" y2="501.7" stroke="#f3b787" stroke-width="0.55"/>
<line x1="46.88" y1="493.7" x2="50.08" y2="493.7" stroke="#f3b787" stroke-width="0.55"/>
<line x1="46.88" y1="501.7" x2="50.08" y2="501.7" stroke="#f3b787" stroke-width="0.55"/>
<line x1="60.46" y1="492.8" x2="60.46" y2="500.8" stroke="#f3b787" stroke-width="0.55"/>
<line x1="58.86" y1="492.8" x2="62.06" y2="492.8" stroke="#f3b787" stroke-width="0.55"/>
<line x1="58.86" y1="500.8" x2="62.06" y2="500.8" stroke="#f3b787" stroke-width="0.55"/>
<line x1="72.44" y1="492.8" x2="72.44" y2="500.8" stroke="#f3b787" stroke-width="0.55"/>
<line x1="70.84" y1="492.8" x2="74.04" y2="492.8" stroke="#f3b787" stroke-width="0.55"/>
<line x1="70.84" y1="500.8" x2="74.04" y2="500.8" stroke="#f3b787" stroke-width="0.55"/>
<line x1="84.42" y1="492.8" x2="84.42" y2="500.8" stroke="#f3b787" stroke-width="0.55"/>
<line x1="82.82" y1="492.8" x2="86.02" y2="492.8" stroke="#f3b787" stroke-width="0.55"/>
<line x1="82.82" y1="500.8" x2="86.02" y2="500.8" stroke="#f3b787" stroke-width="0.55"/>
<line x1="96.4" y1="483.7" x2="96.4" y2="489.7" stroke="#f3b787" stroke-width="0.55"/>
<line x1="94.8" y1="483.7" x2="98" y2="483.7" stroke="#f3b787" stroke-width="0.55"/>
<line x1="94.8" y1="489.7" x2="98" y2="489.7" stroke="#f3b787" stroke-width="0.55"/>
<line x1="108.38" y1="484.4" x2="108.38" y2="490.4" stroke="#f3b787" stroke-width="0.55"/>
<line x1="106.78" y1="484.4" x2="109.98" y2="484.4" stroke="#f3b787" stroke-width="0.55"/>
<line x1="106.78" y1="490.4" x2="109.98" y2="490.4" stroke="#f3b787" stroke-width="0.55"/>
<polyline points="36.5,499.1 48.48,497.7 60.46,496.8 72.44,496.8 84.42,496.8 96.4,486.7 108.38,487.4" fill="none" stroke="#f0a060" stroke-width="0.65"/>
<circle cx="36.5" cy="499.1" r="2.1" fill="#ec8a3a"/>
<circle cx="48.48" cy="497.7" r="2.1" fill="#ec8a3a"/>
<circle cx="60.46" cy="496.8" r="2.1" fill="#ec8a3a"/>
<circle cx="72.44" cy="496.8" r="2.1" fill="#ec8a3a"/>
<circle cx="84.42" cy="496.8" r="2.1" fill="#ec8a3a"/>
<circle cx="96.4" cy="486.7" r="2.1" fill="#ec8a3a"/>
<circle cx="108.38" cy="487.4" r="2.1" fill="#ec8a3a"/>
<line x1="36.5" y1="495.1" x2="36.5" y2="503.1" stroke="#e27578" stroke-width="0.55"/>
<line x1="34.9" y1="495.1" x2="38.1" y2="495.1" stroke="#e27578" stroke-width="0.55"/>
<line x1="34.9" y1="503.1" x2="38.1" y2="503.1" stroke="#e27578" stroke-width="0.55"/>
<line x1="48.48" y1="493.7" x2="48.48" y2="501.7" stroke="#e27578" stroke-width="0.55"/>
<line x1="46.88" y1="493.7" x2="50.08" y2="493.7" stroke="#e27578" stroke-width="0.55"/>
<line x1="46.88" y1="501.7" x2="50.08" y2="501.7" stroke="#e27578" stroke-width="0.55"/>
<line x1="60.46" y1="493.6" x2="60.46" y2="503.6" stroke="#e27578" stroke-width="0.55"/>
<line x1="58.86" y1="493.6" x2="62.06" y2="493.6" stroke="#e27578" stroke-width="0.55"/>
<line x1="58.86" y1="503.6" x2="62.06" y2="503.6" stroke="#e27578" stroke-width="0.55"/>
<line x1="72.44" y1="517.1" x2="72.44" y2="525.1" stroke="#e27578" stroke-width="0.55"/>
<line x1="70.84" y1="517.1" x2="74.04" y2="517.1" stroke="#e27578" stroke-width="0.55"/>
<line x1="70.84" y1="525.1" x2="74.04" y2="525.1" stroke="#e27578" stroke-width="0.55"/>
<line x1="84.42" y1="529.1" x2="84.42" y2="537.1" stroke="#e27578" stroke-width="0.55"/>
<line x1="82.82" y1="529.1" x2="86.02" y2="529.1" stroke="#e27578" stroke-width="0.55"/>
<line x1="82.82" y1="537.1" x2="86.02" y2="537.1" stroke="#e27578" stroke-width="0.55"/>
<line x1="96.4" y1="513.2" x2="96.4" y2="521.2" stroke="#e27578" stroke-width="0.55"/>
<line x1="94.8" y1="513.2" x2="98" y2="513.2" stroke="#e27578" stroke-width="0.55"/>
<line x1="94.8" y1="521.2" x2="98" y2="521.2" stroke="#e27578" stroke-width="0.55"/>
<line x1="108.38" y1="495.8" x2="108.38" y2="503.8" stroke="#e27578" stroke-width="0.55"/>
<line x1="106.78" y1="495.8" x2="109.98" y2="495.8" stroke="#e27578" stroke-width="0.55"/>
<line x1="106.78" y1="503.8" x2="109.98" y2="503.8" stroke="#e27578" stroke-width="0.55"/>
<polyline points="36.5,499.1 48.48,497.7 60.46,498.6 72.44,521.1 84.42,533.1 96.4,517.2 108.38,499.8" fill="none" stroke="#d9474c" stroke-width="0.65"/>
<circle cx="36.5" cy="499.1" r="2.1" fill="#d2232a"/>
<circle cx="48.48" cy="497.7" r="2.1" fill="#d2232a"/>
<circle cx="60.46" cy="498.6" r="2.1" fill="#d2232a"/>
<circle cx="72.44" cy="521.1" r="2.1" fill="#d2232a"/>
<circle cx="84.42" cy="533.1" r="2.1" fill="#d2232a"/>
<circle cx="96.4" cy="517.2" r="2.1" fill="#d2232a"/>
<circle cx="108.38" cy="499.8" r="2.1" fill="#d2232a"/>
<line x1="36.5" y1="495.1" x2="36.5" y2="503.1" stroke="#aa83bd" stroke-width="0.55"/>
<line x1="34.9" y1="495.1" x2="38.1" y2="495.1" stroke="#aa83bd" stroke-width="0.55"/>
<line x1="34.9" y1="503.1" x2="38.1" y2="503.1" stroke="#aa83bd" stroke-width="0.55"/>
<line x1="48.48" y1="493.7" x2="48.48" y2="501.7" stroke="#aa83bd" stroke-width="0.55"/>
<line x1="46.88" y1="493.7" x2="50.08" y2="493.7" stroke="#aa83bd" stroke-width="0.55"/>
<line x1="46.88" y1="501.7" x2="50.08" y2="501.7" stroke="#aa83bd" stroke-width="0.55"/>
<line x1="60.46" y1="491.6" x2="60.46" y2="499.6" stroke="#aa83bd" stroke-width="0.55"/>
<line x1="58.86" y1="491.6" x2="62.06" y2="491.6" stroke="#aa83bd" stroke-width="0.55"/>
<line x1="58.86" y1="499.6" x2="62.06" y2="499.6" stroke="#aa83bd" stroke-width="0.55"/>
<line x1="72.44" y1="507.5" x2="72.44" y2="515.5" stroke="#aa83bd" stroke-width="0.55"/>
<line x1="70.84" y1="507.5" x2="74.04" y2="507.5" stroke="#aa83bd" stroke-width="0.55"/>
<line x1="70.84" y1="515.5" x2="74.04" y2="515.5" stroke="#aa83bd" stroke-width="0.55"/>
<line x1="84.42" y1="519.4" x2="84.42" y2="527.4" stroke="#aa83bd" stroke-width="0.55"/>
<line x1="82.82" y1="519.4" x2="86.02" y2="519.4" stroke="#aa83bd" stroke-width="0.55"/>
<line x1="82.82" y1="527.4" x2="86.02" y2="527.4" stroke="#aa83bd" stroke-width="0.55"/>
<line x1="96.4" y1="509.6" x2="96.4" y2="517.6" stroke="#aa83bd" stroke-width="0.55"/>
<line x1="94.8" y1="509.6" x2="98" y2="509.6" stroke="#aa83bd" stroke-width="0.55"/>
<line x1="94.8" y1="517.6" x2="98" y2="517.6" stroke="#aa83bd" stroke-width="0.55"/>
<line x1="108.38" y1="495.8" x2="108.38" y2="503.8" stroke="#aa83bd" stroke-width="0.55"/>
<line x1="106.78" y1="495.8" x2="109.98" y2="495.8" stroke="#aa83bd" stroke-width="0.55"/>
<line x1="106.78" y1="503.8" x2="109.98" y2="503.8" stroke="#aa83bd" stroke-width="0.55"/>
<polyline points="36.5,499.1 48.48,497.7 60.46,495.6 72.44,511.5 84.42,523.4 96.4,513.6 108.38,499.8" fill="none" stroke="#8e5aa8" stroke-width="0.65"/>
<circle cx="36.5" cy="499.1" r="2.1" fill="#7b3f9c"/>
<circle cx="48.48" cy="497.7" r="2.1" fill="#7b3f9c"/>
<circle cx="60.46" cy="495.6" r="2.1" fill="#7b3f9c"/>
<circle cx="72.44" cy="511.5" r="2.1" fill="#7b3f9c"/>
<circle cx="84.42" cy="523.4" r="2.1" fill="#7b3f9c"/>
<circle cx="96.4" cy="513.6" r="2.1" fill="#7b3f9c"/>
<circle cx="108.38" cy="499.8" r="2.1" fill="#7b3f9c"/>
<line x1="36.5" y1="495.1" x2="36.5" y2="503.1" stroke="#78c98f" stroke-width="0.55"/>
<line x1="34.9" y1="495.1" x2="38.1" y2="495.1" stroke="#78c98f" stroke-width="0.55"/>
<line x1="34.9" y1="503.1" x2="38.1" y2="503.1" stroke="#78c98f" stroke-width="0.55"/>
<line x1="48.48" y1="493.7" x2="48.48" y2="501.7" stroke="#78c98f" stroke-width="0.55"/>
<line x1="46.88" y1="493.7" x2="50.08" y2="493.7" stroke="#78c98f" stroke-width="0.55"/>
<line x1="46.88" y1="501.7" x2="50.08" y2="501.7" stroke="#78c98f" stroke-width="0.55"/>
<line x1="60.46" y1="491" x2="60.46" y2="499" stroke="#78c98f" stroke-width="0.55"/>
<line x1="58.86" y1="491" x2="62.06" y2="491" stroke="#78c98f" stroke-width="0.55"/>
<line x1="58.86" y1="499" x2="62.06" y2="499" stroke="#78c98f" stroke-width="0.55"/>
<line x1="72.44" y1="517.1" x2="72.44" y2="525.1" stroke="#78c98f" stroke-width="0.55"/>
<line x1="70.84" y1="517.1" x2="74.04" y2="517.1" stroke="#78c98f" stroke-width="0.55"/>
<line x1="70.84" y1="525.1" x2="74.04" y2="525.1" stroke="#78c98f" stroke-width="0.55"/>
<line x1="84.42" y1="519.4" x2="84.42" y2="527.4" stroke="#78c98f" stroke-width="0.55"/>
<line x1="82.82" y1="519.4" x2="86.02" y2="519.4" stroke="#78c98f" stroke-width="0.55"/>
<line x1="82.82" y1="527.4" x2="86.02" y2="527.4" stroke="#78c98f" stroke-width="0.55"/>
<line x1="96.4" y1="502.5" x2="96.4" y2="510.5" stroke="#78c98f" stroke-width="0.55"/>
<line x1="94.8" y1="502.5" x2="98" y2="502.5" stroke="#78c98f" stroke-width="0.55"/>
<line x1="94.8" y1="510.5" x2="98" y2="510.5" stroke="#78c98f" stroke-width="0.55"/>
<line x1="108.38" y1="491" x2="108.38" y2="499" stroke="#78c98f" stroke-width="0.55"/>
<line x1="106.78" y1="491" x2="109.98" y2="491" stroke="#78c98f" stroke-width="0.55"/>
<line x1="106.78" y1="499" x2="109.98" y2="499" stroke="#78c98f" stroke-width="0.55"/>
<polyline points="36.5,499.1 48.48,497.7 60.46,495 72.44,521.1 84.42,523.4 96.4,506.5 108.38,495" fill="none" stroke="#4cb86a" stroke-width="0.65"/>
<circle cx="36.5" cy="499.1" r="2.1" fill="#2ea44f"/>
<circle cx="48.48" cy="497.7" r="2.1" fill="#2ea44f"/>
<circle cx="60.46" cy="495" r="2.1" fill="#2ea44f"/>
<circle cx="72.44" cy="521.1" r="2.1" fill="#2ea44f"/>
<circle cx="84.42" cy="523.4" r="2.1" fill="#2ea44f"/>
<circle cx="96.4" cy="506.5" r="2.1" fill="#2ea44f"/>
<circle cx="108.38" cy="495" r="2.1" fill="#2ea44f"/>
<line x1="36.5" y1="495.1" x2="36.5" y2="503.1" stroke="#8393c2" stroke-width="0.55"/>
<line x1="34.9" y1="495.1" x2="38.1" y2="495.1" stroke="#8393c2" stroke-width="0.55"/>
<line x1="34.9" y1="503.1" x2="38.1" y2="503.1" stroke="#8393c2" stroke-width="0.55"/>
<line x1="48.48" y1="490.5" x2="48.48" y2="498.5" stroke="#8393c2" stroke-width="0.55"/>
<line x1="46.88" y1="490.5" x2="50.08" y2="490.5" stroke="#8393c2" stroke-width="0.55"/>
<line x1="46.88" y1="498.5" x2="50.08" y2="498.5" stroke="#8393c2" stroke-width="0.55"/>
<line x1="60.46" y1="488.5" x2="60.46" y2="495.5" stroke="#8393c2" stroke-width="0.55"/>
<line x1="58.86" y1="488.5" x2="62.06" y2="488.5" stroke="#8393c2" stroke-width="0.55"/>
<line x1="58.86" y1="495.5" x2="62.06" y2="495.5" stroke="#8393c2" stroke-width="0.55"/>
<line x1="72.44" y1="489.2" x2="72.44" y2="496.2" stroke="#8393c2" stroke-width="0.55"/>
<line x1="70.84" y1="489.2" x2="74.04" y2="489.2" stroke="#8393c2" stroke-width="0.55"/>
<line x1="70.84" y1="496.2" x2="74.04" y2="496.2" stroke="#8393c2" stroke-width="0.55"/>
<line x1="84.42" y1="486.8" x2="84.42" y2="493.8" stroke="#8393c2" stroke-width="0.55"/>
<line x1="82.82" y1="486.8" x2="86.02" y2="486.8" stroke="#8393c2" stroke-width="0.55"/>
<line x1="82.82" y1="493.8" x2="86.02" y2="493.8" stroke="#8393c2" stroke-width="0.55"/>
<line x1="96.4" y1="480.4" x2="96.4" y2="487.4" stroke="#8393c2" stroke-width="0.55"/>
<line x1="94.8" y1="480.4" x2="98" y2="480.4" stroke="#8393c2" stroke-width="0.55"/>
<line x1="94.8" y1="487.4" x2="98" y2="487.4" stroke="#8393c2" stroke-width="0.55"/>
<line x1="108.38" y1="479.2" x2="108.38" y2="487.2" stroke="#8393c2" stroke-width="0.55"/>
<line x1="106.78" y1="479.2" x2="109.98" y2="479.2" stroke="#8393c2" stroke-width="0.55"/>
<line x1="106.78" y1="487.2" x2="109.98" y2="487.2" stroke="#8393c2" stroke-width="0.55"/>
<polyline points="36.5,499.1 48.48,494.5 60.46,492 72.44,492.7 84.42,490.3 96.4,483.9 108.38,483.2" fill="none" stroke="#5a6fae" stroke-width="0.65"/>
<circle cx="36.5" cy="499.1" r="2.1" fill="#2f4b94"/>
<circle cx="48.48" cy="494.5" r="2.1" fill="#2f4b94"/>
<circle cx="60.46" cy="492" r="2.1" fill="#2f4b94"/>
<circle cx="72.44" cy="492.7" r="2.1" fill="#2f4b94"/>
<circle cx="84.42" cy="490.3" r="2.1" fill="#2f4b94"/>
<circle cx="96.4" cy="483.9" r="2.1" fill="#2f4b94"/>
<circle cx="108.38" cy="483.2" r="2.1" fill="#2f4b94"/>
<text x="137.6" y="438.5" font-size="12.2" text-anchor="start" font-weight="bold" fill="#000" stroke="#000" stroke-width="0.3">N</text>
<line x1="160.9" y1="455.1" x2="160.9" y2="545.4" stroke="#6e6e6e" stroke-width="0.9"/>
<line x1="157.7" y1="545.4" x2="160.9" y2="545.4" stroke="#6e6e6e" stroke-width="0.9"/>
<text x="157" y="548.18" font-size="6.6" text-anchor="end" fill="#1a1a1a" stroke="#1a1a1a" stroke-width="0.25">0.0</text>
<line x1="157.7" y1="527.4" x2="160.9" y2="527.4" stroke="#6e6e6e" stroke-width="0.9"/>
<text x="157" y="530.18" font-size="6.6" text-anchor="end" fill="#1a1a1a" stroke="#1a1a1a" stroke-width="0.25">0.5</text>
<line x1="157.7" y1="509.4" x2="160.9" y2="509.4" stroke="#6e6e6e" stroke-width="0.9"/>
<text x="157" y="512.18" font-size="6.6" text-anchor="end" fill="#1a1a1a" stroke="#1a1a1a" stroke-width="0.25">1.0</text>
<line x1="157.7" y1="491.4" x2="160.9" y2="491.4" stroke="#6e6e6e" stroke-width="0.9"/>
<text x="157" y="494.18" font-size="6.6" text-anchor="end" fill="#1a1a1a" stroke="#1a1a1a" stroke-width="0.25">1.5</text>
<line x1="157.7" y1="473.4" x2="160.9" y2="473.4" stroke="#6e6e6e" stroke-width="0.9"/>
<text x="157" y="476.18" font-size="6.6" text-anchor="end" fill="#1a1a1a" stroke="#1a1a1a" stroke-width="0.25">2.0</text>
<line x1="157.7" y1="455.4" x2="160.9" y2="455.4" stroke="#6e6e6e" stroke-width="0.9"/>
<text x="157" y="458.18" font-size="6.6" text-anchor="end" fill="#1a1a1a" stroke="#1a1a1a" stroke-width="0.25">2.5</text>
<line x1="160.9" y1="545.4" x2="252" y2="545.4" stroke="#6e6e6e" stroke-width="0.9"/>
<text x="141.2" y="501.3" font-size="7" text-anchor="middle" fill="#1a1a1a" stroke="#1a1a1a" stroke-width="0.25" transform="rotate(-90 141.2 501.3)">Cells/tumor (10<tspan font-size="4.4" dy="-2.4">6</tspan><tspan dy="2.4">)</tspan></text>
<circle cx="167.7" cy="444.6" r="2.1" fill="#2f4b94"/>
<text x="173.8" y="446.6" font-size="5.5" text-anchor="start" fill="#2a2a2a" stroke="#2a2a2a" stroke-width="0.06">PBS</text>
<circle cx="167.7" cy="451" r="2.1" fill="#d2232a"/>
<text x="173.8" y="453" font-size="5.5" text-anchor="start" fill="#2a2a2a" stroke="#2a2a2a" stroke-width="0.06">omPD1-IL15m 0.1 mg/kg</text>
<circle cx="167.7" cy="456.8" r="2.1" fill="#7b3f9c"/>
<text x="173.8" y="458.8" font-size="5.5" text-anchor="start" fill="#2a2a2a" stroke="#2a2a2a" stroke-width="0.06">omPD1-IL15m 1 mg/kg</text>
<circle cx="167.7" cy="462.6" r="2.1" fill="#ec8a3a"/>
<text x="173.8" y="464.6" font-size="5.5" text-anchor="start" fill="#2a2a2a" stroke="#2a2a2a" stroke-width="0.06">omPD1-IL15m 5 mg/kg</text>
<text x="198.5" y="438.6" font-size="7.2" text-anchor="middle" font-weight="bold" fill="#1a1a1a" stroke="#1a1a1a" stroke-width="0.3">NK</text>
<rect x="168.2" y="540.4" width="13.4" height="5" fill="#c9cbe8" stroke="#8d93c6" stroke-width="0.6"/>
<line x1="174.9" y1="537.5" x2="174.9" y2="540.4" stroke="#8d93c6" stroke-width="0.6"/>
<line x1="173.1" y1="537.5" x2="176.7" y2="537.5" stroke="#8d93c6" stroke-width="0.6"/>
<line x1="173.1" y1="540.4" x2="176.7" y2="540.4" stroke="#8d93c6" stroke-width="0.6"/>
<circle cx="175" cy="534" r="1.9" fill="#000"/>
<circle cx="173.2" cy="540.4" r="1.9" fill="#000"/>
<circle cx="169.5" cy="543.5" r="1.9" fill="#000"/>
<circle cx="176.8" cy="543.1" r="1.9" fill="#000"/>
<circle cx="180.1" cy="540.9" r="1.9" fill="#000"/>
<rect x="189.3" y="534.9" width="13.7" height="10.5" fill="#f6cfca" stroke="#e8918b" stroke-width="0.6"/>
<line x1="196.15" y1="528.5" x2="196.15" y2="541.5" stroke="#e8918b" stroke-width="0.6"/>
<line x1="194.35" y1="528.5" x2="197.95" y2="528.5" stroke="#e8918b" stroke-width="0.6"/>
<line x1="194.35" y1="541.5" x2="197.95" y2="541.5" stroke="#e8918b" stroke-width="0.6"/>
<circle cx="190.7" cy="528.5" r="1.9" fill="#000"/>
<circle cx="196" cy="528.1" r="1.9" fill="#000"/>
<circle cx="201.1" cy="530.7" r="1.9" fill="#000"/>
<circle cx="193.3" cy="542.2" r="1.9" fill="#000"/>
<circle cx="198" cy="542.2" r="1.9" fill="#000"/>
<rect x="210.3" y="529.4" width="13.3" height="16" fill="#d6d0ea" stroke="#a39ad0" stroke-width="0.6"/>
<line x1="216.95" y1="520.3" x2="216.95" y2="538.5" stroke="#a39ad0" stroke-width="0.6"/>
<line x1="215.15" y1="520.3" x2="218.75" y2="520.3" stroke="#a39ad0" stroke-width="0.6"/>
<line x1="215.15" y1="538.5" x2="218.75" y2="538.5" stroke="#a39ad0" stroke-width="0.6"/>
<circle cx="211.7" cy="528.9" r="1.9" fill="#000"/>
<circle cx="216.7" cy="516.1" r="1.9" fill="#000"/>
<circle cx="221.8" cy="527.6" r="1.9" fill="#000"/>
<circle cx="216.7" cy="533.6" r="1.9" fill="#000"/>
<circle cx="216.7" cy="539.1" r="1.9" fill="#000"/>
<rect x="230.9" y="508.4" width="13.2" height="37" fill="#fcdcc0" stroke="#eeb88c" stroke-width="0.6"/>
<line x1="237.5" y1="489.2" x2="237.5" y2="525.8" stroke="#eeb88c" stroke-width="0.6"/>
<line x1="235.7" y1="489.2" x2="239.3" y2="489.2" stroke="#eeb88c" stroke-width="0.6"/>
<line x1="235.7" y1="525.8" x2="239.3" y2="525.8" stroke="#eeb88c" stroke-width="0.6"/>
<circle cx="237.7" cy="475.1" r="1.9" fill="#000"/>
<circle cx="237.7" cy="509.3" r="1.9" fill="#000"/>
<circle cx="232.2" cy="519" r="1.9" fill="#000"/>
<circle cx="237.7" cy="517.5" r="1.9" fill="#000"/>
<circle cx="242.6" cy="519" r="1.9" fill="#000"/>
<text x="266.7" y="438.5" font-size="12.2" text-anchor="start" font-weight="bold" fill="#000" stroke="#000" stroke-width="0.3">O</text>
<line x1="292.6" y1="455" x2="292.6" y2="544.9" stroke="#6e6e6e" stroke-width="0.9"/>
<line x1="289.4" y1="544.9" x2="292.6" y2="544.9" stroke="#6e6e6e" stroke-width="0.9"/>
<text x="288.7" y="547.68" font-size="6.6" text-anchor="end" fill="#1a1a1a" stroke="#1a1a1a" stroke-width="0.25">0.0</text>
<line x1="289.4" y1="522.5" x2="292.6" y2="522.5" stroke="#6e6e6e" stroke-width="0.9"/>
<text x="288.7" y="525.28" font-size="6.6" text-anchor="end" fill="#1a1a1a" stroke="#1a1a1a" stroke-width="0.25">0.2</text>
<line x1="289.4" y1="500.1" x2="292.6" y2="500.1" stroke="#6e6e6e" stroke-width="0.9"/>
<text x="288.7" y="502.88" font-size="6.6" text-anchor="end" fill="#1a1a1a" stroke="#1a1a1a" stroke-width="0.25">0.4</text>
<line x1="289.4" y1="477.7" x2="292.6" y2="477.7" stroke="#6e6e6e" stroke-width="0.9"/>
<text x="288.7" y="480.48" font-size="6.6" text-anchor="end" fill="#1a1a1a" stroke="#1a1a1a" stroke-width="0.25">0.6</text>
<line x1="289.4" y1="455.3" x2="292.6" y2="455.3" stroke="#6e6e6e" stroke-width="0.9"/>
<text x="288.7" y="458.08" font-size="6.6" text-anchor="end" fill="#1a1a1a" stroke="#1a1a1a" stroke-width="0.25">0.8</text>
<line x1="292.6" y1="544.9" x2="383.4" y2="544.9" stroke="#6e6e6e" stroke-width="0.9"/>
<text x="273" y="497.3" font-size="7" text-anchor="middle" fill="#1a1a1a" stroke="#1a1a1a" stroke-width="0.25" transform="rotate(-90 273 497.3)">Cells/100 µL blood (10<tspan font-size="4.4" dy="-2.4">6</tspan><tspan dy="2.4">)</tspan></text>
<circle cx="299.4" cy="444.6" r="2.1" fill="#2f4b94"/>
<text x="305" y="446.6" font-size="5.5" text-anchor="start" fill="#2a2a2a" stroke="#2a2a2a" stroke-width="0.06">PBS</text>
<circle cx="299.4" cy="451" r="2.1" fill="#d2232a"/>
<text x="305" y="453" font-size="5.5" text-anchor="start" fill="#2a2a2a" stroke="#2a2a2a" stroke-width="0.06">omPD1-IL15m 0.1 mg/kg</text>
<circle cx="299.4" cy="456.8" r="2.1" fill="#7b3f9c"/>
<text x="305" y="458.8" font-size="5.5" text-anchor="start" fill="#2a2a2a" stroke="#2a2a2a" stroke-width="0.06">omPD1-IL15m 1 mg/kg</text>
<circle cx="299.4" cy="462.6" r="2.1" fill="#ec8a3a"/>
<text x="305" y="464.6" font-size="5.5" text-anchor="start" fill="#2a2a2a" stroke="#2a2a2a" stroke-width="0.06">omPD1-IL15m 5 mg/kg</text>
<text x="331" y="438.6" font-size="7.2" text-anchor="middle" font-weight="bold" fill="#1a1a1a" stroke="#1a1a1a" stroke-width="0.3">NK</text>
<rect x="300.2" y="543.2" width="13.4" height="1.7" fill="#c9cbe8" stroke="#8d93c6" stroke-width="0.6"/>
<circle cx="301.1" cy="543.5" r="1.9" fill="#000"/>
<circle cx="303.9" cy="541.3" r="1.9" fill="#000"/>
<circle cx="306.6" cy="543.5" r="1.9" fill="#000"/>
<circle cx="309.4" cy="541.7" r="1.9" fill="#000"/>
<circle cx="312.1" cy="543.5" r="1.9" fill="#000"/>
<rect x="320.9" y="540.9" width="13.5" height="4" fill="#f6cfca" stroke="#e8918b" stroke-width="0.6"/>
<circle cx="322.2" cy="540.4" r="1.9" fill="#000"/>
<circle cx="324.9" cy="539.5" r="1.9" fill="#000"/>
<circle cx="327.6" cy="539.8" r="1.9" fill="#000"/>
<circle cx="330.4" cy="539.5" r="1.9" fill="#000"/>
<circle cx="333.1" cy="540.9" r="1.9" fill="#000"/>
<rect x="341.4" y="520.3" width="13.7" height="24.6" fill="#d6d0ea" stroke="#a39ad0" stroke-width="0.6"/>
<line x1="348.25" y1="514.5" x2="348.25" y2="526" stroke="#a39ad0" stroke-width="0.6"/>
<line x1="346.45" y1="514.5" x2="350.05" y2="514.5" stroke="#a39ad0" stroke-width="0.6"/>
<line x1="346.45" y1="526" x2="350.05" y2="526" stroke="#a39ad0" stroke-width="0.6"/>
<circle cx="342.8" cy="514.2" r="1.9" fill="#000"/>
<circle cx="348.3" cy="516.6" r="1.9" fill="#000"/>
<circle cx="353.2" cy="514.2" r="1.9" fill="#000"/>
<circle cx="348.3" cy="525.8" r="1.9" fill="#000"/>
<circle cx="348.3" cy="529.4" r="1.9" fill="#000"/>
<rect x="362.4" y="485" width="13.7" height="59.9" fill="#fcdcc0" stroke="#eeb88c" stroke-width="0.6"/>
<line x1="369.25" y1="480" x2="369.25" y2="490" stroke="#eeb88c" stroke-width="0.6"/>
<line x1="367.45" y1="480" x2="371.05" y2="480" stroke="#eeb88c" stroke-width="0.6"/>
<line x1="367.45" y1="490" x2="371.05" y2="490" stroke="#eeb88c" stroke-width="0.6"/>
<circle cx="369.1" cy="473.3" r="1.9" fill="#000"/>
<circle cx="369.1" cy="477.3" r="1.9" fill="#000"/>
<circle cx="363.7" cy="483.7" r="1.9" fill="#000"/>
<circle cx="373.9" cy="484.6" r="1.9" fill="#000"/>
<circle cx="369.1" cy="488.6" r="1.9" fill="#000"/>
</svg>
</body></html>
